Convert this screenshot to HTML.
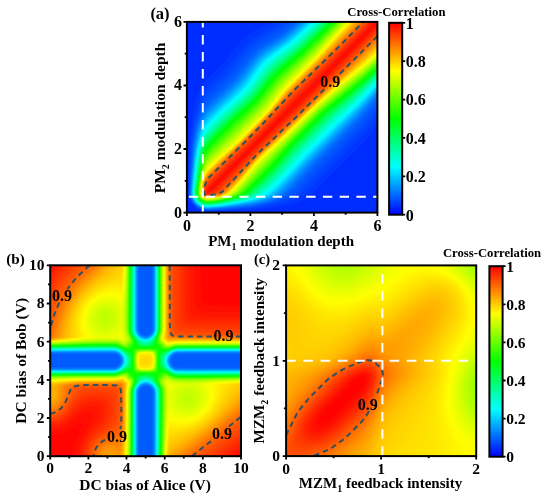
<!DOCTYPE html>
<html><head><meta charset="utf-8"><title>Cross-Correlation maps</title>
<style>html,body{margin:0;padding:0;background:#fff}svg{display:block}text{font-family:"Liberation Serif",serif;font-weight:bold;fill:#000}</style>
</head><body>
<svg width="550" height="501" viewBox="0 0 550 501">
<rect width="550" height="501" fill="#fff"/>
<g><rect x="186.9" y="21.9" width="190.5" height="190.7" fill="#002dff"/>
<path fill="#0036ff" d="M267,22.9 268,21.9 377.4,21.9 377.4,127.4 375.4,129.3 357.2,148.7 327.3,178.7 314.3,192.6 312.1,194.6 309.5,196.6 303.2,200.2 296.2,203 288.2,205.2 279.1,206.9 261.1,209.3 249.1,210.3 210,212.1 204.9,212 200.9,211 198.9,210.2 195.9,208.4 193.8,206.6 191.1,203.6 189.4,200.6 188.5,198.6 187.6,194.6 187.4,192.6 188.5,158.7 189.6,137.7 190.5,128.7 193.2,109.8 194.7,102.8 196.4,96.8 198.4,91.8 200.4,87.8 202.2,84.8 204.3,81.8 207,78.9 216.6,69.8 222,64.3 226,59.6 236.5,45.9 241,40.7 245.1,36.9 249.1,33.9Z"/>
<path fill="#003fff" d="M275.6,22.9 276.4,21.9 377.4,21.9 377.4,119.7 375.4,121.5 354.3,144.1 322.3,176.4 307.2,192.6 303.5,195.6 299.2,198.1 292.2,201.1 285.2,203.2 267.1,206.9 258.1,208.3 248.1,209.2 213,211.2 205.9,211.3 203.9,211.1 200.9,210.2 197.9,208.8 194.9,206.7 192.8,204.6 191.3,202.6 189.3,198.6 188.5,195.6 188.2,192.6 188.4,182.6 189.6,156.7 190.3,143.7 191.2,134.7 192.6,125.7 195.6,110.8 197.4,103.8 199.1,98.8 201.9,92.8 203.8,89.8 205.3,87.8 208,85 219,74.8 225,68.8 230,62.9 240.9,48.9 246.1,43.1 249.1,40.4 253.1,37.4 268.8,27.9 273.1,24.9Z"/>
<path fill="#0048ff" d="M281.9,21.9 377.4,21.9 377.4,114.1 376.4,114.9 353.4,139.7 320.7,172.7 303.1,191.6 299.6,194.6 296.4,196.6 291.2,199 284.2,201.3 269.1,205.2 264.1,206.3 257.1,207.4 251.1,208.2 239,209.1 220,210.3 209,210.8 205.9,210.8 203.9,210.5 201.9,210.1 199.9,209.3 197.9,208.3 194.9,206.1 192.6,203.6 191.3,201.6 190.2,199.6 189.2,196.6 188.7,193.6 188.7,191.6 190.4,154.7 191.3,142.7 192.1,135.7 193.4,127.7 195.4,118.7 198.7,106.8 201.3,99.8 203.4,95.8 205.9,92.2 208.3,89.8 222.3,76.8 228,71 233,65.1 243.2,51.9 249.1,45.3 252.1,42.7 256.1,39.8 270.9,30.9 275.1,28 280.1,23.9Z"/>
<path fill="#0051ff" d="M285.8,22.9 286.6,21.9 377.4,21.9 377.4,109.2 376.4,110.1 364,123.7 352.3,136.3 318.2,170.6 299.7,190.6 296.5,193.6 293.4,195.6 290.2,197.2 286.7,198.6 273.1,203.1 265.1,205.1 255.1,206.9 247.1,207.8 233,209 218,210 210,210.4 204.9,210.3 202.9,209.9 199.9,208.9 196.9,207.2 195,205.6 193.1,203.6 191.7,201.6 190.3,198.6 189.6,196.6 189.1,193.6 189.1,190.6 189.5,180.7 191.1,153.7 191.8,144.7 192.6,137.7 194.2,128.7 196.1,120.7 199.6,109.8 202.2,102.8 204.4,98.8 207,95.4 223,80.5 229.7,73.8 234.8,67.8 245.6,53.8 251.1,47.8 254.1,45.1 258.1,42.1 272.1,33.7 277.1,30.4 280.3,27.9Z"/>
<path fill="#0059ff" d="M290,22.9 290.8,21.9 377.4,21.9 377.4,104.9 376.4,105.7 368.4,114.8 348.3,136.4 316.2,168.6 295.8,190.6 293.2,193 290.2,195.1 287.2,196.6 282.1,198.8 273.1,202.1 265.1,204.3 254.1,206.4 236,208.2 221,209.4 209,210.1 205.9,210.1 203.9,209.8 201.9,209.3 198.9,208 195.9,206 194.4,204.6 192.8,202.6 191.5,200.6 190.3,197.6 189.8,195.6 189.5,193.6 189.5,190.6 191.4,155.7 192.4,144.7 193.3,137.7 195.2,127.7 197.1,120.7 199.5,113.8 202.9,105.6 204.9,101.9 205.9,100.5 208,98.3 225.7,81.8 232.6,74.8 237,69.6 247.6,55.8 251.1,51.9 254,48.9 257.1,46.3 261.1,43.5 273.8,35.9 279.1,32.4 283.2,29.2Z"/>
<path fill="#0062ff" d="M293.4,22.9 294.3,21.9 377.4,21.9 377.4,101.3 376.4,102.2 367.2,112.8 350.4,130.7 314.2,167.2 294.4,188.6 290.2,192.6 288.2,194.2 285.9,195.6 283.2,197.1 278.1,199.3 270.1,202.2 262.1,204.3 253.1,205.9 233,208.1 219,209.2 209,209.8 205.9,209.7 203.9,209.5 201.9,208.9 199.9,208.2 197.9,207.1 195.9,205.6 194,203.6 192.5,201.6 191.4,199.6 190.3,196.6 189.8,193.6 189.8,191.6 190.2,180.7 191.6,159.7 192.4,149.7 193.6,139.7 195.3,130.7 197.1,123.7 199.4,116.8 202.5,109.8 204.9,105.3 208,101.7 227.2,83.8 234,77 239,71 248.3,58.8 251.6,54.8 255.1,51.2 258.1,48.5 262.1,45.6 276.5,36.9 281,33.9 284.7,30.9Z"/>
<path fill="#006bff" d="M295.6,22.9 296.4,21.9 377.4,21.9 377.4,99.1 376.4,100 367,110.8 352.9,125.7 343.2,135.7 313.2,165.8 292.9,187.6 287.8,192.6 283.6,195.6 277.1,198.8 270.1,201.4 261.1,203.9 253.1,205.4 231,207.8 218,209 209,209.5 205.9,209.5 203.9,209.2 200.9,208.3 198.9,207.3 196.9,206.1 194.9,204.3 193.5,202.6 191.7,199.6 190.6,196.6 190.2,194.6 190.1,189.6 190.6,180.7 192.2,156.7 193.2,146.7 194.3,138.7 195.7,131.7 197.5,124.7 200.4,116.8 202.9,111.2 204.9,107.8 208,104.2 228.8,84.8 235,78.6 239.1,73.8 250.5,58.8 253.9,54.8 256.9,51.9 260.1,49.1 264.1,46.2 276.2,38.9 282.1,34.9 285.8,31.9Z"/>
<path fill="#0074ff" d="M298.1,21.9 377.4,21.9 377.4,97.5 375.4,99.4 366.3,109.8 356.3,120.4 343.3,133.8 312.2,164.9 292.1,186.6 285.9,192.6 281.7,195.6 279.1,197 275.1,198.8 268.1,201.4 259.1,203.8 251.1,205.2 237,206.9 223,208.3 209,209.2 205.9,209.2 203.9,208.9 200.9,208 198.9,207.1 195.6,204.6 193.8,202.6 192.5,200.6 191.5,198.6 190.6,195.6 190.3,193.6 190.3,190.6 192.5,157.7 193.4,148.7 194.7,139.7 196.3,131.7 198.2,124.7 200.4,118.7 202.9,113.2 204.9,109.9 208,106.2 214,100.4 229.8,85.8 236,79.6 241,73.5 251.4,59.8 257.1,53.5 260.1,50.8 264.1,47.8 278.3,38.9 284,34.9 295.2,24.9 297.3,22.9Z"/>
<path fill="#007dff" d="M298.8,22.9 299.5,21.9 377.4,21.9 377.4,96.1 375.4,98 365.9,108.8 357.3,117.8 344.3,131.1 311.9,163.7 291.2,185.9 285.4,191.6 283,193.6 281.1,194.9 278.2,196.6 275.1,198.1 267.1,201.1 258.1,203.5 249.1,205 239,206.3 222,208.1 209,209 205.9,209 203.9,208.7 201.9,208.1 198.9,206.8 196.9,205.4 194.9,203.6 193.4,201.6 192.2,199.6 191.4,197.6 190.7,194.6 190.6,190.6 191.2,179.7 192.7,159.7 193.6,150.7 195.2,139.7 196.6,132.7 198.6,125.7 200.7,119.7 203.1,114.8 205.9,110.2 209,106.9 215,101.1 230.5,86.8 237,80.3 242,74.2 252.1,60.8 255.1,57.3 258.1,54.1 261.1,51.4 265.1,48.4 278.6,39.9 284.3,35.9 289,31.9Z"/>
<path fill="#0086ff" d="M300,22.9 300.8,21.9 377.4,21.9 377.4,94.8 376.4,95.6 366.6,106.8 360.4,113.4 348.3,125.7 311.2,162.9 290.2,185.5 283.9,191.6 280.1,194.6 275.1,197.3 268.1,200.2 259.1,202.7 251.1,204.3 238,206.1 221,207.9 210,208.7 207,208.8 204.9,208.6 202.9,208.2 199.9,207.1 197.9,205.9 195.9,204.3 194.4,202.6 193,200.6 191.7,197.6 191.1,195.6 190.8,193.6 190.8,190.6 191.4,180.7 193.2,157.7 194.2,148.7 195.5,140.7 196.7,134.7 198.5,127.7 200.6,121.7 203.4,115.8 205.9,111.8 209,108.5 215,102.6 231.1,87.8 238,80.8 243,74.6 252.6,61.8 255.9,57.8 259.1,54.6 262.2,51.9 266.1,48.9 280.1,39.9 284.5,36.9 288.2,33.8Z"/>
<path fill="#008eff" d="M302,21.9 377.4,21.9 377.4,93.7 375.4,95.6 367.3,104.8 360.4,112.2 311.1,161.7 289.7,184.6 282.5,191.6 278.7,194.6 276.1,196.1 272.1,198 264.1,200.9 256.1,203 244.1,204.9 220,207.8 209,208.5 205.9,208.5 203.9,208.2 200.9,207.3 198.9,206.3 196.9,204.9 195.5,203.6 193.9,201.6 192.7,199.6 191.6,196.6 191.1,194.6 191,192.6 191.1,189.6 191.6,180.7 193.4,158.7 194.3,150.7 195.4,143.7 196.7,136.7 198.8,128.7 201.3,121.7 203.7,116.8 205.9,113.3 210,108.9 217,102.1 231.4,88.8 238,82.3 243,76.2 253.8,61.8 259.1,55.8 262.1,53.1 266.1,50 280.2,40.9 285.8,36.9 299.1,24.9 301.2,22.9Z"/>
<path fill="#0097ff" d="M303.1,21.9 377.4,21.9 377.4,92.6 375.4,94.5 367.2,103.8 360.4,111.1 310.2,161.3 288.5,184.6 281.3,191.6 277.4,194.6 274.1,196.5 271.1,197.8 267.1,199.4 262.1,201 254.1,202.9 242,204.9 221,207.4 208,208.4 204.9,208.2 202.9,207.8 200.9,207.1 198.9,206.1 196.9,204.6 194.9,202.6 193.5,200.6 192.5,198.6 191.8,196.6 191.3,194.6 191.2,192.6 191.3,189.6 193.5,160.7 194.4,152.7 195.4,145.7 197.1,136.7 198.7,130.7 201.1,123.7 203.9,117.7 207,113.4 211,109.2 217,103.4 232.8,88.8 239,82.5 244.1,76.4 254.1,62.8 257.1,59.3 260.1,56.1 263.1,53.4 267.1,50.3 280.1,41.8 286.2,37.5 289.3,34.9 299.1,25.9 302.3,22.9Z"/>
<path fill="#00a0ff" d="M304.1,21.9 377.4,21.9 377.4,91.6 375.4,93.5 365.4,104.8 358.4,112.1 309.2,161.2 287.3,184.6 280,191.6 276.1,194.6 272.5,196.6 269.1,198.1 261.1,200.8 257.1,201.8 251.1,203.1 240,204.9 220,207.3 208,208.2 204.9,208 202.9,207.5 200.9,206.8 198.9,205.8 196.9,204.4 195.1,202.6 193.7,200.6 192.7,198.6 192,196.6 191.5,194.6 191.4,192.6 191.5,189.6 193.7,161.7 194.6,153.7 195.6,146.7 197.6,136.7 199.2,130.7 201.3,124.7 203.9,119 205.4,116.8 207,114.7 211,110.4 217.9,103.8 233,89.8 239.1,83.8 244.1,77.9 255.1,62.8 257.7,59.8 260.5,56.8 263.8,53.8 267.1,51.3 281.4,41.9 286.8,37.9 300.2,25.9 303.3,22.9Z"/>
<path fill="#00a9ff" d="M305.1,21.9 377.4,21.9 377.4,90.7 375.4,92.6 366.3,102.8 359.4,110.1 337.5,131.7 308.6,160.7 287.2,183.7 278.9,191.6 274.9,194.6 272.1,196.2 269.1,197.6 262.1,200.1 254.1,202.1 243,204.1 220,207.1 209,208 205.9,207.9 203.9,207.6 201.9,207 199.9,206.2 197.9,204.9 196.3,203.6 194.6,201.6 193.4,199.6 192.5,197.6 191.9,195.6 191.6,193.6 191.6,190.6 192.3,180.7 194.2,159.7 195.8,147.7 197.6,138.7 199.3,131.7 201.4,125.7 203.9,120.3 205.5,117.7 207,115.9 211.8,110.8 218,104.8 233.2,90.8 240,84 245.1,77.9 255.4,63.8 258.1,60.5 261.1,57.4 264.1,54.6 268.1,51.5 282.6,41.9 287.9,37.9 302.2,24.9 304.3,22.9Z"/>
<path fill="#00b2ff" d="M306,21.9 377.4,21.9 377.4,89.8 375.4,91.7 365.5,102.8 359.4,109.2 337.3,130.9 308.2,160 286.2,183.6 278.1,191.3 274.1,194.4 271.1,196.1 268.1,197.5 261.1,199.9 251.1,202.3 240,204.3 220,206.9 208,207.8 205.9,207.7 202.9,207.2 200.9,206.4 198.9,205.4 196.9,203.9 195.6,202.6 194.2,200.6 193.1,198.6 192.4,196.6 191.8,193.6 191.9,188.6 194.5,159.7 195.3,152.7 196.3,146.7 198.4,136.7 199.8,131.7 201.9,125.7 204.4,120.7 207,117 213,110.8 219,105 234,91.1 240.4,84.8 245.1,79.2 256.1,64.1 258.8,60.8 261.7,57.8 265,54.8 268.1,52.4 282.3,42.9 288.2,38.5 303.2,24.9 305.3,22.9Z"/>
<path fill="#0bf" d="M306.2,22.9 306.9,21.9 377.4,21.9 377.4,88.9 375.4,90.8 365.4,102 358.4,109.3 336.4,130.7 307.5,159.7 286.1,182.6 277.8,190.6 275.5,192.6 273.1,194.3 270.9,195.6 267.1,197.4 260.1,199.8 250.1,202.2 239,204.1 219,206.8 208,207.6 204.9,207.4 202.9,207 200.9,206.2 198.9,205.2 196.9,203.7 195.9,202.6 194.4,200.6 193.3,198.6 192.6,196.6 192.1,194.6 192,192.6 192.1,188.6 194.6,160.7 195.4,153.7 196.4,147.7 198.6,137.7 200.2,131.7 202.5,125.7 204.5,121.7 207,118.2 213,111.8 219.3,105.8 234.4,91.8 241,85.2 246.1,79.1 256.4,64.8 259.1,61.6 262.1,58.4 265.1,55.7 269.1,52.5 283.2,43 288.2,39.3 295.4,32.9Z"/>
<path fill="#00c3ff" d="M307,22.9 307.8,21.9 377.4,21.9 377.4,88.1 375.4,90 364.8,101.8 358.4,108.5 336.4,129.7 307.5,158.7 285.2,182.6 277.1,190.3 273.1,193.6 270.1,195.5 267.7,196.6 264.1,198.1 260.1,199.4 249.1,202.1 238,204 220,206.5 208,207.4 204.9,207.2 202.9,206.8 200.9,206 198.9,205 197.1,203.6 195.9,202.4 194.6,200.6 193.5,198.6 192.5,195.6 192.2,193.6 192.3,188.6 194.9,160.7 195.6,154.7 196.5,148.7 198.5,139.7 200.4,132.7 202.6,126.7 204.9,122.1 208,118.1 214.1,111.8 220,106.1 235,92.3 241.5,85.8 246.1,80.3 257.1,65.1 259.8,61.8 262.7,58.8 266,55.8 269.8,52.9 283.2,43.8 288.4,39.9 295.2,33.9Z"/>
<path fill="#0cf" d="M307.9,22.9 308.6,21.9 377.4,21.9 377.4,87.3 375.4,89.1 364.9,100.8 358.4,107.6 336.3,128.9 307.2,158 284.2,182.6 276.1,190.3 272.1,193.6 270.1,194.9 267.1,196.4 261.1,198.7 251.1,201.3 240,203.5 221,206.2 209,207.2 205.9,207.2 203.9,206.9 201.9,206.3 199.9,205.4 197.9,204.1 196.3,202.6 194.2,199.6 193.3,197.6 192.7,195.6 192.4,193.6 192.4,190.6 195.1,160.7 196.6,149.7 198.4,141.7 200.8,132.7 202.9,127 204.9,123.1 208,119.2 215,111.9 235.5,92.8 242,86.3 247.1,80.2 257.4,65.8 260.1,62.6 263.1,59.4 266.1,56.6 270.1,53.5 284,43.9 289.2,40 298.3,31.9Z"/>
<path fill="#00d5ff" d="M308.7,22.9 309.4,21.9 377.4,21.9 377.4,86.5 375.4,88.4 364.4,100.6 358.4,106.8 335.5,128.7 306.6,157.7 284.2,181.7 275.9,189.6 271.1,193.6 269.1,194.9 266.1,196.4 260.1,198.5 250.1,201.2 239,203.4 220,206.1 209,207 205.9,207 203.9,206.7 201.9,206.1 199.9,205.2 197.9,203.8 196.6,202.6 194.4,199.6 193.5,197.6 192.9,195.6 192.5,193.6 192.5,190.6 195.3,160.7 196.7,150.7 198.5,142.7 200.9,133.7 202.9,128.2 204.9,124.2 208,120.2 215,112.9 221,107.1 236,93.3 242.5,86.8 247.1,81.3 258.1,66 260.7,62.8 263.6,59.8 266.9,56.8 270.7,53.8 285,43.9 290.2,39.9 300.2,30.9Z"/>
<path fill="#00deff" d="M309.5,22.9 310.2,21.9 377.4,21.9 377.4,85.8 375.4,87.6 364.4,99.8 358.4,106.1 335.3,128.1 306.7,156.7 283.3,181.6 275,189.6 270.1,193.6 268.1,194.8 265.1,196.3 259.1,198.4 249.1,201.1 238,203.3 220,205.9 209,206.9 205.9,206.8 203.9,206.5 201.9,205.9 199.9,205 197.9,203.6 196.8,202.6 195.2,200.6 194.1,198.6 193.3,196.6 192.9,194.6 192.7,190.6 195.6,160.7 197.2,149.7 199,141.7 201.3,133.7 202.9,129.3 204.9,125.3 205.9,123.7 208,121.2 215.1,113.8 221.3,107.8 236.5,93.8 243,87.3 248.1,81.1 258.3,66.8 261.1,63.4 264.1,60.2 267.1,57.5 271.1,54.3 285.2,44.5 290.2,40.6 299.9,31.9Z"/>
<path fill="#00e7ff" d="M311,21.9 377.4,21.9 377.4,85.1 375.4,86.8 364.4,99 357.9,105.8 334.7,127.7 306.2,156.3 283.2,180.9 274,189.6 271.8,191.6 269.1,193.6 267.1,194.8 264.1,196.3 258.1,198.3 248.1,201.1 237,203.2 220,205.7 209,206.7 205.9,206.7 203.9,206.3 201.9,205.7 199.7,204.6 196.9,202.5 195.4,200.6 194.3,198.6 193.5,196.6 193,194.6 192.8,192.6 193,189.6 195.8,160.7 197.3,150.7 198.8,143.7 201.1,135.7 202.9,130.4 204.9,126.3 205.9,124.7 208,122.2 216,113.8 222,108.1 237,94.2 243.5,87.8 248.4,81.8 259.1,66.8 261.6,63.8 264.4,60.8 267.6,57.8 271.4,54.8 285.2,45.2 290.7,40.9 306.2,26.8 310.3,22.9Z"/>
<path fill="#00f0ff" d="M311.1,22.9 311.8,21.9 377.4,21.9 377.4,84.3 375.4,86.1 363.4,99.3 357.3,105.5 334.3,127.3 305.9,155.7 288.2,174.8 282.1,181 273.1,189.6 270.8,191.6 268.2,193.6 266.1,194.8 263.1,196.2 255.1,198.9 246.1,201.2 236,203.1 221,205.4 209,206.5 206,206.5 203.9,206.2 201.9,205.5 199.9,204.6 198.5,203.6 196.9,202.3 195.6,200.6 194.4,198.6 193.7,196.6 193.2,194.6 193,192.6 193.1,189.6 196,160.7 197.5,150.7 199.4,142.7 201.5,135.7 203.3,130.7 205.3,126.7 208,123.2 216,114.8 222.2,108.8 238,94.2 244.1,88.2 249.1,82 259.1,67.8 262.1,64.2 265.1,61 268.6,57.8 272.4,54.8 286.2,45.1 291.2,41.2 301.2,32.2Z"/>
<path fill="#00f8ff" d="M311.9,22.9 312.6,21.9 377.4,21.9 377.4,83.6 375.4,85.4 363.4,98.5 357.3,104.7 333.9,126.7 306,154.7 281.6,180.7 272.1,189.7 269.9,191.6 267.1,193.6 265.1,194.8 262.1,196.1 253.1,199.1 245.1,201.2 235,203.1 221,205.2 209,206.4 205.9,206.3 203.9,206 201.9,205.4 199.9,204.4 197.9,203 196.5,201.6 195.1,199.6 194.2,197.6 193.5,195.6 193.2,193.6 193.3,188.6 196.2,160.7 197.8,150.7 199.4,143.7 201.9,135.5 203.9,130.4 205.9,126.7 209,123 218,113.8 238,95.1 244.4,88.8 249.3,82.8 259.9,67.8 262.4,64.8 265.2,61.8 268.4,58.8 272.1,55.8 285.2,46.6 291.2,42 301.2,32.9Z"/>
<path fill="#00fffd" d="M312.7,22.9 313.4,21.9 377.4,21.9 377.4,82.9 375.4,84.6 363.4,97.7 357.3,103.9 333.3,126.4 305.2,154.5 287.2,173.9 281.1,180.2 273.3,187.6 267.6,192.6 265.1,194.2 262.2,195.6 256.1,197.8 247.1,200.4 237,202.5 221,205.1 209,206.2 205.9,206.2 203.9,205.8 201.9,205.2 199.9,204.2 197.9,202.8 196.7,201.6 195.3,199.6 194.3,197.6 193.7,195.6 193.4,193.6 193.5,188.6 196.4,160.7 198,150.7 199.7,143.7 201.9,136.6 203.9,131.5 205.9,127.8 209,124 217.9,114.8 238.3,95.8 245.1,89.1 249.4,83.8 260.1,68.7 263.1,65.1 266.1,61.9 269.5,58.8 273.2,55.8 286.2,46.6 291.2,42.7 300.2,34.7Z"/>
<path fill="#00fff4" d="M313.6,22.9 314.3,21.9 377.4,21.9 377.4,82.1 375.4,83.9 362.4,97.9 356.3,104 333.3,125.4 305.2,153.4 298.3,160.7 286.2,174 280.7,179.7 272.3,187.6 266.5,192.6 264.1,194.1 261,195.6 254.1,198.2 246.1,200.4 236,202.4 221,204.9 209,206.1 205.9,206 203.9,205.7 201.9,205 199.9,204 198,202.6 196.9,201.6 195.5,199.6 194.5,197.6 193.9,195.6 193.5,193.6 193.7,188.6 196.7,160.7 198.3,150.7 199.7,144.7 201.9,137.6 203.9,132.5 205.9,128.8 209,125.1 218,115.7 224,109.9 239,96.1 245.4,89.8 250.3,83.8 260.2,69.8 263.1,66.2 266.2,62.8 269.4,59.8 273.1,56.8 287.2,46.6 292.2,42.7 302.2,33.7Z"/>
<path fill="#00ffeb" d="M315.2,21.9 377.4,21.9 377.4,81.4 375.4,83.1 362.4,97 356.3,103.1 332.8,124.7 305.2,152.3 298.2,159.6 285.4,173.7 279.6,179.7 271.2,187.6 265.4,192.6 263.1,194.1 260,195.6 256.1,197.1 251.1,198.8 242,201.1 231,203.1 219,205 212,205.7 208,205.9 205.9,205.9 203.9,205.5 201.9,204.9 199.9,203.9 198.2,202.6 196.9,201.4 195.7,199.6 194.7,197.6 194,195.6 193.7,193.6 193.8,188.6 196.9,160.7 198.3,151.7 199.7,145.7 201.9,138.6 203.9,133.6 205.9,129.8 209,126.1 218.9,115.8 239.3,96.8 246.1,90.1 251.1,83.9 261.1,69.8 264.1,66.2 267.1,63 270.1,60.2 274.1,57 288.2,46.7 293.2,42.7 309.3,27.9 313.5,23.9Z"/>
<path fill="#00ffe2" d="M316.1,21.9 377.4,21.9 377.4,80.7 375.4,82.4 362.4,96.1 355.3,103.1 335.9,120.7 330.3,126.1 302.2,154.3 285.4,172.7 280.1,178.1 271.3,186.6 264.4,192.6 262.1,194.1 259,195.6 255.1,197.1 250.1,198.8 241,201.1 228,203.4 217,205.1 208,205.8 205.9,205.7 203.9,205.4 201.9,204.7 199.9,203.7 197.9,202.2 196.5,200.6 195.3,198.6 194.5,196.6 194,194.6 193.8,192.6 194.1,187.6 197.2,159.7 198.5,151.7 200,145.7 201.9,139.6 203.9,134.5 205.9,130.8 209,127 219,116.6 225,110.9 240,97.1 246.4,90.8 251.1,85.1 262.1,69.8 264.5,66.8 267.3,63.8 270.6,60.8 274.2,57.8 289,46.9 294,42.9 310.2,27.9 314.4,23.9Z"/>
<path fill="#00ffd9" d="M316.2,22.9 317,21.9 377.4,21.9 377.4,80.1 375.4,81.8 362.4,95.3 355.3,102.3 336,119.7 329.6,125.7 301.2,154.3 285.4,171.7 279.6,177.7 271.1,185.9 263.4,192.6 261.1,194.1 258,195.6 254.1,197.2 249.1,198.8 240,201 227,203.4 216,205 208,205.6 205.9,205.6 203.9,205.2 201.9,204.5 199.9,203.5 197.9,202 196.7,200.6 195.5,198.6 194.6,196.6 194.1,194.6 193.9,192.6 194.2,187.6 197.4,159.7 198.8,151.7 200.3,145.7 202.2,139.7 203.9,135.4 205.9,131.7 209.2,127.7 219.8,116.8 240.2,97.8 247.1,91 252.1,84.8 262.2,70.8 265.1,67.2 268.1,64.1 271.1,61.3 275.1,58 288.8,47.9 293.8,43.9 305.8,32.9Z"/>
<path fill="#00ffd1" d="M317,22.9 317.8,21.9 377.4,21.9 377.4,79.4 375.4,81.1 361.4,95.5 354.3,102.4 336,118.7 329.7,124.7 301.2,153.2 284.5,171.7 279.1,177.2 270.1,185.9 262.4,192.6 260.1,194.1 257.1,195.6 253.1,197.2 248.1,198.8 240,200.8 226,203.4 215,205 208,205.5 206,205.4 203.9,205.1 201.9,204.4 199.9,203.3 197.9,201.8 196.9,200.6 195.6,198.6 194.8,196.6 194.3,194.6 194.1,192.6 194.3,187.6 197.5,160.7 198.8,152.7 200.3,146.7 202.2,140.7 203.9,136.3 205.9,132.6 209.1,128.7 220,117.4 226,111.6 241,97.9 247.2,91.8 252.1,85.9 263,70.8 265.5,67.8 268.3,64.8 271.5,61.8 275.1,58.8 288.5,48.9 294.2,44.3 306.6,32.9Z"/>
<path fill="#00ffc8" d="M317.8,22.9 318.5,21.9 377.4,21.9 377.4,78.9 375.4,80.5 361.4,94.8 354.3,101.6 336.2,117.7 329.3,124.2 300.2,153.3 284.5,170.7 278.8,176.7 269.5,185.6 261.5,192.6 259.1,194.2 256.2,195.6 252.1,197.2 247.8,198.6 239,200.8 225,203.4 214,205 207,205.3 204.9,205.1 202.9,204.6 199.9,203.2 198,201.6 197.1,200.6 195.3,197.6 194.6,195.6 194.3,193.6 194.4,188.6 197.7,160.7 199,152.7 200.2,147.7 202.1,141.7 203.9,137.2 205.9,133.5 208,130.8 209.9,128.7 220.4,117.7 226,112.4 241,98.7 248,91.8 252.9,85.8 263.1,71.7 266.1,68.1 269.1,64.9 272.5,61.8 276.1,58.8 289.2,49 294.4,44.9 307.2,33.1Z"/>
<path fill="#00ffbf" d="M318.5,22.9 319.3,21.9 377.4,21.9 377.4,78.3 375.4,80 361.4,94.1 354.3,100.9 335.2,117.7 328.8,123.7 300.2,152.4 283.7,170.7 278.1,176.5 268.6,185.6 260.7,192.6 258.1,194.3 255.4,195.6 251.1,197.3 247.1,198.6 240,200.4 225,203.3 214,204.8 207,205.2 204.9,205 202.9,204.5 199.9,203 198.2,201.6 197.3,200.6 196,198.6 195.1,196.6 194.4,193.6 194.5,188.6 198.1,159.7 199.3,152.7 200.5,147.7 202.4,141.7 203.9,138 205.9,134.3 208,131.7 210,129.4 221,118 227,112.3 241.8,98.8 248.1,92.6 253.1,86.5 263.8,71.8 269.1,65.8 272.3,62.8 276.1,59.6 290.2,49 295.2,44.9 308.2,32.8Z"/>
<path fill="#00ffb6" d="M320,21.9 377.4,21.9 377.4,77.8 375.4,79.4 361.4,93.4 353.3,101.1 334.3,117.7 328.3,123.4 299.2,152.6 283.8,169.7 278.1,175.7 268.1,185.3 259.8,192.6 257.1,194.4 254.5,195.6 247.1,198.3 239,200.4 224,203.3 214,204.7 207,205.1 204.9,204.8 202.9,204.3 199.9,202.8 198.4,201.6 197.4,200.6 196.1,198.6 195.2,196.6 194.7,194.6 194.5,192.6 194.7,188.6 198.3,159.7 199.5,152.7 200.9,147.1 202.7,141.7 203.9,138.8 205.9,135.1 208,132.4 210,130.2 221,118.7 227,113 242,99.3 248.6,92.8 253.6,86.8 264.1,72.4 267.1,68.8 270,65.8 276.8,59.8 290.2,49.7 296,44.9 314.2,27.9 318.3,23.9Z"/>
<path fill="#00ffad" d="M319.9,22.9 320.7,21.9 377.4,21.9 377.4,77.2 375.4,78.9 361.4,92.8 353.3,100.4 334.5,116.8 328.1,122.7 299.2,151.7 283,169.7 277.4,175.7 267.1,185.5 259,192.6 256.1,194.5 253.7,195.6 250.1,197.1 246.1,198.4 239,200.1 224,203.1 214,204.5 207,204.9 204.9,204.7 202.9,204.2 199.9,202.7 197.6,200.6 196.3,198.6 195.4,196.6 194.9,194.6 194.6,192.6 194.8,188.6 198.3,160.7 199.5,153.7 200.7,148.7 202.7,142.7 203.9,139.6 205.9,135.9 208,133.2 210,131 221.7,118.7 228,112.8 242.3,99.8 249.1,93.1 254.1,87 264.5,72.8 267.1,69.7 270.1,66.5 277.1,60.3 290.8,49.9 296.2,45.4 309.6,32.9Z"/>
<path fill="#00ffa4" d="M320.6,22.9 321.3,21.9 377.4,21.9 377.4,76.7 375.4,78.4 360.4,93.1 352.3,100.7 334.8,115.8 328.3,121.7 299.2,150.8 282.3,169.7 277.1,175.1 267.1,184.8 258.2,192.6 256.1,194 252.9,195.6 246.1,198.1 239,199.9 224,203 214,204.4 207,204.8 204.9,204.5 202.9,204 199.9,202.5 197.9,200.8 197,199.6 195.5,196.6 195,194.6 194.8,192.6 195.1,187.6 198.6,160.7 199.7,153.7 200.9,148.8 202.6,143.7 203.9,140.3 205.9,136.6 208,134 210,131.7 222,119.2 228,113.5 243,99.8 249.2,93.8 254.2,87.8 265.1,73 267.8,69.8 270.6,66.8 277.4,60.8 291.2,50.2 296.2,46 310.2,33Z"/>
<path fill="#00ff9c" d="M322,21.9 377.4,21.9 377.4,76.2 375.4,77.8 361.4,91.5 352.3,100 334,115.8 327.4,121.7 298.2,151 282.5,168.7 276.8,174.7 266.5,184.6 257.5,192.6 255.1,194.2 252.2,195.6 245.1,198.2 237,200.2 223,203 214,204.2 207,204.6 204.9,204.4 202.9,203.9 199.9,202.3 198,200.6 197.2,199.6 195.7,196.6 195.1,194.6 194.9,192.6 195.2,187.6 198.6,161.7 199.9,153.7 201.2,148.7 202.9,143.7 204.1,140.7 205.9,137.3 208,134.7 210,132.5 222.2,119.7 228,114.2 243,100.5 249.9,93.8 254.8,87.8 265.2,73.8 268.1,70.3 271.1,67.1 278.1,60.9 291.2,50.8 297.1,45.9 315.2,28.8 320.3,23.9Z"/>
<path fill="#00ff93" d="M321.9,22.9 322.6,21.9 377.4,21.9 377.4,75.8 375.4,77.4 352.3,99.4 334.3,114.8 327.3,121.1 298.2,150.2 281.8,168.7 277.1,173.7 266.1,184.3 256.7,192.6 254.1,194.3 251.4,195.6 245.1,197.9 237,200 223,202.8 214,204.1 207,204.5 204.9,204.3 202.9,203.7 199.9,202.2 198.2,200.6 197.4,199.6 196.2,197.6 195.5,195.6 195.1,192.6 195.3,187.6 198.5,163.7 200.1,153.7 201.4,148.7 202.9,144.2 204.5,140.7 205.9,138.1 208,135.4 210.4,132.7 222.9,119.7 229,113.9 243.5,100.8 250.1,94.3 255.1,88.3 265.8,73.8 271.2,67.8 277.8,61.8 291.9,50.9 297.2,46.4 311.2,33.3Z"/>
<path fill="#00ff8a" d="M322.6,22.9 323.3,21.9 377.4,21.9 377.4,75.3 375.4,76.9 360.4,91.3 351.3,99.6 333.4,114.8 326.9,120.7 297.9,149.7 293.2,154.9 282,167.7 276.3,173.7 265,184.6 256,192.6 253.1,194.5 250.7,195.6 245.1,197.7 236,200 222,202.8 214,204 207,204.4 204.9,204.1 202.9,203.6 199.9,202 198.3,200.6 197.5,199.6 196.4,197.6 195.7,195.6 195.2,192.6 195.5,187.6 198.4,165.7 200.4,153.7 201.4,149.7 202.9,145 204.3,141.7 205.9,138.8 208,136.1 210.1,133.7 223,120.3 229,114.6 244.1,100.9 250.3,94.8 255.3,88.8 266.1,74.3 269.1,70.8 271.9,67.8 278.7,61.8 292.2,51.3 297.4,46.9 311.2,33.9Z"/>
<path fill="#00ff81" d="M323.2,22.9 323.9,21.9 377.4,21.9 377.4,74.8 375.4,76.4 360.4,90.7 351.3,99 332.6,114.8 326.3,120.6 297.2,149.7 281.3,167.7 276.1,173.1 265.3,183.6 257.7,190.6 255.3,192.6 253.1,194.1 249.9,195.6 244.1,197.7 231,200.9 221,202.8 213,203.9 207,204.2 204.9,204 202.9,203.4 199.9,201.9 198.5,200.6 197.7,199.6 196.5,197.6 195.8,195.6 195.3,192.6 195.6,187.6 198.5,166.7 200.6,153.7 201.6,149.7 202.9,145.7 204.2,142.7 205.9,139.5 208,136.8 210.7,133.7 223,120.9 229,115.2 244.1,101.6 251,94.8 255.9,88.8 266.4,74.8 269.1,71.6 272.1,68.4 279.1,62.1 292.2,51.9 298.1,46.9 313,32.9Z"/>
<path fill="#00ff78" d="M323.8,22.9 324.5,21.9 377.4,21.9 377.4,74.4 375.4,76 361.4,89.2 351.3,98.4 333,113.8 326.3,119.8 297.2,148.9 292.2,154.4 280.6,167.7 275.9,172.7 264.6,183.6 257,190.6 254.6,192.6 252.1,194.2 249.2,195.6 243.7,197.6 230,201 220,202.9 213,203.8 207,204.1 204.9,203.9 202.9,203.3 199.9,201.7 197.9,199.6 196.7,197.6 195.9,195.6 195.5,192.6 195.7,187.6 198.5,167.7 200.8,153.7 201.9,149.7 203.2,145.7 204.9,141.9 206.3,139.7 208,137.5 212,133.1 223.9,120.7 230,114.9 244.6,101.8 250.7,95.8 255.8,89.8 267.1,74.8 272.4,68.8 279.1,62.8 293.2,51.7 298.2,47.4 313.2,33.2Z"/>
<path fill="#00ff6f" d="M325.1,21.9 377.4,21.9 377.4,73.9 375.4,75.5 360.4,89.6 350.3,98.7 332.2,113.8 325.6,119.7 296.7,148.7 291.2,154.7 280.8,166.7 275.2,172.7 263.9,183.6 256.3,190.6 253.9,192.6 251.1,194.4 248.5,195.6 242.9,197.6 230,200.8 220,202.7 213,203.7 207,204 204.9,203.7 202.9,203.2 200.1,201.6 198.9,200.6 197.9,199.5 196.8,197.6 196.1,195.6 195.6,192.6 196,186.6 199.1,164.7 201,153.7 202.4,148.7 203.9,144.7 204.9,142.6 206.7,139.7 209,137 213.8,131.7 224.5,120.7 230,115.6 244.2,102.8 251.1,96.1 256.4,89.8 267.1,75.6 270.1,72 273.1,68.9 279.9,62.8 293.2,52.3 298.4,47.9 317.3,29.9 323.4,23.9Z"/>
<path fill="#00ff67" d="M325,22.9 325.7,21.9 377.4,21.9 377.4,73.5 375.4,75.1 361.4,88.1 350.3,98.1 332.6,112.8 325.3,119.3 296.2,148.4 291.2,153.9 280.1,166.7 275.1,172 263.2,183.6 255.6,190.6 253.2,192.6 251.1,194 248.1,195.5 243,197.3 232,200.2 221,202.4 213,203.5 207,203.8 204.9,203.6 202.9,203 200.3,201.6 198.9,200.5 197.9,199.3 197,197.6 196.2,195.6 195.7,192.6 196,187.6 198.5,169.7 201,154.7 201.9,151 203.4,146.7 204.9,143.3 206.5,140.7 208,138.8 212.6,133.7 224.2,121.7 230,116.2 244.9,102.8 251.1,96.8 256.2,90.8 267.6,75.8 273.1,69.6 279.5,63.8 293.2,52.8 299,47.9 314.2,33.5Z"/>
<path fill="#00ff5e" d="M325.6,22.9 326.3,21.9 377.4,21.9 377.4,73.1 375.4,74.6 361.4,87.6 350.3,97.5 331.8,112.8 325.1,118.7 296.2,147.7 291.2,153.2 279.5,166.7 274.8,171.7 262.5,183.6 254.9,190.6 252.5,192.6 250.1,194.2 247.1,195.6 242,197.4 231,200.2 221,202.3 213,203.4 207,203.7 203.9,203.2 201.9,202.4 200.5,201.6 198.9,200.3 197.9,199 197.1,197.6 196.3,195.6 195.9,192.6 196.2,186.6 199.3,165.7 201.5,153.7 202.6,149.7 203.9,146.1 205.1,143.7 207,140.7 214.1,132.7 225,121.6 231,115.9 245.1,103.3 251.7,96.8 256.8,90.8 268.1,75.9 273.6,69.8 280.2,63.8 294.2,52.6 299.2,48.3 314.2,34.1Z"/>
<path fill="#0f5" d="M326.2,22.9 326.9,21.9 377.4,21.9 377.4,72.6 375.4,74.2 362.4,86.2 350.3,96.9 331.3,112.5 324.3,118.7 295.5,147.7 290.2,153.5 279.7,165.7 274.1,171.7 261.8,183.6 254.2,190.6 251.8,192.6 248.1,194.9 245.1,196.2 242,197.2 231,200.1 221,202.1 214,203.2 207,203.6 203.9,203.1 201.9,202.3 200.8,201.6 198.9,200.1 197.9,198.8 197.3,197.6 196.5,195.6 196,192.6 196.3,187.6 199.4,166.7 201.7,153.7 202.8,149.7 203.9,146.8 205.5,143.7 207,141.4 215,132.5 225.4,121.7 231,116.5 245.2,103.8 252.1,97.1 257.4,90.8 268.1,76.7 271.1,73.2 274.1,70 281,63.8 294.2,53.2 299.2,48.9 314.2,34.6Z"/>
<path fill="#00ff4c" d="M326.8,22.9 327.5,21.9 377.4,21.9 377.4,72.2 375.4,73.8 362.4,85.7 349.3,97.2 331.4,111.8 324.3,118.1 295.2,147.2 290.2,152.8 279.1,165.7 274.1,171 261.1,183.6 253.6,190.6 251.2,192.6 249.7,193.6 247.1,195 241,197.3 230,200.2 220,202.2 213,203.1 207,203.4 203.9,202.9 200.9,201.6 198.7,199.6 197.4,197.6 196.6,195.6 196.1,192.6 196.4,187.6 199.4,167.7 201.9,153.7 202.9,150.1 203.9,147.5 205.3,144.7 207,142 215,133.1 226,121.8 232,116.2 245.9,103.8 252.1,97.7 257.2,91.8 268.7,76.8 274.1,70.7 280.6,64.8 294.2,53.8 299.9,48.9 315.2,34.3Z"/>
<path fill="#00ff43" d="M328,21.9 377.4,21.9 377.4,71.8 375.4,73.3 363.4,84.3 349.3,96.7 330.6,111.8 323.9,117.7 295,146.7 290.2,152 279.1,164.9 273.8,170.7 260.4,183.6 252.9,190.6 250.5,192.6 247.1,194.7 245,195.6 241,197 230,200 220,202 213,203 207,203.3 203.9,202.8 200.9,201.4 198.9,199.7 198.1,198.6 196.8,195.6 196.3,192.6 196.5,187.6 199.4,168.7 201.9,154.6 202.9,150.9 203.9,148.2 205.1,145.7 207,142.7 215,133.8 226,122.4 232,116.8 246.1,104.2 252.6,97.8 257.8,91.8 269.1,77 274.7,70.8 281.3,64.8 295.2,53.5 300.2,49.2 320.3,30 326.4,23.9Z"/>
<path fill="#00ff3a" d="M327.9,22.9 328.6,21.9 377.4,21.9 377.4,71.4 375.4,72.9 364.4,82.9 349.3,96.1 331.1,110.8 324.2,116.8 294.3,146.7 289.2,152.4 278.7,164.7 273.1,170.6 259.8,183.6 252.2,190.6 249.9,192.6 246.1,194.9 240,197.1 229,200.1 219,202.1 213,202.9 207,203.2 203.9,202.7 200.9,201.3 199,199.6 198.3,198.6 196.9,195.6 196.4,192.6 196.7,187.6 199.5,168.7 202.2,154.7 202.9,151.7 203.9,148.9 204.9,146.6 207,143.3 215,134.4 226.3,122.7 232,117.4 246.1,104.8 253.1,98 258.4,91.8 269.1,77.8 272.1,74.3 275.1,71.1 282.1,64.8 295.2,54.1 300.2,49.7 316.2,34.4Z"/>
<path fill="#00ff32" d="M329.2,21.9 377.4,21.9 377.4,71 375.4,72.5 363.4,83.3 348.3,96.4 330.3,110.8 323.5,116.8 294.2,146.1 289.2,151.6 278,164.7 273.1,170 260.1,182.6 251.6,190.6 249.2,192.6 247.7,193.6 245.1,195 239,197.2 229,199.9 219,201.9 213,202.7 207,203 203.9,202.5 200.9,201.1 199.2,199.6 198.4,198.6 197,195.6 196.5,192.6 196.8,187.6 199.7,168.7 202.2,155.7 202.9,152.6 203.9,149.6 204.9,147.3 207,144 209,141.6 215.3,134.7 227,122.7 233,117.1 246.8,104.8 253.1,98.7 258.2,92.8 269.7,77.8 275.1,71.8 281.7,65.8 295.2,54.7 301.2,49.4 322.3,29.2 327.6,23.9Z"/>
<path fill="#00ff29" d="M329.1,22.9 329.8,21.9 377.4,21.9 377.4,70.5 376.4,71.2 364.4,82 348.3,95.8 330.7,109.8 323.3,116.3 293.8,145.7 289.2,150.8 278.1,163.8 272.7,169.7 259.5,182.6 250.9,190.6 248.6,192.6 247.1,193.6 244.1,195.2 238,197.3 229,199.8 219,201.8 213,202.6 207,202.9 203.9,202.4 200.9,201 199.4,199.6 198.6,198.6 197.2,195.6 196.7,192.6 196.9,187.6 197.6,182.6 199.9,168.3 202.4,155.7 203.2,152.7 204.2,149.7 205.6,146.7 207,144.6 215,135.7 227,123.3 233,117.7 247.1,105.1 253.6,98.8 258.8,92.8 270.1,78.1 275.9,71.8 282.4,65.8 295.2,55.2 301.2,50 317.2,34.6Z"/>
<path fill="#00ff20" d="M329.6,22.9 330.3,21.9 377.4,21.9 377.4,70.1 376.4,70.8 364.4,81.5 348.3,95.3 330,109.8 323,115.8 293.2,145.6 288.2,151.2 277.6,163.7 272.1,169.6 257.7,183.6 250.3,190.6 247.9,192.6 244.6,194.6 242.3,195.6 238,197.1 228.9,199.6 219,201.7 213,202.5 207,202.8 203.9,202.3 200.9,200.8 199.5,199.6 198.7,198.6 197.3,195.6 196.8,192.6 197.2,186.6 200,168.7 202.6,155.7 203.8,151.7 204.5,149.7 205.9,146.8 207,145.3 209,142.9 215,136.4 227,124 233,118.3 248.1,104.8 254.1,98.9 259.4,92.8 270.2,78.8 276.1,72.2 283.1,65.8 296.2,55 301.2,50.6 317.2,35.2Z"/>
<path fill="#00ff17" d="M330.2,22.9 330.9,21.9 377.4,21.9 377.4,69.7 376.4,70.3 364.4,81 348.3,94.7 329.2,109.8 322.3,115.8 293.2,144.9 288.2,150.5 277.1,163.5 272.1,168.9 258.1,182.6 249.6,190.6 247.3,192.6 243.9,194.6 241.6,195.6 237,197.2 228.3,199.6 219,201.5 213,202.4 207,202.6 203.9,202.1 200.9,200.7 199.7,199.6 198.9,198.6 197.8,196.6 197.2,194.6 196.9,191.6 197.3,186.6 200.2,168.7 202.6,156.7 203.9,152 204.8,149.7 205.9,147.5 207,146 209,143.5 215,137 227,124.6 233.2,118.7 247.7,105.8 254.1,99.6 259.2,93.8 270.8,78.8 276.3,72.8 282.7,66.8 296.2,55.6 302.2,50.3 318.2,34.8Z"/>
<path fill="#00ff0e" d="M330.8,22.9 331.5,21.9 377.4,21.9 377.4,69.2 376.4,69.9 364.4,80.5 347.3,95 329.7,108.8 322.3,115.1 292.7,144.7 288.2,149.7 277.1,162.7 271.7,168.7 256.4,183.6 249,190.6 246.6,192.6 243,194.7 240,196 236,197.3 227.6,199.6 218,201.6 213,202.2 207,202.5 203.9,202 200.9,200.5 199.9,199.6 198.9,198.4 197.9,196.6 197.3,194.6 197.1,191.6 197.4,186.6 200.2,169.7 202.6,157.7 203.9,152.9 204.8,150.7 205.9,148.2 207,146.6 209,144.2 215,137.7 227.5,124.7 233.9,118.7 248.1,106.1 254.6,99.8 259.8,93.8 271.1,79.3 277,72.8 283.5,66.8 297.2,55.3 302.2,50.9 318.2,35.4Z"/>
<path fill="#00ff05" d="M332.1,21.9 377.4,21.9 377.4,68.8 376.4,69.4 364.4,80 347.3,94.4 328.9,108.8 322,114.8 292.2,144.5 287.2,150.1 276.1,163.1 271.1,168.6 255.7,183.6 248.4,190.6 246,192.6 242.6,194.6 240.4,195.6 236,197.1 228,199.4 218,201.4 213,202.1 207,202.4 203.9,201.8 201.9,201 200.9,200.3 199.9,199.5 198.6,197.6 197.4,194.6 197.2,191.6 197.6,186.6 200.6,168.7 202.8,157.7 203.9,153.8 204.9,151 207,147.4 209,144.9 216,137.3 228,125 234.7,118.7 249.1,105.9 255.1,100 260.4,93.8 271.1,80.1 276.7,73.8 283.1,67.8 297.2,55.9 303.2,50.6 325.3,29.1 330.5,23.9Z"/>
<path fill="#03ff00" d="M332,22.9 332.7,21.9 377.4,21.9 377.4,68.3 376.4,68.9 365.4,78.7 347.3,93.8 328.3,108.7 321.3,114.8 292.2,143.9 286.9,149.7 276.1,162.4 271.1,167.8 255.1,183.6 247.7,190.6 245.4,192.6 242,194.6 239.7,195.6 235,197.3 228,199.2 218,201.3 213,202 207,202.2 203.9,201.7 201.9,200.8 200.9,200.2 199.9,199.3 198.7,197.6 197.6,194.6 197.3,191.6 197.7,186.6 200.7,168.7 202.9,158.2 204.9,151.9 205.9,149.8 207,148.1 209,145.7 216,138.1 228,125.7 234.4,119.7 249.1,106.6 255.1,100.7 260.3,94.8 272.1,79.8 277.1,74.2 284,67.8 297.2,56.6 303.2,51.2 319.2,35.7Z"/>
<path fill="#0cff00" d="M332.6,22.9 333.3,21.9 377.4,21.9 377.4,67.8 376.4,68.4 364.4,79 346.3,94.1 328.7,107.8 321.3,114.2 291.7,143.7 287.2,148.7 275.2,162.7 270.6,167.7 253.4,184.6 247.1,190.6 244.8,192.6 241.4,194.6 235,197.1 228,199.1 218,201.2 213,201.8 207,202.1 203.9,201.6 201.9,200.7 200.9,200 199.9,199.1 198.9,197.6 197.7,194.6 197.4,191.6 197.8,186.6 200.7,169.7 202.9,159.1 204.9,152.8 207,148.9 209,146.5 216,138.9 228.9,125.7 235.3,119.7 249.1,107.4 255.8,100.8 261,94.8 272.1,80.6 277.3,74.8 283.7,68.8 298.2,56.4 303.2,51.9 318.2,37.3Z"/>
<path fill="#15ff00" d="M333.2,22.9 333.9,21.9 377.4,21.9 377.4,67.3 376.4,67.9 363.4,79.4 346.3,93.5 329.3,106.8 321.1,113.8 291.1,143.7 285.7,149.7 275.1,162 270.1,167.4 251.7,185.6 246.5,190.6 244.2,192.6 240.8,194.6 235,196.9 228,198.9 218,201 213,201.7 207,202 203.9,201.4 202.1,200.6 200.9,199.8 199.9,198.9 199,197.6 197.8,194.6 197.6,191.6 198,186.6 198.7,181.6 200.9,169.3 202.9,160 204.9,153.6 207,149.8 209,147.3 215,140.9 229,126.5 235.1,120.7 250.1,107.3 256.1,101.4 261.1,95.6 272.7,80.8 278.1,74.8 284.6,68.8 298.2,57.1 304,51.9 318.2,37.9Z"/>
<path fill="#1eff00" d="M333.8,22.9 334.5,21.9 377.4,21.9 377.4,66.8 375.4,68.3 363.4,78.8 346.3,93 327.4,107.8 320.6,113.8 290.6,143.7 275.1,161.2 270.1,166.6 251.1,185.6 245.9,190.6 243.6,192.6 240.3,194.6 234,197 228,198.7 218,200.9 213,201.6 207,201.8 203.9,201.3 202.4,200.6 200.9,199.7 199.9,198.7 199.2,197.6 198,194.6 197.7,191.6 198.2,185.6 200.9,170.2 202.9,160.9 204.9,154.4 207,150.6 209,148.1 214,142.8 229.8,126.7 236.1,120.7 250.1,108.1 256.5,101.8 261.7,95.8 272.7,81.8 278.1,75.7 285.2,69.1 298.2,57.8 304.2,52.3 317.2,39.6Z"/>
<path fill="#27ff00" d="M335.1,21.9 377.4,21.9 377.4,66.3 376.4,66.9 367.4,74.9 358.4,82.5 343.3,94.9 328.1,106.8 320.2,113.5 291,142.7 270.1,165.9 250.5,185.6 245.4,190.6 243,192.6 239.7,194.6 234,196.9 227.9,198.6 218,200.8 213,201.4 207,201.7 203.9,201.2 202.7,200.6 201.1,199.6 199.3,197.6 198.1,194.6 197.8,191.6 198.3,185.6 200.9,171.1 202.9,161.7 204.9,155.3 207,151.4 209,149 214,143.7 230.7,126.7 250.1,108.9 257.1,102 262.1,96.3 273.4,81.8 278.8,75.8 285.2,69.8 299.2,57.6 305.2,52.1 331.3,26.1 334.4,22.9Z"/>
<path fill="#30ff00" d="M334.9,22.9 335.6,21.9 377.4,21.9 377.4,65.7 376.4,66.4 368.4,73.5 360.4,80.3 343.3,94.3 327.3,106.9 320.2,113 291.4,141.7 286.7,146.7 270.1,165.2 249.9,185.6 244.8,190.6 242.5,192.6 239.1,194.6 234.2,196.6 227.3,198.6 218,200.6 213,201.3 207,201.6 203.9,201 201.3,199.6 200.2,198.6 199.5,197.6 198.9,196.6 198.2,194.6 198,191.6 198.4,186.6 199.3,180.7 202.9,162.6 204.9,156.1 205.9,153.9 207,152.2 209,149.8 214,144.5 231,127.4 250.1,109.8 257.1,102.9 262.4,96.8 273.3,82.8 279.1,76.3 286,69.8 299.2,58.3 305.2,52.7 317.2,40.9Z"/>
<path fill="#38ff00" d="M336.2,21.9 377.4,21.9 377.4,65.2 376.4,65.9 368.4,73 361.4,79 342.3,94.6 327.3,106.5 320,112.8 290.9,141.7 270.1,164.5 249.3,185.6 244.3,190.6 241.9,192.6 238.6,194.6 233.6,196.6 227,198.5 218,200.5 213,201.2 207,201.5 203.9,200.9 201.5,199.6 200.4,198.6 199.6,197.6 198.9,196.3 198.4,194.6 198.1,191.6 198.5,186.6 199.4,180.7 202.9,163.4 204.9,156.9 205.9,154.7 207,153 209,150.6 214,145.3 231.5,127.7 251.1,109.6 257.1,103.7 263.1,96.8 274,82.8 279.4,76.8 285.7,70.8 300.2,58 306.2,52.5 333.6,24.9 335.5,22.9Z"/>
<path fill="#41ff00" d="M336,22.9 336.7,21.9 377.4,21.9 377.4,64.7 376.4,65.4 368.4,72.5 361.4,78.5 342.3,94.1 327.3,106 319.5,112.8 290.4,141.7 270.1,163.8 248.8,185.6 243.7,190.6 241.4,192.6 238.1,194.6 233.1,196.6 227,198.4 218,200.4 213,201 207,201.3 203.9,200.7 201.7,199.6 200.6,198.6 199.8,197.6 198.9,195.9 198.5,194.6 198.2,191.6 198.6,186.6 199.5,180.7 202.9,164.3 204.9,157.7 205.9,155.5 207,153.8 209,151.4 214,146.2 232,128.2 251.1,110.4 257.8,103.8 263.1,97.7 274.8,82.8 280.1,76.9 286.5,70.8 300.2,58.7 306.2,53.1 316.2,43.2Z"/>
<path fill="#4aff00" d="M337.3,21.9 377.4,21.9 377.4,64.2 376.4,64.9 362.4,77.1 342.1,93.8 327.3,105.5 319.2,112.5 289.8,141.7 270.1,163.1 247.2,186.6 243.2,190.6 240.9,192.6 237.5,194.6 232.5,196.6 227,198.2 218,200.3 213,200.9 207,201.2 203.9,200.6 201.9,199.6 200.8,198.6 199.9,197.6 199.4,196.6 198.6,194.6 198.4,191.6 198.7,186.6 199.7,180.7 202.9,165.1 204.9,158.5 205.9,156.2 207,154.6 209,152.1 213,148 232.3,128.7 251.1,111.2 258.1,104.3 263.7,97.8 274.6,83.8 280.1,77.6 286.2,71.8 301.2,58.4 308.2,51.9 335.6,23.9Z"/>
<path fill="#53ff00" d="M337.1,22.9 337.8,21.9 377.4,21.9 377.4,63.7 376.4,64.4 362.4,76.7 341.5,93.8 327.3,105.1 319.2,112.1 289.3,141.7 270.1,162.4 247.7,185.6 242.7,190.6 240.4,192.6 237,194.6 232,196.6 224.7,198.6 218,200.1 214,200.7 207,201.1 203.9,200.5 201.9,199.4 200.9,198.6 200.1,197.6 199.5,196.6 198.8,194.6 198.5,191.6 199,185.6 199.9,180.1 203.5,163.7 205.2,158.7 205.9,157 207.4,154.7 209,152.9 214,147.7 233.2,128.7 252.1,111 258.4,104.8 264.1,98.2 275.3,83.8 280.7,77.8 287,71.8 301.2,59.1 307.2,53.4 316.2,44.4Z"/>
<path fill="#5cff00" d="M337.6,22.9 338.3,21.9 377.4,21.9 377.4,63.2 376.4,63.9 368.7,70.8 362.4,76.2 341.3,93.4 327.3,104.6 319.1,111.8 288.8,141.7 271.1,160.7 249.1,183.6 242.2,190.6 239.9,192.6 236.5,194.6 231.4,196.6 223,198.9 218,200 213.1,200.6 207,200.9 203.9,200.3 201.9,199.3 200.3,197.6 199.7,196.6 198.9,194.6 198.6,191.6 199.1,185.6 199.9,180.7 201.9,171.3 203.9,163 204.9,160 205.9,157.8 208,154.8 215,147.5 234.1,128.7 252.1,111.8 259.1,104.8 264.3,98.8 276,83.8 281.1,78.1 287.7,71.8 302.2,58.8 308.2,53.1 316.2,45Z"/>
<path fill="#65ff00" d="M338.1,22.9 338.8,21.9 377.4,21.9 377.4,62.8 375.9,63.8 363.4,74.9 341.3,92.9 327.3,104.2 318.6,111.8 288.3,141.7 271.1,160 261.1,170.4 247.6,184.6 241.7,190.6 239.4,192.6 236,194.6 230.9,196.6 223,198.8 218,199.9 213,200.5 207,200.8 203.9,200.2 201.9,199.1 200.9,198.2 199.8,196.6 198.8,193.6 198.8,190.6 199.4,184.6 200.1,180.7 202.5,169.7 203.9,163.8 204.9,160.8 205.9,158.5 208,155.5 215,148.2 234.9,128.7 252.1,112.6 258.1,106.6 263.4,100.8 275.1,85.8 280.3,79.8 287.4,72.8 302.2,59.4 309.2,52.8Z"/>
<path fill="#6dff00" d="M338.7,22.9 339.3,21.9 377.4,21.9 377.4,62.3 375.4,63.8 363.4,74.4 327.3,103.7 318.2,111.6 287.8,141.7 271.1,159.4 261.1,169.7 246.1,185.6 241.2,190.6 238.8,192.6 235.5,194.6 231,196.4 223,198.6 218,199.7 214,200.3 207,200.7 203.9,200.1 201.9,199 200.9,198 200,196.6 199.5,195.6 199,193.6 198.9,190.6 199.5,184.6 200.4,179.7 203.9,164.6 204.9,161.6 205.9,159.3 208,156.2 217,147 258.7,106.8 264.1,100.8 275.1,86.5 281,79.8 287.1,73.8 303.2,59.1 309.2,53.4Z"/>
<path fill="#76ff00" d="M339.2,22.9 339.9,21.9 377.4,21.9 377.4,61.8 375.4,63.3 363.4,73.9 327.3,103.3 318.2,111.1 287.3,141.7 261.1,169 245.6,185.6 240.7,190.6 238.3,192.6 234.9,194.6 231,196.2 223,198.5 217.9,199.6 214,200.1 207,200.5 203.9,199.9 201.9,198.8 200.9,197.8 200.1,196.6 199.6,195.6 199.1,193.6 199.1,190.6 199.6,184.6 200.6,179.7 203.9,165.4 205.9,160 208,157 216,148.7 259.1,107.2 264.1,101.6 275.6,86.8 281.1,80.4 287.9,73.8 303.2,59.8 310.2,53Z"/>
<path fill="#7fff00" d="M339.7,22.9 340.4,21.9 377.4,21.9 377.4,61.3 375.4,62.8 363.4,73.4 327.3,102.8 318.2,110.8 285.9,142.7 261.1,168.4 245.1,185.6 240.2,190.6 237.8,192.6 234.4,194.6 230,196.3 222,198.6 217,199.7 213,200.1 207,200.4 203.9,199.8 201.9,198.6 200.9,197.7 200.3,196.6 199.8,195.6 199.2,193.6 199.2,190.6 199.8,184.6 200.7,179.7 203.9,166.2 205.9,160.8 208,157.7 216,149.5 259.1,107.9 264.6,101.8 276.1,87 281.5,80.8 287.6,74.8 303.2,60.4 310.2,53.7Z"/>
<path fill="#8f0" d="M340.2,22.9 340.9,21.9 377.4,21.9 377.4,60.8 375.4,62.3 363.4,73 327.3,102.4 317.7,110.8 284.4,143.7 261.1,167.7 243.7,186.6 239.7,190.6 237.3,192.6 233.9,194.6 230,196.2 222,198.5 217,199.5 213,200 207,200.3 203.9,199.6 201.9,198.5 200.4,196.6 199.9,195.6 199.4,193.6 199.3,190.6 199.9,184.6 200.8,179.7 203.9,167 205.9,161.5 208,158.4 215,151.2 230.2,136.7 260,107.8 265.3,101.8 276.1,87.8 281.3,81.8 288.3,74.8 304.2,60.1 311.2,53.3Z"/>
<path fill="#91ff00" d="M340.7,22.9 341.4,21.9 377.4,21.9 377.4,60.3 375.4,61.8 364.2,71.8 327.3,101.9 317.2,110.7 282.9,144.7 261.1,167 243.1,186.6 239.2,190.6 236.8,192.6 233.4,194.6 230,196 222,198.3 217,199.4 213,199.8 207,200.1 204.9,199.8 203.9,199.5 201.9,198.3 200.6,196.6 199.9,195.3 199.5,193.6 199.5,190.6 200,184.6 201,179.7 203.9,167.8 205.9,162.3 208,159.2 215,151.9 231.1,136.7 260.1,108.5 265.2,102.8 276.8,87.8 282,81.8 289.1,74.8 304.2,60.8 311.2,54Z"/>
<path fill="#9f0" d="M341.3,22.9 341.9,21.9 377.4,21.9 377.4,59.9 375.4,61.4 363.6,71.8 327.3,101.5 317.2,110.2 280.4,146.7 261.1,166.4 242.6,186.6 238.7,190.6 236.3,192.6 233,194.6 230.4,195.6 223,197.9 217,199.2 213,199.7 207,200 204.9,199.7 203.9,199.3 201.9,198.1 200.7,196.6 199.9,194.9 199.6,193.6 199.6,190.6 200.3,183.6 201.4,178.7 204.6,166.7 205.9,163.1 208,159.9 215,152.7 232,136.7 260.6,108.8 265.9,102.8 277.1,88.3 282.1,82.4 288.8,75.8 305.2,60.5 312.2,53.6Z"/>
<path fill="#a2ff00" d="M341.8,22.9 342.5,21.9 377.4,21.9 377.4,59.4 375.4,60.9 364.2,70.8 328.3,100.2 317.2,109.8 285.8,140.7 263.1,163.6 258.1,168.9 243.1,185.6 238.1,190.6 235.8,192.6 232.3,194.6 229.9,195.6 223,197.8 217,199.1 212.2,199.6 207,199.9 205.2,199.6 203.9,199.2 201.9,197.9 200.9,196.7 200.4,195.6 199.8,193.6 199.7,190.6 200.5,183.6 201.8,177.7 204.8,166.7 205.9,163.8 208,160.6 214,154.4 232.9,136.7 261.1,109 266.6,102.8 277.1,89.1 282.5,82.8 288.5,76.8 305.2,61.1 312.2,54.3Z"/>
<path fill="#abff00" d="M343,21.9 377.4,21.9 377.4,58.9 375.4,60.4 368.3,66.8 362.4,71.8 345.3,85.6 326.3,101.4 316.7,109.8 284.2,141.7 263.1,162.9 257.1,169.3 243.5,184.6 238.7,189.6 235.3,192.6 232,194.5 229.3,195.6 223,197.6 217,199 212,199.5 207,199.8 204.9,199.4 203.9,199.1 201.9,197.8 201,196.6 200.5,195.6 200.1,194.6 199.8,192.6 200,188.6 200.6,183.6 201.9,177.7 204.9,167.1 205.9,164.6 208,161.4 214,155.1 233,137.4 261.2,109.8 266.5,103.8 278.1,88.8 283.2,82.9 289.3,76.8 306.2,60.8 313.2,53.9 331.9,33.9 341.4,23.9Z"/>
<path fill="#b4ff00" d="M342.9,22.9 343.5,21.9 377.4,21.9 377.4,58.3 375.4,59.9 363,70.8 345.3,85.1 327.3,100 316.2,109.7 281.7,143.7 262.7,162.7 257.1,168.6 243,184.6 237.1,190.6 234.8,192.6 231.2,194.6 228.8,195.6 222.5,197.6 217,198.8 211,199.4 207,199.6 204.9,199.3 203.9,198.9 202,197.6 200.6,195.6 200.3,194.6 199.9,192.6 200.2,188.6 200.7,183.6 201.9,178.1 204.9,167.9 205.9,165.4 208,162.2 211,158.9 216,154 234.7,136.7 261.9,109.8 267.2,103.8 278.1,89.6 283.2,83.7 289.1,77.8 313.2,54.6 332.4,33.9Z"/>
<path fill="#bdff00" d="M344.1,21.9 377.4,21.9 377.4,57.8 375.4,59.3 368.3,65.8 362.4,70.8 345.3,84.5 326.3,100.4 316.2,109.2 262.1,162.5 256.4,168.7 242.4,184.6 236.6,190.6 234.3,192.6 231,194.5 228.2,195.6 222,197.6 217,198.7 211,199.3 207,199.5 204.9,199.1 203.9,198.8 202.2,197.6 200.8,195.6 200.4,194.6 200.1,192.6 200.3,188.6 200.9,183.6 201.9,178.6 204.9,168.7 205.9,166.2 208,162.9 211,159.6 216,154.7 235,137.3 262.1,110.4 268,103.8 278.1,90.5 283.2,84.6 288.8,78.8 307.2,61.2 314.2,54.3 333,33.9 342.5,23.9Z"/>
<path fill="#c6ff00" d="M344,22.9 344.6,21.9 377.4,21.9 377.4,57.3 375.4,58.8 363,69.8 345.3,84 327.3,99 320.2,105.1 315.2,109.7 262.1,161.8 256.1,168.3 242.8,183.6 235,191.6 232.2,193.6 227.7,195.6 223,197.2 218,198.4 213,199 207,199.3 204.9,199 203.9,198.6 202.4,197.6 201.5,196.6 200.9,195.6 200.6,194.6 200.2,192.6 200.4,188.6 201,183.6 202.4,177.7 204.9,169.5 205.9,167 208,163.7 211,160.4 216,155.5 235.5,137.7 262.1,111.3 267.9,104.8 278.7,90.8 283.7,84.8 289.7,78.8 314.2,55 332.6,34.9Z"/>
<path fill="#ceff00" d="M345.2,21.9 377.4,21.9 377.4,56.8 375.4,58.3 367.4,65.5 362.4,69.8 344.3,84.3 327.3,98.5 315.2,109.2 261.5,161.7 256.1,167.6 242.3,183.6 234.4,191.6 231.6,193.6 227.2,195.6 223,197.1 218,198.3 213,198.9 207,199.2 204.9,198.9 203.9,198.5 202.6,197.6 201.7,196.6 201.1,195.6 200.7,194.6 200.3,192.6 200.6,188.6 201.2,183.6 202.5,177.7 204.9,170.3 205.9,167.8 208,164.5 211,161.2 216,156.3 236,138.2 263.1,111.1 268.7,104.8 279.1,91.1 284.2,85.2 315.1,54.8 333.2,34.9 343.7,23.9Z"/>
<path fill="#d7ff00" d="M345.1,22.9 345.8,21.9 377.4,21.9 377.4,56.2 375.4,57.7 362.9,68.8 344.3,83.7 328.3,97.1 321.3,103.2 315.1,108.8 288.2,135.2 261.1,161.3 255.1,167.9 241.7,183.6 233.9,191.6 231,193.6 226.7,195.6 223,196.9 218,198.1 213,198.7 207,199.1 204.9,198.7 202.8,197.6 201.8,196.6 201.2,195.6 200.8,194.6 200.5,192.6 200.7,188.6 201.3,183.6 202.4,178.7 203.9,173.7 205.9,168.6 208,165.3 212,161 216,157.1 236.5,138.7 263.1,112 268.7,105.8 279.4,91.8 284.4,85.8 314.8,55.8 333.8,34.9Z"/>
<path fill="#e0ff00" d="M345.8,22.9 346.4,21.9 377.4,21.9 377.4,55.6 375.4,57.1 362.4,68.7 344.3,83.1 331.3,94 322.3,101.8 314.5,108.8 287.2,135.6 269.1,152.7 261,160.7 255.1,167.1 242,182.6 238.3,186.6 233.3,191.6 230.5,193.6 228.6,194.6 223.4,196.6 219,197.8 214,198.5 207,198.9 204.9,198.6 202.9,197.5 202,196.6 201.4,195.6 200.9,194.5 200.6,192.6 200.8,188.6 201.4,183.6 202.5,178.7 203.9,174.2 205.9,169.4 208,166.2 212,161.9 217,157 232.1,143.7 237,139.2 263.1,113 268.7,106.8 280.1,91.8 285.2,85.9 315.2,56.2 334.3,35.1Z"/>
<path fill="#e9ff00" d="M347,21.9 377.4,21.9 377.4,55 375.4,56.5 362.7,67.8 344.3,82.5 332.3,92.6 322.3,101.2 314,108.8 287.2,135 268.4,152.7 260.2,160.7 254.1,167.5 241.5,182.6 237.8,186.6 232.8,191.6 230,193.6 227,195.1 222.9,196.6 219,197.6 214,198.3 207,198.8 204.9,198.4 202.9,197.4 201.6,195.6 201.1,194.6 200.8,192.6 200.9,189.1 201.6,183.6 202.7,178.7 203.9,174.8 205.9,170.1 208,167 213,161.7 217,157.9 232.1,144.7 237.5,139.7 264.1,112.9 269.5,106.8 280.2,92.8 285.3,86.8 316.2,55.9 334.2,35.9 345.5,23.9Z"/>
<path fill="#f2ff00" d="M347,22.9 347.7,21.9 377.4,21.9 377.4,54.4 375.4,55.9 362,67.8 339.3,86.1 323.3,99.8 313.4,108.8 286.2,135.4 267.6,152.7 260.1,160.1 254.1,166.7 240.9,182.6 232.2,191.6 229.5,193.6 225.3,195.6 222,196.7 218,197.7 212,198.4 207,198.7 204.9,198.3 202.9,197.2 201.7,195.6 201.3,194.6 200.9,192.6 201,189.6 201.7,183.6 202.8,178.7 203.9,175.3 205.9,170.8 208,167.8 213,162.6 217,158.7 232,145.7 238.5,139.7 264.1,113.8 270.1,107 281,92.8 286.1,86.8 316.2,56.7 334.8,35.9Z"/>
<path fill="#fbff00" d="M347.7,22.9 348.4,21.9 377.4,21.9 377.4,53.7 375.4,55.2 366.4,63.4 361.4,67.8 339.3,85.5 324.3,98.4 314,107.8 286.2,134.9 268,151.7 260.1,159.4 255.1,164.8 240.4,182.6 233.7,189.6 230.5,192.6 227.1,194.6 224.9,195.6 221.9,196.6 217.5,197.6 211,198.3 207,198.5 204.9,198.1 202.9,197 201.9,195.6 201.4,194.6 201,192.6 201.2,189.6 201.9,183.2 202.9,178.8 204,175.7 205.9,171.4 208,168.5 217,159.4 232.9,145.7 238.3,140.7 262.1,116.6 270.1,107.8 281.7,92.8 286,87.8 316.2,57.5 321.3,52 335.3,36.1Z"/>
<path fill="#fffb00" d="M349,21.9 377.4,21.9 377.4,53 375.4,54.5 361.7,66.8 344.3,80.7 338.3,85.8 323.3,98.8 313.5,107.8 285.2,135.4 267.5,151.7 260.1,158.8 253.1,166.6 239.9,182.6 232.2,190.6 230,192.6 226.7,194.6 224.4,195.6 221,196.7 217,197.6 210,198.3 207,198.4 204.9,198 203.9,197.5 202.9,196.8 202,195.6 201.6,194.6 201.2,192.6 201.3,189.6 202,183.6 202.9,179.4 204.2,175.7 205.9,171.9 208,169.1 218,159.2 233.6,145.7 239,140.7 263.1,116.2 270.1,108.4 281.5,93.8 286.6,87.8 317.2,57.1 321.3,52.8 335.2,36.9 347.5,23.9Z"/>
<path fill="#fff200" d="M349,22.9 349.7,21.9 377.4,21.9 377.4,52.3 375.4,53.8 360.9,66.8 338.8,84.8 324.3,97.5 313.2,107.6 285.2,135 267,151.7 259.1,159.4 255.1,163.7 239.4,182.6 231.8,190.6 229.6,192.6 226.3,194.6 223.9,195.6 220.8,196.6 217,197.4 210,198.1 207,198.2 204.9,197.8 203,196.6 202.2,195.6 201.7,194.6 201.3,192.6 201.6,188.6 202.4,182.6 203.3,178.7 204.9,174.3 205.9,172.4 208,169.7 218,159.7 233,146.7 238.5,141.7 262.1,117.8 267.1,112.4 271.1,107.8 282.9,92.8 286.3,88.8 317.2,57.7 322.3,52.3 335.9,36.9Z"/>
<path fill="#ffe900" d="M349.7,22.9 350.4,21.9 377.4,21.9 377.4,51.5 375.4,53 361.3,65.8 338.3,84.7 323.3,97.9 313.2,107.2 285.2,134.5 266.5,151.7 259.1,158.9 253.1,165.6 239.8,181.6 232.3,189.6 229.1,192.6 226,194.5 223.4,195.6 220.2,196.6 217,197.2 210,198 207,198.1 204.9,197.7 203.2,196.6 202.4,195.6 201.9,194.6 201.5,192.6 201.8,187.6 202.5,182.6 203.5,178.7 204.9,174.8 205.9,172.9 208,170.2 218,160.2 233.5,146.7 240,140.7 263.1,117.1 268.1,111.8 271.1,108.3 282.5,93.8 287.2,88.4 317.7,57.8 336.3,37.1Z"/>
<path fill="#ffe000" d="M351.1,21.9 377.4,21.9 377.4,50.7 375.4,52.3 361.7,64.8 340.3,82.5 322.3,98.4 312.2,107.7 284.2,135.1 264.1,153.6 258.9,158.7 255.1,162.8 238.5,182.6 230.9,190.6 228.7,192.6 227.2,193.6 224,195.2 221,196.2 218,196.9 212,197.6 207,197.9 204.9,197.5 203.4,196.6 202.5,195.6 202,194.6 201.6,192.6 201.7,189.6 202.5,183.6 203.4,179.7 204.9,175.3 205.9,173.4 208,170.7 218,160.7 234,146.7 239.4,141.7 263.1,117.5 271.1,108.8 283,93.8 287.2,89 318.2,57.8 336.3,37.8 349.5,23.9Z"/>
<path fill="#ffd700" d="M351.1,22.9 351.7,21.9 377.4,21.9 377.4,49.9 375.4,51.5 360.9,64.8 340.3,82 321.3,99 312.2,107.4 284.1,134.7 263.6,153.7 258.5,158.7 254.8,162.7 238.1,182.6 230.4,190.6 228.3,192.6 226.8,193.6 224,195 221,196.1 218,196.8 208,197.8 205.9,197.7 204.9,197.4 203.7,196.6 202.7,195.6 202.2,194.6 201.7,192.6 201.9,189.6 202.6,183.6 203.6,179.7 204.9,175.8 205.9,173.8 208,171.1 218.5,160.7 234,147 239.7,141.7 263.1,117.9 271.1,109.2 283.2,94.1 287.8,88.8 318.8,57.8 337.3,37.4Z"/>
<path fill="#ffce00" d="M351.8,22.9 352.5,21.9 377.4,21.9 377.4,49.1 375.4,50.6 361.2,63.8 340.3,81.5 321.3,98.6 312.2,107 283.7,134.7 263.2,153.7 255.1,162 239,181.1 229,191.6 226.3,193.6 224.4,194.6 221.9,195.6 218,196.6 208,197.7 205.9,197.5 203.9,196.6 202.9,195.7 202.4,194.6 201.9,192.6 201.9,190.6 202.8,183.6 203.7,179.7 204.9,176.3 205.9,174.3 208,171.6 219,160.7 239.1,142.7 259.1,122.4 270.1,110.7 283.2,94.6 288.2,88.9 318.3,58.8 337.3,38.1Z"/>
<path fill="#ffc600" d="M353.2,21.9 377.4,21.9 377.4,48.2 375.4,49.8 360.4,63.8 340.3,81 321.3,98.1 312.2,106.6 284.2,133.9 262.1,154.4 255,161.7 239,180.6 228.6,191.6 225.9,193.6 223.9,194.6 221.3,195.6 218,196.4 208,197.5 205.9,197.3 203.9,196.5 203.1,195.6 202.5,194.6 202,192.6 202.1,190.6 202.9,183.8 203.9,179.7 204.9,176.8 205.9,174.8 208,172.1 219.5,160.7 234,147.7 240,142.1 259.1,122.8 270.4,110.8 283.2,95.1 288.2,89.4 318.9,58.8 337.3,38.8 351.6,23.9Z"/>
<path fill="#ffbd00" d="M353.3,22.9 354,21.9 377.4,21.9 377.4,47.3 375.4,48.9 359.5,63.8 339.3,81.3 320.2,98.7 283.9,133.7 262.1,154 254.6,161.7 238,181.2 228.1,191.6 225.4,193.6 223.4,194.6 220.7,195.6 218,196.2 208,197.4 205.9,197.2 204.9,196.9 203.9,196.3 203.3,195.6 202.7,194.6 202.2,192.6 202.3,190.6 203,184.6 203.8,180.7 204.9,177.3 205.9,175.3 208,172.5 218.9,161.7 240,142.5 256.1,126.2 269.9,111.8 283.2,95.6 288.3,89.8 319.4,58.8 338.3,38.5Z"/>
<path fill="#ffb400" d="M354.1,22.9 354.7,21.9 377.4,21.9 377.4,46.3 375.4,47.9 358.6,63.8 339.3,80.8 321.3,97.3 283.5,133.7 261.1,154.7 253.4,162.7 237,181.8 227.7,191.6 225,193.6 222.9,194.6 220,195.6 218,196.1 214.1,196.6 208,197.2 205.9,197 204.9,196.7 203.9,196.1 202.9,194.6 202.4,192.6 202.5,189.6 203.3,183.6 203.9,180.8 204.9,177.9 205.9,175.8 208,173 219.4,161.7 240,142.8 254.1,128.6 270.2,111.8 284.2,94.9 289.2,89.3 320,58.8 338.3,39.3Z"/>
<path fill="#ffab00" d="M354.9,22.9 355.5,21.9 377.4,21.9 377.4,45.4 375.4,47 358.8,62.8 339.3,80.2 322.3,96 283.2,133.7 261.1,154.3 253.9,161.7 238,180.2 227.2,191.6 224.5,193.6 222.4,194.6 218,195.9 212.6,196.6 208,197 205.9,196.9 204.9,196.5 203.9,195.9 203,194.6 202.5,192.6 202.7,189.6 203.5,183.6 203.9,181.5 204.9,178.4 205.9,176.3 208,173.5 219.9,161.7 240,143.2 252.4,130.7 269.6,112.8 284.2,95.5 289.2,89.9 319.6,59.8 339.3,39Z"/>
<path fill="#ffa200" d="M355.7,22.9 356.4,21.9 377.4,21.9 377.4,44.4 375.4,46 357.9,62.8 338.3,80.6 321.3,96.5 283.7,132.7 260.3,154.7 252.6,162.7 237,180.8 226.7,191.6 225.5,192.6 223,194.1 221,194.9 218,195.7 208,196.9 205.9,196.7 204.9,196.3 203.9,195.6 203.2,194.6 202.8,193.6 202.7,191.6 203.9,182.6 204.9,179 205.9,176.8 208,174 220.4,161.7 240,143.5 251.7,131.7 270,112.8 284.2,96 289.2,90.4 320.2,59.8Z"/>
<path fill="#f90" d="M357.2,21.9 377.4,21.9 377.4,43.3 375.4,45 356.9,62.8 339.3,79 323.3,94.1 283.3,132.7 260.1,154.5 252.2,162.7 236,181.4 226.3,191.6 224,193.3 222,194.3 220,195 217.2,195.6 208,196.7 205.9,196.5 204.2,195.6 203.4,194.6 202.8,192.6 202.9,190.1 203.9,183.6 204.6,180.7 205.4,178.7 207,175.8 208,174.5 219.9,162.7 240,143.9 251.1,132.7 270.3,112.8 284.2,96.5 290.2,89.9 321.8,58.8 355.6,23.9Z"/>
<path fill="#ff9100" d="M358.1,21.9 377.4,21.9 377.4,42.3 375.4,43.9 357,61.8 321.3,95.5 282.8,132.7 259.1,155.1 251.8,162.7 236,180.8 225.8,191.6 224.5,192.6 222,194 220,194.8 217,195.4 208,196.6 205.9,196.4 204.5,195.6 203.6,194.6 203,192.6 203.1,190.6 203.9,184.5 204.9,180.7 205.6,178.7 207,176.3 208,175.1 220.5,162.7 240,144.2 250.5,133.7 270.7,112.8 285.2,96 290.2,90.5 322.4,58.8 356.5,23.9Z"/>
<path fill="#f80" d="M359,21.9 377.4,21.9 377.4,41.2 375.4,42.8 357.1,60.8 323.3,93.1 283.4,131.7 259,154.7 251.4,162.7 235,181.4 225.2,191.6 224,192.6 222.3,193.6 220,194.5 218,195 214.5,195.6 208,196.4 205.9,196.2 204.8,195.6 203.8,194.6 203.2,192.6 203.2,190.6 203.9,185.7 204.8,181.6 205.5,179.7 207,176.9 208,175.6 220,163.7 240,144.6 249.9,134.7 270.2,113.8 284.2,97.7 290.5,90.8 324.1,57.8 357.4,23.9Z"/>
<path fill="#ff7f00" d="M359.3,22.9 360,21.9 377.4,21.9 377.4,40 375.4,41.7 355.1,61.8 321.3,94.5 295.4,119.7 258.1,155.2 250.9,162.7 235,180.8 224.7,191.6 223.4,192.6 221.6,193.6 218,194.8 213.1,195.6 208,196.2 205.9,196 204.9,195.5 203.9,194.5 203.4,192.6 203.4,190.6 203.9,186.9 204.9,182.1 205.8,179.7 207,177.5 208,176.2 219.6,164.7 239,146.1 247.4,137.7 270.6,113.8 285.2,97.2 291.2,90.7 323.8,58.8Z"/>
<path fill="#ff7600" d="M360.2,22.9 360.9,21.9 377.4,21.9 377.4,38.9 375.4,40.5 352,63.8 301.1,113.8 258.1,154.7 250.4,162.7 234,181.2 224.1,191.6 222.8,192.6 220.9,193.6 217.5,194.6 211.7,195.6 208,196 205.9,195.8 204.9,195.3 203.9,194.1 203.5,192.6 203.9,188.2 204.9,183.1 205.7,180.7 207,178.1 208,176.8 220.2,164.7 241,144.6 254.7,130.7 271,113.8 285.2,97.8 292.2,90.3 325.5,57.8Z"/>
<path fill="#ff6d00" d="M361.2,22.9 361.9,21.9 377.4,21.9 377.4,37.7 375.4,39.4 347,67.8 302.5,111.8 257.1,155.1 250.8,161.7 233,181.6 223.4,191.6 222.1,192.6 220,193.6 216.2,194.6 208,195.8 205.9,195.6 204.9,195 203.9,193.7 203.7,192.6 203.9,189.5 204.9,184.2 205.9,180.8 207,178.8 208,177.5 220.9,164.7 241,145.1 252.3,133.7 270.7,114.8 285.2,98.5 293.2,90 330.4,53.8Z"/>
<path fill="#ff6400" d="M362.2,22.9 362.9,21.9 377.4,21.9 377.4,36.6 375.4,38.2 341.1,72.8 303.9,109.8 256.9,154.7 249.3,162.7 234,179.7 223,191.3 221.2,192.6 219,193.6 214.9,194.6 208,195.7 205.9,195.4 204.9,194.8 204.2,193.6 203.9,191.6 204.9,185.4 205.9,181.8 206.9,179.7 209,177.2 241,145.7 254.9,131.7 270.3,115.8 286.2,98.2 293.2,90.8 334.3,50.9Z"/>
<path fill="#ff5c00" d="M363.3,22.9 364,21.9 377.4,21.9 377.4,35.4 375.4,37.1 338.1,74.8 304,108.8 256.1,154.8 249.5,161.7 235,177.7 222.8,190.6 221.7,191.6 220.2,192.6 217.6,193.6 213.5,194.6 208,195.4 205.9,195.1 205.1,194.6 204.4,193.6 204.1,191.6 204.9,186.6 205.9,182.9 207,180.6 209,178 240,147.4 253.6,133.7 272,114.8 287.2,98.1 294.2,90.8 337.3,48.9Z"/>
<path fill="#ff5300" d="M365.1,21.9 377.4,21.9 377.4,34.3 375.4,36 337,74.8 304,107.8 255.3,154.7 249.5,160.7 234,177.7 221.8,190.6 220.6,191.6 219,192.6 216,193.7 212.1,194.6 208,195.2 207,195.2 205.5,194.6 204.7,193.6 204.4,192.6 204.5,190.6 204.9,187.8 205.9,184 207,181.6 209,179 240,148.3 253.5,134.7 271.9,115.8 287.2,99.2 294.2,91.9 340.3,47 363.4,23.9Z"/>
<path fill="#ff4a00" d="M366.2,21.9 377.4,21.9 377.4,33.2 375.4,34.8 336.3,74.4 302.9,107.8 255.1,154 248.6,160.7 233,177.6 220.6,190.6 219.5,191.6 217.8,192.6 215.1,193.6 209,194.9 207,194.9 205.9,194.6 204.9,193.7 204.6,192.6 204.6,191.6 204.9,189.1 205.9,185.2 207,182.7 208,181.2 209,180 254.5,134.7 273,115.8 288.2,99.4 295.2,92.1 341.3,47.1 364.6,23.9Z"/>
<path fill="#ff4100" d="M367.3,21.9 377.4,21.9 377.4,32 375.4,33.7 302.7,106.8 254.4,153.7 219.4,190.6 218.2,191.6 216.5,192.6 213.7,193.6 208,194.7 207,194.7 205.9,194.3 205.2,193.6 204.8,192.6 204.8,191.6 205.1,189.6 205.9,186.4 207,183.9 208,182.3 209,181.1 255.6,134.7 273.1,116.8 295.2,93.4 342.3,47.3 365.7,23.9Z"/>
<path fill="#ff3800" d="M367.8,22.9 368.5,21.9 377.4,21.9 377.4,30.8 375.4,32.5 301.5,106.8 254.1,152.9 218.1,190.6 216.9,191.6 215.2,192.6 212.3,193.6 208,194.4 207,194.4 205.9,194 205.6,193.6 205.1,192.6 205.1,191.6 205.9,187.6 207,185 208,183.4 209,182.3 256.7,134.7 273.3,117.7 296.2,93.7 340.3,50.5Z"/>
<path fill="#ff2f00" d="M369,22.9 369.7,21.9 377.4,21.9 377.4,29.6 375.4,31.3 301.2,105.8 253.2,152.7 216.8,190.6 215.6,191.6 213.8,192.6 210.8,193.6 208,194.1 207,194.1 205.9,193.6 205.5,192.6 205.4,191.6 205.9,188.9 207,186.3 208,184.6 209,183.4 256.8,135.7 274.4,117.7 297.2,94.1 341.3,50.7Z"/>
<path fill="#ff2700" d="M370.3,22.9 371,21.9 377.4,21.9 377.4,28.4 375.4,30 299.9,105.8 253.1,151.7 215.5,190.6 214.3,191.6 212.4,192.6 209.2,193.6 207,193.7 205.9,192.9 205.7,191.6 205.9,190.3 206.5,188.6 207,187.5 208,185.8 209,184.6 257,136.7 274.7,118.7 297.8,94.8 342.3,50.9Z"/>
<path fill="#ff1e00" d="M372.3,21.9 377.4,21.9 377.4,27.1 375.4,28.7 298.6,105.8 253,150.7 214.1,190.6 212.8,191.6 210.9,192.6 209,193.2 208,193.4 207,193.2 206.3,192.6 206.1,191.6 207,188.8 208,187.1 209,185.9 257.2,137.7 298.2,95.9 347.3,47.2 370.6,23.9Z"/>
<path fill="#ff1500" d="M372.9,22.9 373.6,21.9 377.4,21.9 377.4,25.7 375.4,27.3 300.2,102.8 252.1,150.4 213.6,189.6 211.3,191.6 209.3,192.6 208,192.9 206.9,192.6 206.7,191.6 207,190.3 208,188.5 210,186.2 257.5,138.7 299.2,96.4 344.3,51.6Z"/>
<path fill="#ff0c00" d="M375.1,21.9 377.4,21.9 377.4,24.2 375.3,25.9 299.2,102.2 252.3,148.7 212,189.6 209.5,191.6 208,192 207.6,191.6 208,190.1 210,187.7 259,138.7 300.2,97.1 372.5,24.9 374.4,22.9Z"/></g>
<path d="M377.4,36.2 338.3,75.3M324.3,89.2 297.5,115.8 256.1,155.3 222.4,191.6 218.5,193.6 214.4,194.6 208,195.6 204.9,194.7 204,192.6 204.1,190.6 205.2,184.6 207,179.9 209,177.4 243,143.9 262.8,123.7 293.2,91.1 338.7,46.9 363.3,21.9" fill="none" stroke="#2f4f63" stroke-width="2" stroke-dasharray="5.5 4"/>
<path d="M202.8,21.9V212.6" fill="none" stroke="#fff" stroke-width="2" stroke-dasharray="9.5 7.5" stroke-dashoffset="3.8"/>
<path d="M186.9,196.7H377.4" fill="none" stroke="#fff" stroke-width="2" stroke-dasharray="9.4 7.35" stroke-dashoffset="14.75"/>
<path d="M186.9,212.6v3.4M250.4,212.6v3.4M313.9,212.6v3.4M377.4,212.6v3.4M186.9,212.6h-3.4M186.9,149h-3.4M186.9,85.5h-3.4M186.9,21.9h-3.4M218.7,212.6v2.2M282.1,212.6v2.2M345.6,212.6v2.2M186.9,180.8h-2.2M186.9,117.2h-2.2M186.9,53.7h-2.2" stroke="#000" stroke-width="1.8" fill="none"/>
<rect x="186.9" y="21.9" width="190.5" height="190.7" fill="none" stroke="#000" stroke-width="2.0"/>
<text x="186.9" y="231" font-size="16" text-anchor="middle" >0</text>
<text x="250.4" y="231" font-size="16" text-anchor="middle" >2</text>
<text x="313.9" y="231" font-size="16" text-anchor="middle" >4</text>
<text x="377.4" y="231" font-size="16" text-anchor="middle" >6</text>
<text x="182" y="217.6" font-size="16" text-anchor="end" >0</text>
<text x="182" y="154" font-size="16" text-anchor="end" >2</text>
<text x="182" y="90.4" font-size="16" text-anchor="end" >4</text>
<text x="182" y="26.9" font-size="16" text-anchor="end" >6</text>
<text x="330.3" y="87.4" font-size="16" text-anchor="middle" >0.9</text>
<defs><linearGradient id="cb389" x1="0" y1="1" x2="0" y2="0"><stop offset="0" stop-color="#00f"/><stop offset=".25" stop-color="#0ff"/><stop offset=".5" stop-color="#0f0"/><stop offset=".75" stop-color="#ff0"/><stop offset="1" stop-color="#f00"/></linearGradient></defs>
<rect x="389.1" y="22.8" width="13.1" height="191.9" fill="url(#cb389)" stroke="#000" stroke-width="2.0"/>
<text x="405.8" y="220.6" font-size="16" text-anchor="start" >0</text>
<text x="405.8" y="182.2" font-size="16" text-anchor="start" >0.2</text>
<text x="405.8" y="143.8" font-size="16" text-anchor="start" >0.4</text>
<text x="405.8" y="105.4" font-size="16" text-anchor="start" >0.6</text>
<text x="405.8" y="67.1" font-size="16" text-anchor="start" >0.8</text>
<text x="405.8" y="28.7" font-size="16" text-anchor="start" >1</text>
<path d="M402.2,214.7h3M402.2,176.3h3M402.2,137.9h3M402.2,99.6h3M402.2,61.2h3M402.2,22.8h3" stroke="#000" stroke-width="1.8" fill="none"/>
<text x="396.4" y="15.7" font-size="12.7" text-anchor="middle" >Cross-Correlation</text>
<text x="160" y="19.2" font-size="16.5" text-anchor="middle" >(a)</text>
<text x="281.1" y="246" font-size="15" text-anchor="middle" >PM<tspan font-size="10" dy="4.3">1</tspan><tspan dy="-4.3"> modulation depth</tspan></text>
<text transform="translate(164.8,118) rotate(-90)" font-size="15.5" text-anchor="middle" >PM<tspan font-size="10" dy="4.3">2</tspan><tspan dy="-4.3"> modulation depth</tspan></text>
<g><rect x="50.2" y="265.3" width="190.8" height="190.9" fill="#005bff"/>
<path fill="#0064ff" d="M50.2,265.3 139.1,265.3 139.1,328.9 139.4,330.3 140.1,332.1 141.1,333.3 142.4,334.3 145.1,335 146.1,335 148.1,334.5 149.9,333.3 151.1,331.7 151.8,329.3 151.9,265.3 241,265.3 241,354.5 177.1,354.6 174.7,355.3 173.1,356.5 171.9,358.3 171.3,360.3 171.3,361.2 172.1,363.9 173.1,365.3 174.3,366.2 176.1,367 177.3,367.2 241,367.3 241,456.2 152.1,456.2 152.1,392.6 151.8,391.2 151.1,389.4 150.1,388.2 148.8,387.2 146.1,386.5 145.1,386.5 143.1,387 141.3,388.2 140.1,389.8 139.4,392.2 139.3,456.2 50.2,456.2 50.2,367 114.1,366.9 116.5,366.2 118.1,365 119.3,363.2 119.9,361.2 119.9,360.3 119.1,357.6 118.1,356.2 116.9,355.3 115.1,354.5 113.8,354.3 50.2,354.3Z"/>
<path fill="#006cff" d="M50.2,265.3 138.4,265.3 138.4,329.3 139.1,331.8 140.1,333.4 141.1,334.3 142.7,335.3 145.1,335.8 146.1,335.8 148.1,335.3 150.1,334.1 151.1,333.1 152.1,331.4 152.5,329.3 152.6,265.3 241,265.3 241,353.8 177.1,353.8 175,354.3 173.3,355.3 172.2,356.3 171,358.3 170.6,360.3 170.5,361.2 171.1,363.7 172,365.2 173,366.2 174.5,367.2 177.1,367.9 241,368 241,456.2 152.8,456.2 152.8,392.2 152.1,389.7 151.1,388.1 150.1,387.2 148.5,386.2 146.1,385.7 145.1,385.7 143.1,386.2 141.1,387.4 140.1,388.4 139.1,390.1 138.7,392.2 138.6,456.2 50.2,456.2 50.2,367.7 114.1,367.7 116.2,367.2 117.9,366.2 119,365.2 120.2,363.2 120.6,361.2 120.7,360.3 120.1,357.9 119.2,356.3 118.2,355.3 116.7,354.3 114.1,353.6 50.2,353.6Z"/>
<path fill="#0074ff" d="M50.2,265.3 137.9,265.3 137.9,329.3 138.3,331.3 139.1,332.9 140.1,334.1 142.1,335.5 144.1,336.3 145.1,336.4 146.9,336.3 148.1,335.9 149.4,335.3 150.6,334.3 152.2,332.3 153.1,329.3 153.1,265.3 241,265.3 241,353.2 177.1,353.3 174.1,354.2 172.1,355.7 171.1,357 170.5,358.3 170.1,359.5 170,361.2 170.1,362.3 170.8,364.2 172.2,366.2 173.5,367.2 175.1,368.1 177.1,368.5 241,368.5 241,456.2 153.3,456.2 153.3,392.2 152.9,390.2 152.1,388.6 151.1,387.4 149.1,386 147.1,385.2 146.1,385.1 144.4,385.2 143.1,385.6 141.8,386.2 140.6,387.2 139,389.2 138.1,392.2 138.1,456.2 50.2,456.2 50.2,368.3 114.1,368.2 117.1,367.3 119.1,365.8 120.1,364.5 120.7,363.2 121.1,362 121.2,360.3 121.1,359.2 120.4,357.3 119,355.3 117.7,354.3 116.1,353.5 114.1,353 50.2,353.1Z"/>
<path fill="#007dff" d="M50.2,265.3 137.5,265.3 137.5,329.3 138.1,331.9 139.7,334.3 140.8,335.3 142.1,336 143.1,336.4 145.1,336.8 147.1,336.6 148.3,336.3 150.1,335.3 151.1,334.4 152.1,333.2 153,331.3 153.4,329.3 153.5,265.3 241,265.3 241,352.9 177.1,352.9 175.1,353.3 173.2,354.3 171.9,355.3 171.1,356.3 170.1,358 169.7,359.3 169.6,361.2 169.9,363.2 170.3,364.2 171.1,365.5 172.1,366.7 174.4,368.2 177.1,368.9 241,368.9 241,456.2 153.7,456.2 153.7,392.2 153.1,389.6 152.3,388.2 151.5,387.2 150.4,386.2 149.1,385.5 148.1,385.1 146.1,384.7 144.1,384.9 142.9,385.2 141.1,386.2 140.1,387.1 139.1,388.3 138.2,390.2 137.8,392.2 137.7,456.2 50.2,456.2 50.2,368.6 114.1,368.6 116.1,368.2 118,367.2 119.3,366.2 120.1,365.2 121.1,363.5 121.5,362.2 121.6,360.3 121.3,358.3 120.9,357.3 120.1,356 119.1,354.9 118.1,354 116.8,353.3 114.1,352.6 50.2,352.7Z"/>
<path fill="#0085ff" d="M50.2,265.3 137.1,265.3 137.1,329.5 137.5,331.3 138.1,332.7 139.1,334.2 140.1,335.1 142.1,336.4 144.1,337 145.1,337.2 146.1,337.1 148.1,336.7 149.2,336.3 151.1,334.8 152.1,333.7 153.1,332 153.7,329.3 153.8,265.3 241,265.3 241,352.6 177.1,352.6 174.3,353.3 172.6,354.3 171.5,355.3 170.1,357.2 169.6,358.3 169.2,360.3 169.2,361.2 169.3,362.2 169.9,364.2 171.2,366.2 172.2,367.2 173.6,368.2 175.1,368.8 176.8,369.2 241,369.3 241,456.2 154.1,456.2 154.1,392 153.7,390.2 153.1,388.8 152.1,387.3 151.1,386.4 149.1,385.1 147.1,384.5 146.1,384.3 145.1,384.4 143.1,384.8 142,385.2 140.1,386.7 139.1,387.8 138.1,389.5 137.5,392.2 137.4,456.2 50.2,456.2 50.2,369 114.1,368.9 116.9,368.2 118.6,367.2 119.7,366.2 121.1,364.3 121.6,363.2 122,361.2 122,360.3 121.9,359.3 121.3,357.3 120,355.3 119,354.3 117.5,353.3 116.1,352.7 114.3,352.3 50.2,352.3Z"/>
<path fill="#008eff" d="M50.2,265.3 136.8,265.3 136.8,329.3 137.1,331.1 137.6,332.3 138.1,333.3 139.1,334.6 141.1,336.3 143.1,337.1 145.1,337.5 147.1,337.3 148.1,337 149.7,336.3 151.1,335.3 152.1,334.2 153.1,332.6 153.6,331.3 154,329.3 154.1,265.3 241,265.3 241,352.2 177.1,352.3 175.1,352.7 173.7,353.3 172.1,354.3 171.1,355.3 170.1,356.6 169.3,358.3 169,359.3 168.9,361.2 169.2,363.2 170.1,365.2 171.8,367.2 173,368.2 174.1,368.8 175.2,369.2 177.1,369.5 241,369.5 241,456.2 154.3,456.2 154.4,392.2 154.1,390.4 153.6,389.2 153.1,388.2 152.1,386.9 150.1,385.2 148.1,384.4 146.1,384 144.1,384.2 143.1,384.5 141.5,385.2 140.1,386.2 139.1,387.3 138.1,388.9 137.6,390.2 137.2,392.2 137.1,456.2 50.2,456.2 50.2,369.3 114.1,369.2 116.1,368.8 117.5,368.2 119.1,367.2 120.1,366.2 121.1,364.9 121.9,363.2 122.2,362.2 122.3,360.3 122,358.3 121.1,356.3 119.4,354.3 118.2,353.3 117.1,352.7 115.9,352.3 114.1,352 50.2,352.1Z"/>
<path fill="#0096ff" d="M50.2,265.3 136.6,265.3 136.6,329.3 136.9,331.3 137.3,332.3 138.1,333.8 139.1,335 140.7,336.3 142.1,337.1 143.1,337.4 145.1,337.7 148.1,337.3 150.1,336.4 151.1,335.6 152.1,334.6 153.1,333.2 154.2,330.3 154.3,327.3 154.3,265.3 241,265.3 241,352 179.1,352 176.1,352.2 173.2,353.3 171.8,354.3 170.8,355.3 170,356.3 169,358.3 168.6,361.2 168.9,363.2 169.3,364.2 170.1,365.7 171.4,367.2 172.6,368.2 174.1,369.1 175.1,369.5 177.1,369.8 241,369.8 241,456.2 154.6,456.2 154.6,392.2 154.3,390.2 153.9,389.2 153.1,387.7 152.1,386.5 150.5,385.2 149.1,384.4 148.1,384.1 146.1,383.8 143.1,384.2 141.1,385.1 140.1,385.9 139.1,386.9 138.1,388.3 137,391.2 136.9,394.2 136.9,456.2 50.2,456.2 50.2,369.5 112.1,369.5 115.1,369.3 118,368.2 119.4,367.2 120.4,366.2 121.2,365.2 122.2,363.2 122.6,360.3 122.3,358.3 121.9,357.3 121.1,355.8 119.8,354.3 118.6,353.3 117.1,352.4 116.1,352.1 114.1,351.7 50.2,351.8Z"/>
<path fill="#009fff" d="M50.2,265.3 136.3,265.3 136.3,329.3 136.7,331.3 137.1,332.5 138.1,334.2 139.1,335.3 140.2,336.3 142.1,337.3 145.1,338 146.1,338 148.1,337.6 149.1,337.2 151.1,335.9 153.1,333.6 154.1,331.5 154.4,330.3 154.5,327.3 154.5,265.3 241,265.3 241,351.8 179.1,351.8 176.1,352 174.9,352.3 172.8,353.3 170.4,355.3 169.1,357.3 168.7,358.3 168.3,360.3 168.3,361.2 169,364.2 170.1,366.2 171,367.2 172.1,368.2 173.8,369.2 175.1,369.7 177.1,370.1 241,370.1 241,456.2 154.8,456.2 154.9,392.2 154.5,390.2 154.1,389 153.1,387.3 152.1,386.2 151,385.2 149.1,384.2 146.1,383.5 145.1,383.5 143.1,383.9 142.1,384.3 140.1,385.6 138.1,387.9 137.1,390 136.8,391.2 136.7,394.2 136.7,456.2 50.2,456.2 50.2,369.7 112.1,369.7 115.1,369.5 116.3,369.2 118.4,368.2 120.8,366.2 122.1,364.2 122.5,363.2 122.9,361.2 122.9,360.3 122.2,357.3 121.1,355.3 120.2,354.3 119.1,353.3 117.4,352.3 116.1,351.8 114.1,351.4 50.2,351.6Z"/>
<path fill="#00a7ff" d="M50.2,265.3 136.1,265.3 136.1,329.8 136.4,331.3 137.1,333 138.1,334.5 139.1,335.6 140.1,336.5 142.1,337.6 145.1,338.3 146.1,338.3 148.1,337.8 149.5,337.3 151.1,336.2 152.1,335.3 153.1,334 154.1,332.1 154.5,330.3 154.7,327.3 154.7,265.3 241,265.3 241,351.6 179.1,351.6 176.1,351.8 174.3,352.3 172.4,353.3 171.1,354.3 170.1,355.3 169.1,356.9 168.5,358.3 168.1,360.2 168.1,361.2 168.8,364.2 169.9,366.2 170.7,367.2 171.8,368.2 173.3,369.2 175.1,369.9 176.5,370.2 241,370.3 241,456.2 155.1,456.2 155.1,391.8 154.8,390.2 154.1,388.5 153.1,387 152.1,385.9 151.1,385 149.1,383.9 146.1,383.2 145.1,383.2 143.1,383.7 141.7,384.2 140.1,385.3 139.1,386.2 138.1,387.5 137.1,389.4 136.7,391.2 136.5,394.2 136.5,456.2 50.2,456.2 50.2,369.9 112.1,369.9 115.1,369.7 116.9,369.2 118.8,368.2 120.1,367.2 121.1,366.2 122.1,364.6 122.7,363.2 123.1,361.2 123.1,360.3 122.4,357.3 121.3,355.3 120.5,354.3 119.4,353.3 117.9,352.3 116.1,351.6 114.6,351.3 95.2,351.2 50.2,351.4Z"/>
<path fill="#00b0ff" d="M50.2,265.3 135.9,265.3 135.8,327.3 136,330.3 137,333.3 138.1,334.9 139.1,335.9 140.9,337.3 142.1,337.8 143.5,338.3 145.1,338.5 147.1,338.4 148.1,338.1 149.9,337.3 151.1,336.4 153.1,334.3 154.2,332.3 154.7,330.3 154.9,327.3 154.9,265.3 241,265.3 241,351.4 179.1,351.4 176.1,351.6 174.1,352.1 172.1,353.2 169.9,355.3 169.1,356.4 168.3,358.3 168,359.3 167.8,361.2 168.1,362.9 168.5,364.2 169.1,365.4 170.4,367.2 171.5,368.2 173.1,369.3 176.1,370.4 181.1,370.5 241,370.5 241,456.2 155.3,456.2 155.4,395.2 155.2,391.2 154.2,388.2 153.1,386.6 152.1,385.6 150.3,384.2 149.1,383.7 147.7,383.2 146.1,383 144.1,383.1 143.1,383.4 141.3,384.2 140.1,385.1 138.1,387.2 137,389.2 136.5,391.2 136.3,394.2 136.2,456.2 50.2,456.2 50.2,370.1 112.1,370.1 115.1,369.9 117.1,369.4 119.1,368.3 121.3,366.2 122.1,365.1 122.9,363.2 123.2,362.2 123.4,360.3 123.1,358.6 122.7,357.3 122.1,356.1 120.8,354.3 119.7,353.3 118.1,352.2 115.1,351.1 113.1,351 100.1,351 50.2,351.2Z"/>
<path fill="#00b8ff" d="M50.2,265.3 135.7,265.3 135.6,326.3 135.8,330.3 136.1,331.6 136.8,333.3 138.1,335.2 139.1,336.2 140.6,337.3 142.1,338.1 143.1,338.4 145.1,338.7 147.1,338.6 148.2,338.3 150.1,337.4 151.6,336.3 153.1,334.6 154.1,332.9 154.7,331.3 155.1,329.3 155.1,265.3 241,265.3 241,351.2 177.1,351.3 175.1,351.6 173.4,352.3 171.7,353.3 170.1,354.8 168.9,356.3 168.1,358.1 167.8,359.3 167.6,361.2 167.9,363.2 168.3,364.2 169.1,365.8 170.1,367.2 171.2,368.2 173.1,369.6 174.7,370.2 176.1,370.6 183.1,370.7 241,370.7 241,456.2 155.4,456.2 155.6,395.2 155.4,391.2 155.1,389.9 154.4,388.2 153.1,386.3 152.1,385.3 150.6,384.2 149.1,383.4 148.1,383.1 146.1,382.8 144.1,382.9 143,383.2 141.1,384.1 139.6,385.2 138.1,386.9 137.1,388.6 136.5,390.2 136.1,392.2 136.1,456.2 50.2,456.2 50.2,370.3 114.1,370.2 116.1,369.9 117.8,369.2 119.5,368.2 121.1,366.7 122.3,365.2 123.1,363.4 123.4,362.2 123.6,360.3 123.3,358.3 122.9,357.3 122.1,355.7 121,354.3 120,353.3 118.1,352 116.5,351.3 115.1,350.9 113.1,350.8 100.1,350.8 50.2,351Z"/>
<path fill="#00c1ff" d="M50.2,265.3 135.5,265.3 135.4,326.3 135.6,330.3 136.1,332.2 136.6,333.3 138,335.3 138.9,336.3 140.2,337.3 142.1,338.3 145.1,338.9 147.1,338.8 148.8,338.3 150.1,337.6 151.9,336.3 153.1,334.9 154.1,333.3 155.1,330.3 155.3,327.3 155.3,265.3 241,265.3 241,351.1 179.1,351.1 176.1,351.2 173,352.3 171.5,353.3 170.1,354.5 168.7,356.3 168.1,357.5 167.6,359.3 167.4,361.2 168.1,364.2 169.1,366.2 170.1,367.4 171.1,368.4 173.1,369.8 174.1,370.2 176.1,370.8 184.1,370.9 241,370.8 241,456.2 155.6,456.2 155.8,397.2 155.6,391.2 155.1,389.3 154.6,388.2 153.3,386.2 152.3,385.2 151,384.2 149.1,383.2 146.1,382.6 144.1,382.7 142.4,383.2 141.1,383.9 139.3,385.2 138.1,386.6 137.1,388.2 136.1,391.2 135.9,394.2 135.9,456.2 50.2,456.2 50.2,370.5 112.1,370.4 115.1,370.3 118.2,369.2 119.7,368.2 121.1,367 122.5,365.2 123.1,364 123.6,362.2 123.8,360.3 123.1,357.3 122.1,355.3 121.1,354.1 120.1,353.1 118.1,351.8 117.1,351.3 115.1,350.8 113.1,350.6 99.1,350.6 50.2,350.8Z"/>
<path fill="#00c9ff" d="M50.2,265.3 135.3,265.3 135.3,326.3 135.4,330.3 135.9,332.3 136.4,333.3 137.1,334.5 138.7,336.3 140.1,337.4 142.1,338.5 145.1,339.1 147.1,339 149.1,338.4 150.9,337.3 152.1,336.3 154.1,333.6 155.1,331.3 155.3,330.3 155.4,327.3 155.4,265.3 241,265.3 241,350.9 179.1,350.9 176.1,351.1 175.1,351.3 172.7,352.3 170,354.3 169.1,355.4 168,357.3 167.3,359.3 167.2,361.2 167.8,364.2 168.9,366.2 170.1,367.7 171.9,369.2 173.1,370 174.1,370.4 176.1,370.9 184.1,371.1 241,371 241,456.2 155.8,456.2 155.9,398.2 155.8,391.2 155.3,389.2 154.8,388.2 154.1,387 152.5,385.2 151.1,384.1 149.1,383 146.1,382.4 144.1,382.5 142.1,383.1 140.3,384.2 139.1,385.2 137.1,387.9 136.1,390.2 135.9,391.2 135.8,394.2 135.8,456.2 50.2,456.2 50.2,370.6 112.1,370.6 115.1,370.4 116.1,370.2 118.5,369.2 121.2,367.2 122.1,366.1 123.2,364.2 123.8,362.2 124,360.3 123.4,357.3 122.3,355.3 121.1,353.8 119.3,352.3 118.1,351.5 117.1,351.1 115.1,350.6 113.1,350.4 99.1,350.4 50.2,350.7Z"/>
<path fill="#00d2ff" d="M50.2,265.3 135.1,265.3 135.1,326.3 135.2,330.3 136.2,333.3 137.1,334.7 138.4,336.3 141.1,338.3 143.1,339 145.1,339.4 147.1,339.2 149.1,338.6 151.1,337.4 152.1,336.5 154.1,333.9 154.9,332.3 155.4,330.3 155.6,327.3 155.6,265.3 241,265.3 241,350.8 179.1,350.8 176.1,350.9 174.1,351.5 172.4,352.3 169.8,354.3 169,355.3 167.8,357.3 167.1,359.3 167,361.2 167.3,363.2 168.1,365.2 170.1,367.9 171.6,369.2 173.1,370.2 176.1,371.1 184.1,371.3 241,371.2 241,456.2 156,456.2 156.1,398.2 156,391.2 155,388.2 154.1,386.8 152.8,385.2 150.1,383.2 148.1,382.5 146.1,382.1 144.1,382.3 142.1,382.9 140.1,384.1 139.1,385 137.1,387.6 136.3,389.2 135.8,391.2 135.6,394.2 135.6,456.2 50.2,456.2 50.2,370.8 112.1,370.7 115.1,370.6 117.1,370 118.8,369.2 121.4,367.2 122.2,366.2 123.4,364.2 124.1,362.2 124.2,360.3 123.9,358.3 123.1,356.3 121.1,353.6 119.6,352.3 118.1,351.3 115.1,350.4 113.1,350.2 97.2,350.2 50.2,350.5Z"/>
<path fill="#00daff" d="M50.2,265.3 135,265.3 134.9,324.3 135.1,330.3 136,333.3 137.1,335 138.2,336.3 139.3,337.3 141.1,338.5 143.1,339.2 145.1,339.6 147.1,339.4 149.1,338.8 151.1,337.6 152.1,336.7 154.1,334.2 155,332.3 155.5,330.3 155.7,327.3 155.7,265.3 241,265.3 241,350.6 179.1,350.6 176.1,350.8 174.1,351.3 172.1,352.3 169.6,354.3 168.8,355.3 167.6,357.3 166.9,359.3 166.8,361.2 167.1,363.2 167.9,365.2 169.1,367.1 170.1,368.2 171.3,369.2 173.1,370.4 176.1,371.3 186.1,371.5 241,371.4 241,456.2 156.1,456.2 156.3,400.2 156.1,391.2 155.2,388.2 154.1,386.5 153,385.2 151.9,384.2 150.1,383 148.1,382.3 146.1,381.9 144.1,382.1 142.1,382.7 140.1,383.9 139.1,384.8 137.1,387.3 136.2,389.2 135.7,391.2 135.5,394.2 135.5,456.2 50.2,456.2 50.2,370.9 112.1,370.9 115.1,370.7 117.1,370.2 119.1,369.2 121.6,367.2 122.4,366.2 123.6,364.2 124.3,362.2 124.4,360.3 124.1,358.3 123.3,356.3 122.1,354.4 121.1,353.3 119.9,352.3 118.1,351.2 115.1,350.2 113.1,350.1 97.2,350.1 50.2,350.3Z"/>
<path fill="#00e3ff" d="M50.2,265.3 134.8,265.3 134.7,322.3 134.9,330.3 135.8,333.3 137.1,335.3 138.1,336.4 139.1,337.3 141.1,338.7 143.1,339.4 145.1,339.8 147.1,339.6 149.1,339 151.1,337.8 152.1,336.9 154.2,334.3 155.2,332.3 155.7,330.3 155.8,327.3 155.8,265.3 241,265.3 241,350.5 179.1,350.5 176.1,350.7 174.1,351.2 172.1,352.1 169.4,354.3 168.6,355.3 167.4,357.3 166.7,359.3 166.6,361.2 166.9,363.2 167.7,365.2 169,367.2 169.9,368.2 171.1,369.3 173.1,370.5 176.1,371.5 187.1,371.6 241,371.5 241,456.2 156.3,456.2 156.4,401.2 156.3,391.2 155.4,388.2 154.1,386.2 153.1,385.1 152.1,384.2 150.1,382.8 148.1,382.1 146.1,381.7 144.1,381.9 142.1,382.5 140.1,383.7 139.1,384.6 137,387.2 136,389.2 135.5,391.2 135.4,394.2 135.3,456.2 50.2,456.2 50.2,371.1 112.1,371 115.1,370.8 117.1,370.3 119.1,369.4 121.8,367.2 122.6,366.2 123.8,364.2 124.5,362.2 124.6,360.3 124.3,358.3 123.5,356.3 122.2,354.3 121.3,353.3 120.1,352.2 118.1,351 115.1,350.1 113.1,349.9 97.2,349.9 50.2,350.2Z"/>
<path fill="#00ebff" d="M50.2,265.3 134.7,265.3 134.6,322.3 134.8,330.3 135.2,332.3 136.1,334.1 138.1,336.7 139.1,337.6 141.1,338.9 143.1,339.7 145.1,340 147.1,339.8 149.1,339.2 150.7,338.3 152.1,337.2 153.1,336.1 154.4,334.3 155.3,332.3 155.8,330.3 156,327.3 156,265.3 241,265.3 241,350.4 179.1,350.4 176.1,350.5 174.1,351 172.1,352 170.2,353.3 169.2,354.3 168.1,355.6 167.2,357.3 166.5,359.3 166.4,361.2 166.7,363.2 167.5,365.2 168.8,367.2 169.7,368.2 172.2,370.2 174.1,371.1 176.1,371.6 187.1,371.8 241,371.7 241,456.2 156.4,456.2 156.6,401.2 156.4,391.2 156,389.2 155.1,387.4 153.1,384.8 152.1,383.9 150.1,382.6 148.1,381.8 146.1,381.5 144.1,381.7 142.1,382.3 140.5,383.2 139.1,384.3 138.1,385.4 136.8,387.2 135.9,389.2 135.4,391.2 135.2,394.2 135.2,456.2 50.2,456.2 50.2,371.2 112.1,371.1 115.1,371 117.1,370.5 119.1,369.5 121,368.2 122,367.2 123.1,365.9 124,364.2 124.7,362.2 124.8,360.3 124.5,358.3 123.7,356.3 122.4,354.3 121.5,353.3 119,351.3 117.1,350.4 115.1,349.9 113.1,349.8 97.2,349.7 50.2,350Z"/>
<path fill="#00f4ff" d="M50.2,265.3 134.5,265.3 134.4,321.3 134.6,330.3 135.1,332.3 136,334.3 138.1,336.9 139.8,338.3 141.1,339.1 143.1,339.9 145.1,340.2 147.1,340 149.1,339.4 151,338.3 152.1,337.4 153.1,336.3 154.5,334.3 155.5,332.3 156,330.3 156.1,327.3 156.1,265.3 241,265.3 241,350.2 179.1,350.2 176.1,350.4 174.1,350.9 172.1,351.8 170.1,353.2 169,354.3 168.1,355.3 166.9,357.3 166.3,359.3 166.2,361.2 166.5,363.2 167.3,365.2 168.1,366.6 169.4,368.2 172.1,370.3 174.1,371.3 176.1,371.8 188.1,372 241,371.8 241,456.2 156.6,456.2 156.8,402.2 156.6,391.2 156.1,389.2 155.2,387.2 153.1,384.6 151.4,383.2 150.1,382.4 148.1,381.6 146.1,381.3 144.1,381.5 142.1,382.1 140.2,383.2 139.1,384.1 138.1,385.2 136.7,387.2 135.7,389.2 135.2,391.2 135.1,394.2 135,456.2 50.2,456.2 50.2,371.3 112.1,371.3 115.1,371.1 117.1,370.6 119.1,369.7 121.1,368.3 122.2,367.2 123.1,366.2 124.3,364.2 124.9,362.2 125,360.3 124.7,358.3 123.9,356.3 123.1,354.9 121.7,353.3 119.1,351.2 117.1,350.2 115.1,349.7 113.1,349.6 97.2,349.6 50.2,349.9Z"/>
<path fill="#00fcff" d="M50.2,265.3 134.4,265.3 134.3,320.3 134.4,330.3 134.9,332.3 135.8,334.3 138.1,337.1 139.5,338.3 141.1,339.3 143.1,340.1 145.1,340.4 147.1,340.2 149.1,339.6 151.1,338.4 152.1,337.6 153.3,336.3 154.7,334.3 155.6,332.3 156.1,330.3 156.2,327.3 156.2,265.3 241,265.3 241,350.1 179.1,350.1 176.1,350.2 174.1,350.7 172.1,351.7 170.1,353 168.8,354.3 167.9,355.3 166.7,357.3 166.1,359.3 166,361.2 166.3,363.2 167.1,365.2 169.2,368.2 172.1,370.5 174.1,371.5 176.1,371.9 188.1,372.1 241,372 241,456.2 156.7,456.2 156.9,403.2 156.8,391.2 156.3,389.2 155.4,387.2 153.1,384.4 151.7,383.2 150.1,382.2 148.1,381.4 146.1,381.1 144.1,381.3 142.1,381.9 140.1,383.1 139.1,383.9 137.9,385.2 136.5,387.2 135.6,389.2 135.1,391.2 135,394.2 134.9,456.2 50.2,456.2 50.2,371.5 112.1,371.4 115.1,371.3 117.1,370.8 119.1,369.8 121.1,368.5 122.4,367.2 123.3,366.2 124.5,364.2 125.1,362.2 125.2,360.3 124.9,358.3 124.1,356.3 123.1,354.7 122,353.3 119.1,351 117.1,350.1 115.1,349.6 113.1,349.4 96.2,349.4 50.2,349.8Z"/>
<path fill="#00fff9" d="M50.2,265.3 134.2,265.3 134.1,320.3 134.3,330.3 134.8,332.3 135.7,334.3 137.1,336.3 138.1,337.3 141.1,339.5 143.1,340.3 145.1,340.6 147.1,340.4 149.1,339.8 151.1,338.6 152.1,337.8 153.5,336.3 154.8,334.3 155.7,332.3 156.2,330.3 156.4,327.3 156.4,265.3 241,265.3 241,350 179.1,350 176.1,350.1 174.1,350.6 172.1,351.5 170.1,352.9 168.6,354.3 167.7,355.3 166.5,357.3 165.9,359.3 165.7,361.2 166.1,363.2 166.9,365.2 169,368.2 170.1,369.3 172.1,370.7 174.1,371.6 176.1,372.1 178.1,372.2 188.1,372.3 241,372.1 241,456.2 156.9,456.2 157.1,403.2 157.1,393.2 156.9,391.2 156.4,389.2 155.5,387.2 154.1,385.2 153.1,384.2 150.1,382 148.1,381.2 146.1,380.9 144.1,381.1 142.1,381.7 140.1,382.9 139.1,383.7 137.7,385.2 136.4,387.2 135.5,389.2 135,391.2 134.8,394.2 134.8,456.2 50.2,456.2 50.2,371.6 112.1,371.5 115.1,371.4 117.1,370.9 119.1,370 121.1,368.6 122.6,367.2 123.5,366.2 124.7,364.2 125.3,362.2 125.5,360.3 125.1,358.3 124.3,356.3 122.2,353.3 121.1,352.2 119.1,350.8 117.1,349.9 115.1,349.4 113.1,349.3 96.2,349.3 50.2,349.6Z"/>
<path fill="#00fff1" d="M50.2,265.3 134.1,265.3 134,319.3 134.1,330.3 134.6,332.3 135.5,334.3 136.9,336.3 138.1,337.5 141.1,339.7 143.1,340.5 145.1,340.8 147.1,340.7 149.1,340 151.1,338.8 152.1,338 153.7,336.3 155,334.3 155.9,332.3 156.3,330.3 156.5,327.3 156.5,265.3 241,265.3 241,349.9 179.1,349.9 176.1,350 174.1,350.5 172.1,351.4 170.1,352.7 168.4,354.3 167.5,355.3 166.3,357.3 165.7,359.3 165.5,361.2 165.9,363.2 166.7,365.2 168.8,368.2 170.1,369.5 172.1,370.9 174.1,371.8 176.1,372.3 189.1,372.4 241,372.3 241,456.2 157,456.2 157.2,404.2 157.1,391.2 156.6,389.2 155.7,387.2 154.3,385.2 153.1,384 150.1,381.8 148.1,381 146.1,380.7 144.1,380.8 142.1,381.5 140.1,382.7 139.1,383.5 137.5,385.2 136.2,387.2 135.3,389.2 134.9,391.2 134.7,394.2 134.7,456.2 50.2,456.2 50.2,371.7 112.1,371.6 115.1,371.5 117.1,371 119.1,370.1 121.1,368.8 122.8,367.2 123.7,366.2 124.9,364.2 125.5,362.2 125.7,360.3 125.3,358.3 124.5,356.3 122.4,353.3 121.1,352.1 119.1,350.7 117.1,349.8 115.1,349.3 112.1,349.1 95.2,349.1 50.2,349.5Z"/>
<path fill="#00ffe8" d="M50.2,265.3 133.9,265.3 133.8,319.3 134,330.3 134.5,332.3 135.3,334.3 136.7,336.3 138.1,337.7 141.1,339.9 143.1,340.7 145.1,341 147.1,340.9 149.1,340.2 150.1,339.7 152.1,338.2 153.8,336.3 155.1,334.3 156,332.3 156.5,330.3 156.6,327.3 156.6,265.3 241,265.3 241,349.7 179.1,349.7 176.1,349.9 174.1,350.3 172,351.3 170.1,352.5 168.1,354.3 166.6,356.3 166.1,357.3 165.5,359.3 165.3,361.2 165.6,363.2 166.4,365.2 168.6,368.2 170.1,369.6 172.1,371 174.1,371.9 176.1,372.4 189.1,372.6 241,372.4 241,456.2 157.2,456.2 157.4,405.2 157.2,391.2 156.7,389.2 155.9,387.2 154.5,385.2 153.1,383.8 150.1,381.6 148.1,380.8 146.1,380.5 144.1,380.6 142.1,381.3 141.1,381.8 139.1,383.3 137.4,385.2 136.1,387.2 135.2,389.2 134.7,391.2 134.6,394.2 134.5,456.2 50.2,456.2 50.2,371.8 112.1,371.8 115.1,371.6 117.1,371.2 119.2,370.2 121.1,369 123.1,367.2 124.6,365.2 125.1,364.2 125.7,362.2 125.9,360.3 125.6,358.3 124.8,356.3 122.6,353.3 121.1,351.9 119.1,350.5 117.1,349.6 115.1,349.1 112.1,349 95.2,349 50.2,349.3Z"/>
<path fill="#00ffe0" d="M50.2,265.3 133.8,265.3 133.7,318.3 133.8,330.3 134.3,332.3 135.2,334.3 136.5,336.3 138.1,338 140.1,339.5 142.1,340.6 145.1,341.2 147.1,341.1 149.1,340.5 150.1,339.9 152.1,338.4 154,336.3 155.1,334.6 156.1,332.3 156.6,330.3 156.7,327.3 156.7,265.3 241,265.3 241,349.6 179.1,349.6 176.1,349.8 174.1,350.2 171.7,351.3 170.1,352.3 167.9,354.3 166.4,356.3 165.9,357.3 165.2,359.3 165.1,361.2 165.8,364.2 166.8,366.2 168.4,368.2 170.1,369.8 172.1,371.2 174.1,372.1 176.1,372.5 190.1,372.7 241,372.5 241,456.2 157.3,456.2 157.5,405.2 157.4,391.2 156.9,389.2 156,387.2 154.7,385.2 153.1,383.5 151.1,382 149.1,380.9 146.1,380.3 144.1,380.4 142.1,381 141.1,381.6 139.1,383.1 137.2,385.2 136.1,386.9 135.1,389.2 134.6,391.2 134.5,394.2 134.4,456.2 50.2,456.2 50.2,372 112.1,371.9 115.1,371.7 117.1,371.3 119.5,370.2 121.1,369.2 123.3,367.2 124.8,365.2 125.3,364.2 126,362.2 126.1,360.3 125.4,357.3 124.4,355.3 122.8,353.3 121.1,351.7 119.1,350.3 117.1,349.5 115.1,349 96.2,348.9 50.2,349.2Z"/>
<path fill="#00ffd7" d="M50.2,265.3 133.7,265.3 133.5,318.3 133.7,330.3 134.2,332.3 135,334.3 136.4,336.3 138.1,338.2 140.1,339.7 142.1,340.8 145.1,341.5 147.1,341.3 149.1,340.7 151.1,339.5 152.1,338.6 154.1,336.4 155.1,334.8 156.2,332.3 156.7,330.3 156.8,327.3 156.8,265.3 241,265.3 241,349.5 179.1,349.5 176.1,349.6 174.1,350.1 171.5,351.3 170,352.3 167.7,354.3 166.9,355.3 165.7,357.3 165,359.3 164.9,361.2 165.5,364.2 166.6,366.2 168.2,368.2 170.1,370 172.1,371.4 174.1,372.2 176.1,372.7 190.1,372.8 241,372.7 241,456.2 157.4,456.2 157.6,406.2 157.5,391.2 157.1,389.2 156.2,387.2 154.8,385.2 153.1,383.3 151.1,381.8 149.1,380.7 146.1,380 144.1,380.2 142.1,380.8 140.1,382 139.1,382.9 137.1,385.1 136.1,386.7 135,389.2 134.5,391.2 134.4,394.2 134.3,456.2 50.2,456.2 50.2,372.1 112.1,372 115.1,371.9 117.1,371.4 119.7,370.2 121.2,369.2 123.5,367.2 124.3,366.2 125.5,364.2 126.2,362.2 126.3,360.3 125.7,357.3 124.6,355.3 123,353.3 121.1,351.5 119.1,350.2 117.1,349.3 115.1,348.8 112.1,348.7 95.2,348.7 50.2,349.1Z"/>
<path fill="#00ffcf" d="M50.2,265.3 133.5,265.3 133.4,317.3 133.6,330.3 134,332.3 134.9,334.3 136.2,336.3 138.1,338.4 141.1,340.5 143.1,341.4 145.1,341.7 147.1,341.6 149.1,340.9 151.1,339.7 152.1,338.8 154.1,336.6 155.1,335.1 156.1,333 156.8,330.3 157,327.3 157,265.3 241,265.3 241,349.4 179.1,349.4 176.1,349.5 173.3,350.3 171.3,351.3 169.7,352.3 167.5,354.3 166.7,355.3 165.4,357.3 164.8,359.3 164.6,361.2 165,363.2 165.8,365.2 168,368.2 170.1,370.2 172.1,371.5 174.1,372.4 176.1,372.8 190.1,373 241,372.8 241,456.2 157.5,456.2 157.8,406.2 157.6,391.2 157.2,389.2 156.3,387.2 155,385.2 153.1,383.1 150.1,381 148.1,380.1 146.1,379.8 144.1,379.9 142.1,380.6 140.1,381.8 139.1,382.7 137.1,384.9 136.1,386.4 135.1,388.5 134.4,391.2 134.2,394.2 134.2,456.2 50.2,456.2 50.2,372.2 112.1,372.1 115.1,372 117.9,371.2 119.9,370.2 121.5,369.2 123.7,367.2 124.5,366.2 125.8,364.2 126.4,362.2 126.6,360.3 126.2,358.3 125.4,356.3 123.2,353.3 121.1,351.3 119.1,350 117.1,349.2 115.1,348.7 112.1,348.6 95.2,348.6 50.2,349Z"/>
<path fill="#00ffc6" d="M50.2,265.3 133.4,265.3 133.3,317.3 133.4,330.3 133.9,332.3 134.7,334.3 136,336.3 137.1,337.6 139.1,339.4 141.1,340.8 143.1,341.6 145.1,341.9 147.1,341.8 149.1,341.1 150.1,340.6 152.1,339 154.1,336.8 155.1,335.3 156.1,333.3 156.9,330.3 157.1,327.3 157.1,265.3 241,265.3 241,349.3 179.1,349.3 176.1,349.4 173.1,350.2 171.1,351.2 169.5,352.3 167.3,354.3 165.7,356.3 165.2,357.3 164.5,359.3 164.4,361.2 164.7,363.2 165.6,365.2 166.9,367.2 168.7,369.2 170.1,370.4 172.1,371.7 174.1,372.5 176.1,373 190.1,373.1 241,372.9 241,456.2 157.7,456.2 157.9,407.2 157.8,391.2 157.3,389.2 156.5,387.2 155.2,385.2 154.1,383.9 152.1,382.1 150.1,380.7 148.1,379.9 146.1,379.6 144.1,379.7 142.1,380.4 141.1,380.9 139.1,382.5 137.1,384.7 136.1,386.2 135.1,388.2 134.3,391.2 134.1,394.2 134.1,456.2 50.2,456.2 50.2,372.3 112.1,372.2 115.1,372.1 118.1,371.3 120.1,370.3 121.7,369.2 123.9,367.2 125.5,365.2 126,364.2 126.7,362.2 126.8,360.3 126.5,358.3 125.6,356.3 124.3,354.3 122.4,352.3 121.1,351.1 119.1,349.9 117.1,349 115.1,348.6 112.1,348.4 95.2,348.4 50.2,348.8Z"/>
<path fill="#00ffbe" d="M50.2,265.3 133.3,265.3 133.1,317.3 133.3,330.3 133.7,332.3 134.6,334.3 135.8,336.3 137.1,337.8 139.1,339.7 141.1,341 143.1,341.9 145.1,342.2 147.1,342.1 149.1,341.4 150.1,340.9 152.1,339.2 154.1,337 155.3,335.3 156.2,333.3 157.1,330.3 157.2,327.3 157.2,265.3 241,265.3 241,349.1 179.1,349.1 176.1,349.3 173.1,350.1 171.1,351.1 169.3,352.3 167.1,354.3 165.5,356.3 164.9,357.3 164.3,359.3 164.2,361.2 164.5,363.2 165.3,365.2 166.7,367.2 168.5,369.2 170.1,370.5 172.1,371.8 174.1,372.7 176.1,373.1 191.1,373.3 241,373.1 241,456.2 157.8,456.2 158.1,407.2 157.9,391.2 157.5,389.2 156.7,387.2 155.4,385.2 154.1,383.7 152.1,381.8 150.1,380.5 148.1,379.6 146.1,379.3 144.1,379.4 142.1,380.1 141.1,380.6 139.1,382.3 137.1,384.5 135.9,386.2 135,388.2 134.1,391.2 134,394.2 134,456.2 50.2,456.2 50.2,372.4 112.1,372.4 115.1,372.2 118.1,371.4 120.1,370.4 121.9,369.2 124.1,367.2 125.7,365.2 126.3,364.2 126.9,362.2 127,360.3 126.7,358.3 125.9,356.3 124.5,354.3 122.7,352.3 121.1,351 119.1,349.7 117.1,348.9 115.1,348.4 112.1,348.3 95.2,348.3 50.2,348.7Z"/>
<path fill="#00ffb5" d="M50.2,265.3 133.1,265.3 133,316.3 133.1,330.3 133.6,332.3 134.4,334.3 135.7,336.3 137.1,338 139.1,339.9 141.1,341.2 143.1,342.1 145.1,342.4 147.1,342.3 149.1,341.7 150.1,341.1 152.1,339.5 154.1,337.2 155.4,335.3 156.4,333.3 157.2,330.3 157.3,327.3 157.3,265.3 241,265.3 241,349 179.1,349 176.1,349.2 173.1,350 171.1,351 169.1,352.3 166.9,354.3 165.2,356.3 164.7,357.3 164,359.3 163.9,361.2 164.2,363.2 165.1,365.2 166.4,367.2 168.3,369.2 170.1,370.7 172.1,372 174.1,372.8 176.1,373.3 191.1,373.4 241,373.2 241,456.2 157.9,456.2 158.2,408.2 158.1,391.2 157.6,389.2 156.8,387.2 155.5,385.2 154.1,383.5 152.1,381.6 150.1,380.3 148.1,379.4 146.1,379.1 144.1,379.2 142.1,379.8 141.1,380.4 139.1,382 137.1,384.3 135.8,386.2 134.8,388.2 134,391.2 133.9,394.2 133.8,456.2 50.2,456.2 50.2,372.6 115.1,372.3 118.1,371.5 120.1,370.5 122.1,369.2 124.3,367.2 126,365.2 126.5,364.2 127.2,362.2 127.3,360.3 127,358.3 126.1,356.3 124.7,354.3 122.9,352.3 121.1,350.8 119.1,349.5 117.1,348.7 115.1,348.3 112.1,348.1 94.2,348.2 50.2,348.6Z"/>
<path fill="#00ffad" d="M50.2,265.3 133,265.3 132.8,316.3 133,330.3 133.4,332.3 134.2,334.3 135.5,336.3 137.1,338.2 139.1,340.1 141.1,341.5 143.1,342.4 145.1,342.7 147.1,342.6 149.1,341.9 151.1,340.6 152.1,339.7 154.1,337.4 155.5,335.3 156.8,332.3 157.3,330.3 157.4,327.3 157.4,265.3 241,265.3 241,348.9 179.1,348.9 176.1,349.1 174.1,349.5 171.1,350.8 168.9,352.3 166.6,354.3 165.7,355.3 164.4,357.3 163.7,359.3 163.6,361.2 164,363.2 164.8,365.2 166.2,367.2 168.1,369.2 170.1,370.9 172.1,372.1 174.1,373 176.1,373.4 191.1,373.6 241,373.3 241,456.2 158.1,456.2 158.3,408.2 158.2,391.2 157.8,389.2 157,387.2 155.7,385.2 154.1,383.3 152.1,381.4 150.1,380 148.1,379.1 146.1,378.8 144.1,378.9 142.1,379.6 140.1,380.9 139.1,381.8 137.1,384.1 135.7,386.2 134.4,389.2 133.9,391.2 133.8,394.2 133.7,456.2 50.2,456.2 50.2,372.7 115.1,372.4 117.1,372 120.1,370.7 122.3,369.2 124.6,367.2 125.5,366.2 126.8,364.2 127.5,362.2 127.6,360.3 127.2,358.3 126.4,356.3 125,354.3 123.1,352.3 121.1,350.6 119.1,349.4 117.1,348.6 115.1,348.1 94.2,348 50.2,348.5Z"/>
<path fill="#00ffa4" d="M50.2,265.3 132.9,265.3 132.7,316.3 132.8,330.3 133.3,332.3 134.1,334.3 135.3,336.3 137.1,338.5 139.1,340.4 141.1,341.8 143.1,342.7 145.1,343 147.1,342.9 149.1,342.2 150.1,341.7 152.1,340 154.1,337.7 155.6,335.3 157,332.3 157.4,330.3 157.5,327.3 157.5,265.3 241,265.3 241,348.8 179.1,348.8 176.1,349 174.1,349.4 171.1,350.7 168.7,352.3 166.4,354.3 164.7,356.3 164.1,357.3 163.5,359.3 163.3,361.2 163.7,363.2 164.5,365.2 166,367.2 167.9,369.2 170.1,371.1 172.1,372.3 174.1,373.1 176.1,373.5 191.1,373.7 241,373.5 241,456.2 158.2,456.2 158.5,408.2 158.4,391.2 157.9,389.2 157.1,387.2 155.9,385.2 154.1,383 152.1,381.1 150.1,379.7 148.1,378.8 146.1,378.5 144.1,378.6 142.1,379.3 141.1,379.8 139.1,381.5 137.1,383.8 135.6,386.2 134.2,389.2 133.8,391.2 133.7,394.2 133.6,456.2 50.2,456.2 50.2,372.8 115.1,372.5 117.1,372.1 120.1,370.8 122.5,369.2 124.8,367.2 126.5,365.2 127.1,364.2 127.7,362.2 127.9,360.3 127.5,358.3 126.7,356.3 125.2,354.3 123.3,352.3 121.1,350.5 119.1,349.2 117.1,348.4 115.1,348 94.2,347.9 50.2,348.4Z"/>
<path fill="#00ff9c" d="M50.2,265.3 132.7,265.3 132.5,316.3 132.7,330.3 133.1,332.3 133.9,334.3 135.1,336.3 137.1,338.7 139.1,340.6 141.1,342.1 143.1,343 145.1,343.3 147.1,343.2 149.1,342.5 150.1,342 152.1,340.2 154.1,337.9 155.8,335.3 157.1,332.3 157.5,330.3 157.6,327.3 157.6,265.3 241,265.3 241,348.7 179.1,348.7 176.1,348.8 174.1,349.3 171.1,350.6 168.5,352.3 166.1,354.3 164.4,356.3 163.8,357.3 163.2,359.3 163.1,361.2 163.4,363.2 164.3,365.2 165.7,367.2 167.6,369.2 170.1,371.2 172.1,372.4 174.1,373.2 176.1,373.7 191.1,373.8 241,373.6 241,456.2 158.3,456.2 158.6,408.2 158.5,391.2 158.1,389.2 157.3,387.2 156.1,385.2 154.1,382.8 152.1,380.9 150.1,379.4 148.1,378.5 146.1,378.2 144.1,378.3 142.1,379 141.1,379.5 139.1,381.3 137.1,383.6 135.4,386.2 134.1,389.2 133.7,391.2 133.5,456.2 50.2,456.2 50.2,372.9 115.1,372.7 117.1,372.2 120.1,370.9 122.7,369.2 125.1,367.2 126.8,365.2 127.4,364.2 128,362.2 128.1,360.3 127.8,358.3 126.9,356.3 125.5,354.3 123.5,352.3 121.1,350.3 119.1,349.1 117.1,348.3 115.1,347.9 94.2,347.7 50.2,348.2Z"/>
<path fill="#00ff93" d="M50.2,265.3 132.6,265.3 132.4,315.3 132.6,330.3 133,332.3 133.8,334.3 135.1,336.5 137.1,338.9 139.1,340.9 141.1,342.4 143.1,343.2 145.1,343.6 147.1,343.5 149.1,342.9 151.1,341.5 152.1,340.5 154.1,338.1 155.9,335.3 157.1,332.5 157.6,330.3 157.7,327.3 157.7,265.3 241,265.3 241,348.6 179.1,348.6 176.1,348.7 173.8,349.3 171.1,350.4 168.2,352.3 165.8,354.3 164.8,355.3 163.5,357.3 162.9,359.3 162.8,361.2 163.1,363.2 164,365.2 165.4,367.2 167.4,369.2 169.9,371.2 172.1,372.6 174.1,373.4 176.1,373.8 192.1,374 241,373.7 241,456.2 158.4,456.2 158.8,408.2 158.6,391.2 158.2,389.2 157.4,387.2 156.1,385 154.1,382.6 152.1,380.6 150.1,379.1 148.1,378.3 146.1,377.9 144.1,378 142.1,378.6 140.1,380 139.1,381 137.1,383.4 135.3,386.2 134.1,389 133.6,391.2 133.4,456.2 50.2,456.2 50.2,373 115.1,372.8 117.4,372.2 120.1,371.1 123,369.2 125.4,367.2 126.4,366.2 127.7,364.2 128.3,362.2 128.4,360.3 128.1,358.3 127.2,356.3 125.8,354.3 123.8,352.3 121.3,350.3 119.1,348.9 117.1,348.1 115.1,347.7 94.2,347.6 50.2,348.1Z"/>
<path fill="#00ff8b" d="M50.2,265.3 132.5,265.3 132.3,315.3 132.4,330.3 132.8,332.3 133.6,334.3 135.1,336.7 137.1,339.1 139.1,341.2 141.1,342.7 143.1,343.5 145.1,343.9 147.1,343.8 149.1,343.2 151.1,341.9 152.1,340.8 154.1,338.3 156.1,335.2 157.3,332.3 157.7,330.3 157.8,327.3 157.8,265.3 241,265.3 241,348.5 179.1,348.5 176.1,348.6 174.1,349.1 171.2,350.3 168,352.3 165.5,354.3 164.5,355.3 163.2,357.3 162.6,359.3 162.5,361.2 162.8,363.2 163.6,365.2 165.2,367.2 167.2,369.2 169.6,371.2 172.1,372.8 174.1,373.5 176.1,374 192.1,374.1 241,373.9 241,456.2 158.6,456.2 158.9,409.2 158.8,391.2 158.4,389.2 157.6,387.2 156.1,384.8 154.1,382.3 152.1,380.3 150.1,378.8 148.1,378 146.1,377.6 144.1,377.7 142.1,378.3 140.1,379.6 139.1,380.7 137.1,383.2 135.1,386.3 133.9,389.2 133.5,391.2 133.3,456.2 50.2,456.2 50.2,373.1 115.1,372.9 117.1,372.4 120,371.2 123.2,369.2 125.7,367.2 126.7,366.2 128,364.2 128.6,362.2 128.7,360.3 128.4,358.3 127.6,356.3 126,354.3 124,352.3 121.6,350.3 119.1,348.8 117.1,348 115.1,347.6 94.2,347.5 50.2,348Z"/>
<path fill="#00ff83" d="M50.2,265.3 132.3,265.3 132.1,315.3 132.3,330.3 133,333.3 134,335.3 135.4,337.3 138.1,340.5 140.1,342.4 141.1,343 143.1,343.8 145.1,344.1 147.1,344 149.1,343.5 151.1,342.2 152.1,341.2 154.1,338.6 156.1,335.4 157.1,333.2 157.8,330.3 157.9,327.3 157.9,265.3 241,265.3 241,348.4 179.1,348.4 176.1,348.5 173.1,349.3 170.9,350.3 167.7,352.3 165.2,354.3 164.1,355.3 162.8,357.3 162.3,359.3 162.2,361.2 162.5,363.2 163.3,365.2 164,366.2 165.8,368.2 169.1,371 171.1,372.4 173.1,373.3 176.1,374.1 192.1,374.3 241,374 241,456.2 158.7,456.2 159,409.2 158.9,391.2 158.2,388.2 157.2,386.2 155.9,384.2 153.1,381 151.1,379.1 150.1,378.5 148.1,377.7 146.1,377.4 144.1,377.5 142.1,378 140.1,379.3 139.1,380.3 137.1,382.9 135.1,386.1 134.1,388.3 133.4,391.2 133.2,456.2 50.2,456.2 50.2,373.2 115.1,373 118.1,372.2 120.3,371.2 123.5,369.2 126,367.2 127.1,366.2 128.4,364.2 128.9,362.2 129,360.3 128.7,358.3 127.9,356.3 127.2,355.3 125.4,353.3 122.1,350.5 120.1,349.2 118.1,348.2 115.1,347.4 94.2,347.3 50.2,347.9Z"/>
<path fill="#00ff7a" d="M50.2,265.3 132.2,265.3 132,315.3 132.1,330.3 132.9,333.3 133.9,335.3 135.2,337.3 138.1,340.8 140.1,342.7 141.1,343.4 143.1,344.2 145.1,344.4 147.1,344.3 149.1,343.8 151.1,342.6 152.1,341.5 154.1,338.8 156.3,335.3 157.5,332.3 157.9,330.3 158.1,327.3 158.1,265.3 241,265.3 241,348.3 179.1,348.3 176.1,348.4 174.1,348.8 171.1,350.1 167.5,352.3 164.8,354.3 163.7,355.3 162.5,357.3 162,359.3 161.9,361.2 162.2,363.2 163,365.2 163.6,366.2 165.5,368.2 169.1,371.2 171.1,372.5 173.1,373.5 176.1,374.2 192.1,374.4 241,374.1 241,456.2 158.8,456.2 159.2,409.2 159.1,391.2 158.3,388.2 157.4,386.2 156,384.2 153.1,380.7 151.1,378.8 150.1,378.1 148.1,377.3 146.1,377.1 144.1,377.2 142.1,377.7 140.1,378.9 139.1,380 137.1,382.7 134.9,386.2 133.7,389.2 133.3,391.2 133.1,456.2 50.2,456.2 50.2,373.3 115.1,373.1 117.1,372.7 120.1,371.4 123.7,369.2 126.4,367.2 127.5,366.2 128.7,364.2 129.2,362.2 129.3,360.3 129,358.3 128.2,356.3 127.6,355.3 125.7,353.3 122.1,350.3 120.1,349 118.1,348 115.1,347.3 94.2,347.2 50.2,347.8Z"/>
<path fill="#00ff72" d="M50.2,265.3 132.1,265.3 131.8,314.3 132,330.3 132.7,333.3 133.7,335.3 135.1,337.4 138.1,341.1 140.1,343.1 141.1,343.7 143.1,344.4 145.1,344.7 147.1,344.6 149.1,344.2 150.8,343.3 152.1,342 155.1,337.6 156.4,335.3 157.6,332.3 158,330.3 158.2,265.3 241,265.3 241,348.2 176.1,348.3 174.1,348.7 171.1,349.9 168.7,351.3 164.4,354.3 163.1,355.6 162.2,357.3 161.7,359.3 161.6,361.2 161.9,363.2 162.6,365.2 163.3,366.2 165.2,368.2 168.9,371.2 171.1,372.7 173.1,373.6 176.1,374.4 192.1,374.6 241,374.3 241,456.2 158.9,456.2 159.3,409.2 159.2,391.2 158.5,388.2 157.5,386.2 156.1,384.1 153.1,380.4 151.1,378.4 150.1,377.8 148.1,377.1 146.1,376.8 144.1,376.9 142.1,377.3 140.4,378.2 139.1,379.5 136.1,383.9 134.8,386.2 133.6,389.2 133.2,391.2 133,456.2 50.2,456.2 50.2,373.5 115.1,373.2 117.1,372.8 120.1,371.6 122.5,370.2 126.8,367.2 128.1,365.9 129,364.2 129.5,362.2 129.6,360.3 129.3,358.3 128.6,356.3 127.9,355.3 126,353.3 122.3,350.3 120.1,348.8 118.1,347.9 115.1,347.2 94.2,347 50.2,347.6Z"/>
<path fill="#00ff69" d="M50.2,265.3 131.9,265.3 131.7,314.3 131.9,330.3 132.6,333.3 133.5,335.3 135.1,337.7 138.1,341.5 139.9,343.3 141.1,344.1 143.1,344.7 145.1,345 147.1,344.9 149.1,344.5 151.1,343.4 152.1,342.4 155.1,337.8 156.5,335.3 157.7,332.3 158.1,330.3 158.3,265.3 241,265.3 241,348.1 176.1,348.2 174.1,348.6 171.1,349.8 168.5,351.3 164,354.3 162.9,355.3 161.9,357.3 161.5,359.3 161.4,361.2 161.6,363.2 162.3,365.2 163.1,366.5 164.8,368.2 168.6,371.2 171.1,372.9 173.1,373.8 176.1,374.5 192.1,374.7 241,374.4 241,456.2 159.1,456.2 159.5,409.2 159.3,391.2 158.6,388.2 157.7,386.2 156.1,383.8 153.1,380 151.3,378.2 150.1,377.4 148.1,376.8 146.1,376.5 144.1,376.6 142.1,377 140.1,378.1 139.1,379.1 136.1,383.7 134.7,386.2 133.8,388.2 133.1,390.9 132.9,394.2 132.8,456.2 50.2,456.2 50.2,373.6 113.1,373.4 115.5,373.2 118.1,372.6 120.1,371.7 122.7,370.2 127.2,367.2 128.3,366.2 129.3,364.2 129.7,362.2 129.8,360.3 129.6,358.3 128.9,356.3 128.1,355 126.4,353.3 122.5,350.3 120.1,348.7 118.1,347.7 115.1,347 94.2,346.9 50.2,347.5Z"/>
<path fill="#00ff61" d="M50.2,265.3 131.8,265.3 131.5,318.3 131.6,328.3 131.9,331.3 132.4,333.3 134,336.3 137.1,340.6 139.1,343 141.1,344.4 143.1,345 145.1,345.2 147.1,345.2 149.1,344.8 151.1,343.8 152.1,342.9 156.1,336.3 157.5,333.3 158.1,331.3 158.4,327.3 158.4,265.3 241,265.3 241,348 179.1,348 175.1,348.3 173.1,348.8 170.1,350.2 163.5,354.3 162.5,355.3 161.6,357.3 161.2,359.3 161.1,361.2 161.3,363.2 161.9,365.2 163.3,367.2 168.4,371.2 171.1,373 173.1,374 176.1,374.7 193.1,374.9 241,374.5 241,456.2 159.2,456.2 159.6,404.2 159.6,393.2 159.3,390.2 158.8,388.2 157.2,385.2 154.1,380.9 152.1,378.5 150.1,377.1 148.1,376.5 146.1,376.3 144.1,376.3 142.1,376.7 140.1,377.7 139.1,378.6 135.1,385.2 133.7,388.2 133.1,390.2 132.8,393.2 132.7,456.2 50.2,456.2 50.2,373.7 113.1,373.5 116.1,373.2 118.1,372.7 121.1,371.3 127.7,367.2 128.7,366.2 129.6,364.2 130,362.2 130.1,360.3 129.9,358.3 129.3,356.3 127.9,354.3 122.8,350.3 120.1,348.5 118.1,347.6 115.1,346.9 93.2,346.8 50.2,347.4Z"/>
<path fill="#00ff58" d="M50.2,265.3 131.7,265.3 131.4,318.3 131.4,328.3 131.7,331.3 132.7,334.3 133.8,336.3 137.1,341 139.1,343.4 140.1,344.2 141.1,344.7 143.1,345.3 145.1,345.5 147.1,345.4 149.1,345.1 151,344.3 152.1,343.4 153.1,341.9 156.3,336.3 157.6,333.3 158.2,331.3 158.5,327.3 158.5,265.3 241,265.3 241,347.9 179.1,347.9 175.1,348.1 173.1,348.7 170.1,350.1 164.4,353.3 163,354.3 162.1,355.3 161.3,357.3 160.9,359.3 160.9,361.2 161,363.2 161.6,365.2 162.1,366.2 162.9,367.2 165.4,369.2 170.1,372.6 172.1,373.7 175.1,374.7 178.1,375 190.1,375 241,374.7 241,456.2 159.3,456.2 159.8,404.2 159.8,393.2 159.5,390.2 158.5,387.2 157.4,385.2 154.1,380.5 152.1,378.1 151.1,377.3 150.1,376.8 148.1,376.2 146.1,376 144.1,376.1 142.1,376.4 140.2,377.2 139.1,378.1 138.1,379.6 134.9,385.2 133.6,388.2 133,390.2 132.7,393.2 132.6,456.2 50.2,456.2 50.2,373.8 113.1,373.6 116.1,373.4 118.1,372.8 121.1,371.4 126.8,368.2 128.2,367.2 129.1,366.2 129.9,364.2 130.3,362.2 130.3,360.3 130.2,358.3 129.6,356.3 129.1,355.3 128.3,354.3 125.8,352.3 121.1,348.9 119.1,347.8 116.1,346.9 113.1,346.6 97.2,346.6 50.2,347.3Z"/>
<path fill="#00ff50" d="M50.2,265.3 131.5,265.3 131.2,317.3 131.3,328.3 131.6,331.3 132.1,333.3 133.1,335.4 138.5,343.3 139.6,344.3 141.1,345.1 143.1,345.6 145.1,345.7 147.1,345.7 149.5,345.3 151.1,344.6 152.1,343.8 153.1,342.5 156.9,335.3 157.7,333.3 158.3,331.3 158.6,327.3 158.6,265.3 241,265.3 241,347.8 179.1,347.8 175.1,348 173.1,348.6 171.1,349.4 163.9,353.3 162.5,354.3 161.8,355.3 161.1,356.9 160.7,359.3 160.6,361.2 160.8,363.2 161.3,365.2 162.1,366.8 163.1,367.8 170.9,373.2 173.1,374.3 175.1,374.8 178.1,375.1 190.1,375.2 241,374.8 241,456.2 159.5,456.2 159.9,405.2 159.9,393.2 159.6,390.2 159.1,388.2 158.1,386.1 152.7,378.2 151.6,377.2 150.1,376.4 148.1,375.9 146.1,375.8 144.1,375.8 141.7,376.2 140.1,376.9 139.1,377.7 138.1,379 134.3,386.2 133.5,388.2 132.9,390.2 132.6,393.2 132.5,456.2 50.2,456.2 50.2,373.9 113.1,373.7 116.1,373.5 118.1,372.9 120.1,372.1 127.3,368.2 128.7,367.2 129.4,366.2 130.1,364.6 130.5,362.2 130.6,360.3 130.4,358.3 129.9,356.3 129.1,354.7 128.1,353.7 120.2,348.3 118.1,347.3 116.1,346.7 113.1,346.4 97.2,346.4 50.2,347.2Z"/>
<path fill="#00ff47" d="M50.2,265.3 131.4,265.3 131.1,317.3 131.1,328.3 131.4,331.3 132.4,334.3 133.5,336.3 138.1,343.3 139,344.3 141.1,345.4 143.1,345.8 145.1,346 149.1,345.6 151.1,345 152.2,344.3 153.1,343.1 157,335.3 157.9,333.3 158.4,331.3 158.7,327.3 158.7,265.3 241,265.3 241,347.6 179.1,347.6 175.1,347.9 173.1,348.5 171.1,349.3 163.2,353.3 162.1,354.2 161.4,355.3 160.7,357.3 160.4,361.2 160.5,363.2 161,365.2 162.1,367.3 163.1,368.3 170.6,373.2 173.1,374.4 175.1,375 178.1,375.3 190.1,375.3 241,374.9 241,456.2 159.6,456.2 160.1,405.2 160.1,393.2 159.8,390.2 158.8,387.2 157.8,385.2 153.1,378.2 152.2,377.2 150.1,376.1 148.1,375.7 146.1,375.5 142.1,375.9 140.1,376.5 139,377.2 138.1,378.4 134.2,386.2 133.3,388.2 132.8,390.2 132.5,393.2 132.4,456.2 50.2,456.2 50.2,374 113.1,373.8 116.1,373.6 118.1,373 120.1,372.2 128,368.2 129.1,367.3 129.8,366.2 130.5,364.2 130.8,360.3 130.7,358.3 130.2,356.3 129.1,354.2 128.1,353.2 121.1,348.6 119.1,347.5 116.1,346.6 113.1,346.3 96.2,346.3 50.2,347Z"/>
<path fill="#00ff3f" d="M50.2,265.3 131.3,265.3 130.9,317.3 131,328.3 131.3,331.3 131.8,333.3 132.7,335.3 137.7,343.3 138.5,344.3 140,345.3 141.1,345.6 143.1,346.1 145.1,346.2 148.1,346.1 150.1,345.6 151.2,345.3 152.7,344.3 153.4,343.3 154.6,340.3 157.2,335.3 158,333.3 158.5,331.3 158.8,327.3 158.8,265.3 241,265.3 241,347.5 179.1,347.5 175.1,347.8 173.1,348.4 171.1,349.2 166.1,351.7 163.1,353 162.1,353.7 161.1,355.1 160.7,356.3 160.3,358.3 160.1,361.2 160.3,363.2 160.7,365.2 161.1,366.4 162.1,367.8 163.1,368.6 171.1,373.7 173.1,374.6 175.1,375.1 178.1,375.4 190.1,375.5 241,375.1 241,456.2 159.7,456.2 160.2,405.2 160.2,393.2 159.9,390.2 159.4,388.2 158.5,386.2 153.1,377.7 152.1,376.8 151.1,376.2 149.1,375.6 146.1,375.3 143.1,375.4 141.1,375.9 140,376.2 138.5,377.2 137.8,378.2 136.6,381.2 134,386.2 133.2,388.2 132.7,390.2 132.4,393.2 132.3,456.2 50.2,456.2 50.2,374.1 113.1,374 116.1,373.7 118.1,373.1 120.1,372.3 125.1,369.8 128.1,368.5 129.1,367.8 130.1,366.4 130.5,365.2 130.9,363.2 131.1,360.3 130.8,357.3 130.2,355.3 129.6,354.3 128.7,353.3 120.1,347.9 118.1,347 116.1,346.4 113.1,346.2 97.2,346.1 50.2,346.9Z"/>
<path fill="#00ff36" d="M50.2,265.3 131.1,265.3 130.8,317.3 130.8,328.3 131.1,331.3 131.7,333.3 132.5,335.3 138,344.3 139.3,345.3 141.1,345.9 145.1,346.5 148.1,346.3 150.1,345.9 151.9,345.3 153.1,344.3 153.7,343.3 154.8,340.3 157.7,334.3 158.6,331.3 158.9,327.3 158.9,265.3 241,265.3 241,347.4 179.1,347.4 175.1,347.7 172.1,348.6 166.1,351.5 163.1,352.6 162,353.3 161.1,354.4 160.4,356.3 160,358.3 159.9,361.2 160.4,365.2 161.1,367.1 162.1,368.3 171.1,373.8 173.1,374.7 175.1,375.3 178.1,375.6 191.1,375.6 241,375.2 241,456.2 159.9,456.2 160.4,405.2 160.4,393.2 160.1,390.2 159.6,388.2 158.7,386.2 153.2,377.2 151.9,376.2 150.1,375.6 146.1,375 143.1,375.2 141.1,375.6 139.3,376.2 138.1,377.2 137.5,378.2 136.4,381.2 133.5,387.2 132.6,390.2 132.3,393.2 132.2,456.2 50.2,456.2 50.2,374.2 113.1,374.1 116.1,373.8 119.1,372.9 125.1,370 128.1,368.9 129.2,368.2 130.1,367.1 130.8,365.2 131.2,363.2 131.3,360.3 130.8,356.3 130.1,354.4 129.1,353.2 120.1,347.7 118.1,346.8 116.1,346.3 113.1,346 96.2,346 50.2,346.8Z"/>
<path fill="#00ff2e" d="M50.2,265.3 131,265.3 130.6,316.3 130.7,328.3 131,331.3 131.5,333.3 132.4,335.3 135.4,340.3 137.6,344.3 138.6,345.3 140.1,345.9 142.1,346.4 145.1,346.7 148.1,346.6 150.1,346.2 152.6,345.3 153.6,344.3 154.1,343.3 155,340.3 157.8,334.3 158.7,331.3 159,327.3 159,265.3 241,265.3 241,347.3 179.1,347.3 175.1,347.6 172.1,348.5 166.1,351.3 163.1,352.2 162.1,352.7 161.1,353.8 160.1,356.3 159.8,358.3 159.7,361.2 159.9,364.2 160.4,366.2 161.1,367.7 162.1,368.8 166.1,370.9 171.1,374 173.1,374.9 175.1,375.4 178.1,375.7 191.1,375.8 241,375.3 241,456.2 160,456.2 160.5,406.2 160.5,393.2 160.2,390.2 159.7,388.2 158.8,386.2 155.8,381.2 153.6,377.2 152.6,376.2 151.1,375.6 149.1,375.1 146.1,374.8 143.1,374.9 141.1,375.3 138.6,376.2 137.6,377.2 137.1,378.2 136.2,381.2 133.4,387.2 132.5,390.2 132.2,393.2 132.1,456.2 50.2,456.2 50.2,374.4 113.1,374.2 116.1,373.9 119.1,373 125.1,370.2 128.1,369.3 129.1,368.8 130.1,367.7 131.1,365.2 131.4,363.2 131.5,360.3 131.3,357.3 130.8,355.3 130.1,353.8 129.1,352.7 125.1,350.6 120.1,347.5 118.1,346.6 116.1,346.1 113.1,345.8 96.2,345.8 50.2,346.7Z"/>
<path fill="#00ff25" d="M50.2,265.3 130.8,265.3 130.5,316.3 130.5,328.3 130.8,331.3 131.3,333.3 132.2,335.3 135.2,340.3 137.1,344.3 138,345.3 139.1,345.9 141.1,346.5 145.1,346.9 148.1,346.8 150.1,346.5 152.1,345.9 153.2,345.3 154.1,344.2 155.2,340.3 158,334.3 158.9,331.3 159.1,327.3 159.1,265.3 241,265.3 241,347.2 179.1,347.2 175.1,347.5 172.1,348.4 166.1,351.1 162.1,352.3 161.1,353.2 160.5,354.3 159.9,356.3 159.6,358.3 159.4,361.2 159.9,365.2 160.5,367.2 161.1,368.4 162.1,369.3 166.1,371.2 171.1,374.2 173.1,375.1 175.1,375.6 178.1,375.9 191.1,376 241,375.5 241,456.2 160.1,456.2 160.7,406.2 160.7,393.2 160.4,390.2 159.9,388.2 159,386.2 156,381.2 154.1,377.2 153.2,376.2 152.1,375.6 150.1,375 146.1,374.6 143.1,374.7 141.1,375 139.1,375.6 138,376.2 137.1,377.3 136,381.2 133.2,387.2 132.3,390.2 132.1,393.2 132,456.2 50.2,456.2 50.2,374.5 113.1,374.3 116.1,374 119.1,373.1 125.1,370.4 129.1,369.2 130.1,368.3 130.7,367.2 131.3,365.2 131.6,363.2 131.8,360.3 131.3,356.3 130.7,354.3 130.1,353.1 129.1,352.2 125.1,350.4 120.1,347.4 118.1,346.5 116.1,346 113.1,345.7 96.2,345.7 50.2,346.6Z"/>
<path fill="#00ff1d" d="M50.2,265.3 130.7,265.3 130.3,316.3 130.4,328.3 130.6,331.3 131.2,333.3 132,335.3 135,340.3 136.7,344.3 137.4,345.3 138.1,345.8 140.1,346.5 142.1,346.9 145.1,347.1 148.1,347 150.1,346.7 152.1,346.2 153.8,345.3 154.5,344.3 155.4,340.3 158.1,334.3 159,331.3 159.2,327.3 159.2,265.3 241,265.3 241,347.1 179.1,347.1 175.1,347.4 172.1,348.3 166.1,350.9 162.1,351.9 161.1,352.6 160.1,354.3 159.6,356.3 159.3,358.3 159.2,361.2 159.4,364.2 159.8,366.2 160.6,368.2 161.1,368.9 162.1,369.7 166.1,371.4 171.1,374.4 173.1,375.2 175.1,375.8 178.1,376 191.1,376.1 241,375.6 241,456.2 160.3,456.2 160.8,406.2 160.8,393.2 160.6,390.2 160,388.2 159.2,386.2 156.2,381.2 154.5,377.2 153.8,376.2 153.1,375.7 151.1,375 149.1,374.6 146.1,374.4 143.1,374.5 141.1,374.8 139.1,375.3 137.4,376.2 136.7,377.2 135.8,381.2 133.1,387.2 132.2,390.2 132,393.2 131.8,456.2 50.2,456.2 50.2,374.6 113.1,374.4 116.1,374.1 119.1,373.2 125.1,370.6 129.1,369.6 130.1,368.9 131.1,367.2 131.6,365.2 131.9,363.2 132,360.3 131.8,357.3 131.4,355.3 130.6,353.3 129.8,352.3 129.1,351.8 125.1,350.1 119.1,346.7 116.1,345.8 113.1,345.5 96.2,345.5 50.2,346.4Z"/>
<path fill="#00ff14" d="M50.2,265.3 130.5,265.3 130.2,316.3 130.2,328.3 130.5,331.3 131.4,334.3 134.8,340.3 136.2,344.3 136.8,345.3 138.1,346.2 140.1,346.8 143.1,347.3 146.1,347.4 149.1,347.2 151.1,346.8 153.1,346.2 154.4,345.3 154.9,344.3 155.7,340.3 158.2,334.3 159.1,331.3 159.4,327.3 159.4,265.3 241,265.3 241,347 179.1,347 175.1,347.3 172.1,348.1 166.1,350.7 162.1,351.4 161.1,352 160.2,353.3 159.5,355.3 159.1,358.3 159,361.2 159.2,364.2 159.5,366.2 160.2,368.2 161.1,369.5 162.1,370.1 166.1,371.6 172.1,375 175.1,375.9 178.1,376.2 191.1,376.3 241,375.8 241,456.2 160.4,456.2 161,407.2 161,393.2 160.7,390.2 159.8,387.2 156.5,381.2 155,377.2 154.4,376.2 153.1,375.3 151.1,374.7 149.1,374.3 146.1,374.1 143.1,374.2 140.1,374.7 138.1,375.3 136.8,376.2 136.3,377.2 135.5,381.2 133,387.2 132.1,390.2 131.9,393.2 131.7,456.2 50.2,456.2 50.2,374.7 113.1,374.5 116.1,374.2 119.1,373.4 125.1,370.8 129.1,370.1 130.1,369.5 131,368.2 131.7,366.2 132,364.2 132.2,361.2 132.1,358.3 131.7,355.3 131,353.3 130.1,352 129.1,351.4 125.1,349.9 119.1,346.5 116.1,345.6 113.1,345.4 96.2,345.4 50.2,346.3Z"/>
<path fill="#00ff0c" d="M50.2,265.3 130.4,265.3 130,315.3 130.1,328.3 130.3,331.3 130.8,333.3 131.7,335.3 134.5,340.3 136.2,345.3 137.4,346.3 139.1,346.9 142.1,347.4 145.1,347.6 149.1,347.4 152.1,346.9 153.8,346.3 155,345.3 155.3,344.3 155.9,340.3 158.3,334.3 159.2,331.3 159.5,327.3 159.5,265.3 241,265.3 241,346.9 179.1,346.9 175.1,347.1 172.1,348 166.1,350.5 162.1,351 161.1,351.4 160.1,352.5 159.5,354.3 158.9,357.3 158.8,360.3 158.9,364.2 159.5,367.2 160.1,369 161.1,370.1 166.1,371.8 171.1,374.7 173.1,375.6 175.1,376.1 178.1,376.4 191.1,376.5 241,375.9 241,456.2 160.5,456.2 161.1,406.2 161.1,393.2 160.9,390.2 160,387.2 156.3,380.2 155,376.2 153.8,375.2 152.1,374.6 149.1,374.1 146.1,373.9 142.1,374.1 139.1,374.6 137.4,375.2 136.2,376.2 135.9,377.2 135.3,381.2 132.9,387.2 132,390.2 131.7,393.2 131.6,456.2 50.2,456.2 50.2,374.9 113.1,374.6 116.1,374.4 119.1,373.5 125.1,371 129.1,370.5 130.1,370.1 131.1,369 131.7,367.2 132.3,364.2 132.4,361.2 132.3,357.3 131.7,354.3 131.1,352.5 130.1,351.4 125.1,349.7 120.1,346.8 118.1,346 116.1,345.5 113.1,345.2 96.2,345.2 50.2,346.2Z"/>
<path fill="#00ff03" d="M50.2,265.3 130.3,265.3 129.8,315.3 129.9,328.3 130.2,331.3 131.1,334.3 134.3,340.3 135,342.3 135.6,345.3 136.1,346 137.1,346.6 139.3,347.3 142.1,347.6 145.1,347.8 149.1,347.6 151.9,347.3 154.1,346.6 155.1,345.9 155.5,345.3 155.7,344.3 156.1,340.3 158.4,334.3 159.3,331.3 159.6,327.3 159.6,265.3 241,265.3 241,346.8 179.1,346.8 175.1,347 172.1,347.9 166.1,350.3 162.1,350.6 161.1,350.8 160.4,351.3 159.7,352.3 159.1,354.5 158.7,357.3 158.6,360.3 158.7,364.2 159.1,367 159.7,369.2 160.4,370.2 161.1,370.7 164.1,371.4 166.1,372.1 172.1,375.3 175.1,376.2 178.1,376.5 191.1,376.6 241,376.1 241,456.2 160.7,456.2 161.3,406.2 161.3,393.2 161,390.2 160.2,387.2 156.9,381.2 156.2,379.2 155.6,376.2 155.1,375.5 154.1,374.9 151.9,374.2 149.1,373.9 146.1,373.7 142.1,373.9 139.3,374.2 137.1,374.9 136.1,375.6 135.7,376.2 135.5,377.2 135.1,381.2 132.8,387.2 131.9,390.2 131.6,393.2 131.5,456.2 50.2,456.2 50.2,375 113.1,374.7 116.1,374.5 119.1,373.6 125.1,371.2 129.1,370.9 130.1,370.7 130.8,370.2 131.5,369.2 132.1,367 132.5,364.2 132.6,361.2 132.5,357.3 132.1,354.5 131.5,352.3 130.8,351.3 130.1,350.8 127.1,350.1 125.1,349.4 119.1,346.2 116.1,345.3 113.1,345.1 96.2,345.1 50.2,346.1Z"/>
<path fill="#05ff00" d="M50.2,265.3 130.1,265.3 129.7,315.3 129.7,328.3 130,331.3 130.9,334.3 133.6,339.3 134.4,341.3 135,345.3 135.4,346.3 137.1,347.1 139.1,347.5 145.1,348 149.1,347.9 152.1,347.5 154.1,347.1 155.8,346.3 156.1,345.3 156.1,342.3 156.3,340.3 158.6,334.3 159.4,331.3 159.7,327.3 159.7,265.3 241,265.3 241,346.7 179.1,346.6 175.1,346.9 172.1,347.8 166.1,350.1 164.1,350.3 161.1,350.2 160.1,350.6 159.2,352.3 158.8,354.3 158.3,360.3 158.5,364.2 158.8,367.2 159.2,369.2 160.1,370.9 161.1,371.3 165.1,371.9 167.1,372.8 172.1,375.5 175.1,376.4 178.1,376.7 192.1,376.8 241,376.2 241,456.2 160.8,456.2 161.5,407.2 161.5,393.2 161.2,390.2 160.3,387.2 157.6,382.2 156.8,380.2 156.2,376.2 155.8,375.2 154.1,374.4 152.1,374 146.1,373.5 142.1,373.6 139.1,374 137.1,374.4 135.4,375.2 135.1,376.2 135.1,379.2 134.9,381.2 132.6,387.2 131.8,390.2 131.5,393.2 131.4,456.2 50.2,456.2 50.2,375.1 113.1,374.8 116.1,374.6 119.1,373.7 125.1,371.4 127.1,371.2 130.1,371.3 131.1,370.9 132,369.2 132.4,367.2 132.9,361.2 132.7,357.3 132.4,354.3 132,352.3 131.1,350.6 130.1,350.2 126.1,349.6 124.1,348.7 119.1,346 116.1,345.2 113.1,344.9 96.2,344.9 50.2,345.9Z"/>
<path fill="#0eff00" d="M50.2,265.3 130,265.3 129.5,315.3 129.6,328.3 129.8,331.3 130.7,334.3 133.4,339.3 134.2,341.3 134.5,343.3 134.2,346.3 135.1,347.2 136.1,347.4 140.1,348 145.1,348.2 150.1,348.1 154.1,347.6 156.1,347.2 157,346.3 156.3,342.3 156.5,340.3 159,333.3 159.6,331.3 159.8,329.3 159.8,265.3 241,265.3 241,346.5 179.1,346.5 175.1,346.8 172.1,347.6 166.1,349.9 164.1,350 160.1,349.4 159.2,350.3 158.9,351.3 158.4,355.3 158.1,360.3 158.3,365.2 158.7,369.2 159.2,371.2 160.1,372.1 163.1,371.8 165.1,372.2 167.1,373 172.1,375.7 175.1,376.6 178.1,376.9 192.1,377 241,376.4 241,456.2 160.9,456.2 161.6,407.2 161.6,393.2 161.4,390.2 160.5,387.2 157.8,382.2 157,380.2 156.7,378.2 157,375.2 156.1,374.3 155.1,374.1 151.1,373.5 146.1,373.3 141.1,373.4 137.1,373.9 135.1,374.3 134.2,375.2 134.9,379.2 134.7,381.2 132.2,388.2 131.6,390.2 131.4,392.2 131.2,456.2 50.2,456.2 50.2,375.2 113.1,375 116.1,374.7 119.1,373.9 125.1,371.6 127.1,371.5 131.1,372.1 132,371.2 132.3,370.2 132.8,366.2 133.1,361.2 132.9,356.3 132.5,352.3 132,350.3 131.1,349.4 128.1,349.7 126.1,349.3 124.1,348.5 119.1,345.9 116.1,345 113.1,344.7 96.2,344.7 50.2,345.8Z"/>
<path fill="#16ff00" d="M50.2,265.3 129.8,265.3 129.3,311.3 129.4,329.3 129.7,331.3 130.2,333.3 131,335.3 133.6,340.3 133.9,341.3 134.2,343.3 134.1,344.3 133.7,345.3 133.1,346 131.6,347.3 130.9,348.3 130.1,348.8 129.1,349.2 128.1,349.3 126.1,349.1 124.1,348.3 120.1,346.1 118.1,345.3 116.1,344.8 113.1,344.6 90.2,344.7 50.2,345.7ZM159.9,265.3 241,265.3 241,346.4 177.1,346.5 174.1,346.9 167.1,349.4 165.1,349.8 163.1,349.6 161.8,349.3 160.3,348.3 159.6,347.3 158.1,346 157.1,344.6 156.7,343.3 156.5,341.3 156.9,339.3 159.5,332.3 159.9,329.3ZM134.2,348.3 136.1,348 142.1,348.4 147.1,348.4 156.1,348 157.1,348.3 158.1,349.3 158.3,351.3 158,357.3 157.9,362.2 158.3,371.2 158.1,372.2 157.1,373.2 155.1,373.5 149.1,373.1 144.1,373.1 135.1,373.5 134.1,373.2 133.1,372.2 132.9,370.2 133.2,364.2 133.3,359.3 132.9,350.3 133.1,349.3ZM123.6,372.2 125.1,371.8 127.1,371.7 129.1,372.1 130.1,372.6 133.7,376.2 134.2,377.2 134.6,379.2 134.7,380.2 134.3,382.2 132,388.2 131.5,390.2 131.3,392.2 131.1,456.2 50.2,456.2 50.2,375.4 114.1,375 116.1,374.8 118.1,374.3ZM162.4,372.2 165.1,372.4 167.1,373.2 172.1,375.9 174.1,376.5 177.1,377 195,377.1 241,376.5 241,456.2 161.1,456.2 161.8,410.2 161.8,392.2 161.5,390.2 161,388.2 160.2,386.2 157.6,381.2 157.3,380.2 157,378.2 157.1,377.2 157.5,376.2 158.1,375.5 159.1,374.8 160.3,373.2 161.1,372.7Z"/>
<path fill="#1fff00" d="M50.2,265.3 129.7,265.3 129.2,311.3 129.3,329.3 129.5,331.3 130,333.3 130.8,335.3 133.4,340.3 133.8,342.3 133.6,344.3 133.1,345.1 131.1,346.6 129.9,348.3 129.1,348.7 128.1,349 126.1,348.8 124.1,348.1 119.1,345.5 117.1,344.9 114.1,344.4 91.2,344.5 50.2,345.6ZM160,265.3 241,265.3 241,346.3 177.1,346.3 174.1,346.8 167.1,349.3 165.1,349.6 163.1,349.3 162.1,348.9 161.2,348.3 159.7,346.3 158.1,345.2 157.4,344.3 157,343.3 156.8,341.3 156.9,340.3 157.4,338.3 159.6,332.3 159.9,330.3 160,328.3ZM134.2,349.3 135.1,348.8 137.1,348.5 153.1,348.5 156.1,348.8 157.1,349.3 157.6,350.3 157.8,352.3 157.8,368.2 157.6,371.2 157,372.2 156.1,372.7 154.1,373 138.1,373 135.1,372.7 134.1,372.2 133.6,371.2 133.4,369.2 133.4,353.3 133.6,350.3ZM124.1,372.2 126.1,371.9 128.1,372.2 129.1,372.6 130,373.2 131.5,375.2 133.1,376.3 133.8,377.2 134.3,379.2 134.4,380.2 134.1,382.2 131.9,388.2 131.4,390.2 131.2,392.2 131,456.2 50.2,456.2 50.2,375.5 77.2,375.2 114.1,375.2 116.1,374.9 118.1,374.4ZM161.3,373.2 162.1,372.8 163.1,372.5 165.1,372.7 167.1,373.4 172.1,376.1 174.1,376.7 177.1,377.2 194,377.3 241,376.6 241,456.2 161.2,456.2 161.9,410.2 161.9,392.2 161.7,390.2 161.2,388.2 160.4,386.2 157.8,381.2 157.5,380.2 157.4,378.2 157.6,377.2 158.1,376.4 159.7,375.2Z"/>
<path fill="#27ff00" d="M50.2,265.3 129.5,265.3 129,312.3 129.1,329.3 129.3,331.3 129.8,333.3 130.6,335.3 133.2,340.3 133.5,342.3 133.5,343.3 133.1,344.3 130.7,346.3 129.1,348.3 128.1,348.6 126.1,348.6 124.1,347.9 120.1,345.8 118.1,345 116.1,344.5 114.1,344.3 91.2,344.3 50.2,345.4ZM160.2,265.3 241,265.3 241,346.2 177.1,346.2 174.1,346.6 167.1,349.1 165.1,349.3 163.1,349 162.1,348.5 160.1,345.9 158.1,344.5 157.4,343.3 157.1,342.3 157.1,340.3 157.6,338.3 159.7,332.3 160,330.3 160.1,328.3ZM135.5,349.3 137.1,348.9 139.1,348.8 153.1,348.8 155.7,349.3 156.1,349.4 156.9,350.3 157.4,352.3 157.5,354.3 157.5,368.2 157.1,370.9 156.9,371.2 156.1,372.1 154.1,372.6 152.1,372.7 138.1,372.7 135.5,372.2 135.1,372.1 134.3,371.2 133.8,369.2 133.7,367.2 133.7,353.3 133.9,351.3 134.3,350.3 135.1,349.4ZM125,372.2 127.1,372.3 128.1,372.5 129.4,373.2 130.8,375.2 133.3,377.2 133.8,378.2 134.2,380.2 133.9,382.2 131.5,389.2 131.1,392.2 130.9,456.2 50.2,456.2 50.2,375.6 78.2,375.3 114.1,375.3 117.1,374.9 123.1,372.7ZM162.1,373.2 163.1,372.9 165.1,372.9 167.1,373.6 171.1,375.8 173.1,376.6 175.1,377.1 177.1,377.3 194,377.5 241,376.8 241,456.2 161.4,456.2 162.1,410.2 162.1,392.2 161.9,390.2 161.4,388.2 160.6,386.2 158.1,381.2 157.7,379.2 157.7,378.2 158.1,377.2 160.1,375.6Z"/>
<path fill="#30ff00" d="M50.2,265.3 129.4,265.3 128.8,312.3 128.9,329.3 129.2,331.3 129.6,333.3 130.4,335.3 132.9,340.3 133.2,342.3 133.1,343.3 132.6,344.3 131.1,345.3 130.1,346.3 129.1,347.7 128.1,348.3 126.1,348.3 124.1,347.7 120.1,345.6 118.1,344.8 116.1,344.3 113.1,344.1 91.2,344.1 50.2,345.3ZM160.3,265.3 241,265.3 241,346.1 177.1,346.1 174.1,346.5 167.1,348.9 165.1,349.1 164.1,349 162.4,348.3 160.1,345.4 158.4,344.3 157.7,343.3 157.4,342.3 157.3,340.3 157.7,338.3 159.8,332.3 160.2,330.3 160.3,328.3ZM137.5,349.3 142.1,349 151.1,349 155.1,349.5 156.3,350.3 156.9,351.3 157.3,354.3 157.4,363.2 157,369.2 156.9,370.2 156.1,371.5 155.1,372 152.1,372.4 143.1,372.5 137.1,372.2 136.1,372 134.9,371.2 134.3,370.2 133.9,366.2 133.8,358.3 134,353.3 134.3,351.3 134.9,350.3 136.1,349.5ZM122.1,373.2 124.1,372.6 126.1,372.4 127.1,372.5 128.8,373.2 129.7,374.2 130.3,375.2 133.1,377.6 133.8,379.2 134,380.2 133.8,382.2 131.4,389.2 131,392.2 130.7,456.2 50.2,456.2 50.2,375.8 78.2,375.5 114.1,375.4 117.1,375ZM163.1,373.2 164.1,373.1 166.1,373.5 172.1,376.4 174.1,377.1 177.1,377.5 194,377.7 241,376.9 241,456.2 161.5,456.2 162.3,410.2 162.3,392.2 162.1,390.2 161.6,388.2 160.8,386.2 158.3,381.2 158,379.2 158.1,378.2 158.6,377.2 160.1,376.2 161.1,375.2 162.1,373.8Z"/>
<path fill="#38ff00" d="M50.2,265.3 129.2,265.3 128.6,311.3 128.7,329.3 129,331.3 129.5,333.3 130.3,335.3 132.3,339.3 132.9,341.3 132.9,342.3 132.7,343.3 132.1,344.2 130.1,345.6 129,347.3 128.1,347.9 127.1,348.1 126.1,348 124.1,347.4 120.1,345.4 118.1,344.6 116.1,344.1 113.1,343.9 91.2,344 50.2,345.2ZM160.4,265.3 241,265.3 241,345.9 177.1,346 175.1,346.2 173.1,346.7 167.1,348.7 165.1,348.9 163,348.3 161.9,347.3 161.1,345.9 160.5,345.3 158.9,344.3 158.1,343.4 157.6,342.3 157.5,340.3 157.9,338.3 159.9,332.3 160.4,329.3ZM140.5,349.3 147.1,349.1 152.1,349.3 155.1,349.9 156.1,350.6 156.5,351.3 156.8,352.3 157,354.3 157.2,363.2 156.8,369.2 156.5,370.2 155.7,371.2 155.1,371.6 154.1,371.9 152.1,372.2 143.1,372.4 137.1,371.9 136.1,371.6 135.1,370.9 134.7,370.2 134.4,369.2 134,364.2 134,357.3 134.4,352.3 134.7,351.3 135.1,350.6 136.1,349.9 138.1,349.4ZM122.5,373.2 125.1,372.6 127.1,372.8 128.2,373.2 129.3,374.2 130.1,375.6 130.7,376.2 132.1,377.1 133.1,378.1 133.7,380.2 133.6,382.2 131.5,388.2 131.1,390.2 130.8,392.2 130.6,456.2 50.2,456.2 50.2,375.9 78.2,375.6 114.1,375.5 117.1,375.1ZM162.2,374.2 163.1,373.7 164.1,373.4 165.1,373.5 167.1,374.1 171.1,376.2 173.1,377 175.1,377.5 178.1,377.7 195,377.8 241,377.1 241,456.2 161.6,456.2 162.5,410.2 162.5,392.2 162.2,390.2 161.8,388.2 161,386.2 158.9,382.2 158.3,380.2 158.3,379.2 158.5,378.2 159.1,377.4 160.7,376.2Z"/>
<path fill="#41ff00" d="M50.2,265.3 129.1,265.3 128.5,311.3 128.6,329.3 128.8,331.3 129.3,333.3 130.1,335.3 132.1,339.3 132.6,341.3 132.6,342.3 132.1,343.6 129.9,345.3 128.4,347.3 127.1,347.8 125.1,347.6 118.1,344.4 116.1,344 113.1,343.7 91.2,343.8 50.2,345ZM160.5,265.3 241,265.3 241,345.8 177.1,345.8 174.1,346.3 168.1,348.3 166.1,348.7 164.1,348.4 163.1,348 162.3,347.3 161,345.3 159.1,344 158.4,343.3 157.9,342.3 157.7,340.3 158,338.3 160.1,332.3 160.5,329.3ZM136.1,350.3 138.1,349.7 141.1,349.4 150.1,349.4 154.1,349.9 155.1,350.3 156.1,351.2 156.7,353.3 156.9,356.3 156.9,365.2 156.5,369.2 156.1,370.3 155.1,371.2 153.1,371.8 150.1,372.1 141.1,372.1 137.1,371.6 136.1,371.2 135.1,370.3 134.5,368.2 134.3,365.2 134.3,356.3 134.7,352.3 135.1,351.2ZM123,373.2 125.1,372.8 126.1,372.8 128.1,373.5 128.9,374.2 130.1,376.2 132.1,377.5 132.8,378.2 133.5,380.2 133.4,382.2 131.4,388.2 130.9,390.2 130.7,392.2 130.5,456.2 50.2,456.2 50.2,376 78.2,375.7 114.1,375.7 116.1,375.4 118.1,375ZM162.8,374.2 164.1,373.7 166.1,373.9 173.1,377.2 175.1,377.7 178.1,377.9 195,378 241,377.2 241,456.2 161.8,456.2 162.6,410.2 162.6,392.2 162.4,390.2 161.9,388.2 161.2,386.2 159.1,382.2 158.6,380.2 158.6,379.2 159.1,377.9 161.1,376.5Z"/>
<path fill="#49ff00" d="M50.2,265.3 128.9,265.3 128.3,311.3 128.4,329.3 128.6,331.3 129.1,333.3 129.9,335.3 131.9,339.3 132.4,341.3 132.3,342.3 131.9,343.3 129.5,345.3 128.1,347 127.1,347.5 125.1,347.4 118.1,344.3 116.1,343.8 113.1,343.5 91.2,343.6 50.2,344.9ZM160.6,265.3 241,265.3 241,345.7 177.1,345.7 174.1,346.1 168.1,348.1 166.1,348.5 164.4,348.3 163.1,347.6 161.1,344.9 159.1,343.6 158.2,342.3 157.9,340.3 158.2,338.3 160.2,332.3 160.6,329.3ZM136.8,350.3 138.1,349.9 141.1,349.6 149.1,349.5 152.1,349.7 154.1,350.1 155.1,350.5 155.8,351.3 156.4,353.3 156.7,355.3 156.9,359.3 156.8,364.2 156.6,367.2 156.2,369.2 155.8,370.2 155.1,371 153.1,371.6 151.1,371.9 147.1,372 142.1,372 139.1,371.8 137.1,371.4 136.1,371 135.4,370.2 134.8,368.2 134.4,365.2 134.3,361.2 134.4,356.3 134.8,353.3 135.1,351.9 135.4,351.3 136.1,350.5ZM123.7,373.2 125.1,373 126.1,373.1 127.1,373.3 128.1,373.9 129.8,376.2 132.5,378.2 133,379.2 133.3,380.2 133.2,382.2 131,389.2 130.6,392.2 130.3,456.2 50.2,456.2 50.2,376.2 78.2,375.8 114.1,375.8 117.1,375.4ZM163.5,374.2 165.1,374 166.1,374.2 172.1,377 174.1,377.6 177.1,378.1 195,378.2 241,377.4 241,456.2 161.9,456.2 162.8,410.2 162.8,392.2 162.6,390.2 162.1,388.2 161.4,386.2 159.4,382.2 158.8,380.2 158.9,379.2 159.3,378.2 161.1,376.9 162.4,375.2Z"/>
<path fill="#52ff00" d="M50.2,265.3 128.7,265.3 128.1,312.3 128.2,329.3 128.4,331.3 128.9,333.3 129.7,335.3 131.6,339.3 132.1,341.3 132,342.3 131.4,343.3 130,344.3 129.1,345.1 128.1,346.6 127.1,347.1 126.1,347.3 125.1,347.1 118.1,344.1 116.1,343.6 113.1,343.3 91.2,343.5 50.2,344.8ZM160.8,265.3 241,265.3 241,345.6 177.1,345.6 174.1,346 168.1,348 166.1,348.3 164.1,347.9 163.1,347.3 161.8,345.3 161.1,344.6 159.1,343.3 158.5,342.3 158.1,341.3 158.2,339.3 160.3,332.3 160.7,330.3 160.8,328.3ZM137.6,350.3 142.1,349.7 149.1,349.7 152.1,350 154.1,350.4 155.1,350.8 155.5,351.3 156,352.3 156.5,355.3 156.7,362.2 156.6,365.2 156.2,368.2 155.5,370.2 155.1,370.7 154.1,371.1 151.1,371.7 144.1,371.9 141.1,371.8 138.1,371.4 136.1,370.7 135.7,370.2 135,368.2 134.6,365.2 134.4,360.3 134.7,355.3 135.2,352.3 135.7,351.3 136.1,350.8ZM124.8,373.2 126.1,373.3 127.1,373.6 128.1,374.3 129.4,376.2 130.1,376.9 132.1,378.3 132.7,379.2 133.1,381.2 132.8,383.2 130.9,389.2 130.5,392.2 130.2,456.2 50.2,456.2 50.2,376.3 78.2,376 114.1,375.9 117.1,375.5 123.1,373.5ZM162.8,375.2 164.1,374.4 165.1,374.3 166.1,374.4 173.1,377.5 175.1,378 178.1,378.3 195,378.4 241,377.6 241,456.2 162.1,456.2 163,410.2 163,392.2 162.8,390.2 162.3,388.2 161.6,386.2 159.6,382.2 159.1,380.2 159.2,379.2 159.8,378.2 161.2,377.2 162.1,376.4Z"/>
<path fill="#5aff00" d="M50.2,265.3 128.6,265.3 127.9,312.3 128,329.3 128.7,333.3 129.5,335.3 131.4,339.3 131.8,341.3 131.6,342.3 131.1,343.1 129.1,344.6 127.9,346.3 127.1,346.8 126.1,347 125.1,346.9 118.1,343.9 116.1,343.4 113.1,343.2 101.1,343.1 90.2,343.3 50.2,344.6ZM160.9,265.3 241,265.3 241,345.4 177.1,345.5 174.1,345.9 168.1,347.8 166.1,348.1 165.1,348 163.5,347.3 162.6,346.3 162.1,345.2 161.1,344.3 159.5,343.3 158.7,342.3 158.3,340.3 158.6,338.3 160.5,332.3 160.9,329.3ZM138.6,350.3 143.1,349.8 149.1,349.8 153.1,350.3 154.1,350.6 155.2,351.3 155.8,352.3 156.3,355.3 156.6,361.2 156.2,367.2 155.8,369.2 155.1,370.4 154.1,370.9 151.1,371.5 145.1,371.8 139.1,371.3 137.1,370.9 136,370.2 135.4,369.2 135.2,368.2 134.8,365.2 134.6,360.3 134.9,355.3 135.4,352.3 136,351.3 137.1,350.6ZM121.4,374.2 123.1,373.7 125.1,373.4 127.1,373.9 128.1,374.7 129.1,376.3 130.1,377.2 131.1,377.8 132.1,378.7 132.8,380.2 132.9,381.2 132.6,383.2 130.7,389.2 130.3,392.2 130.1,456.2 50.2,456.2 50.2,376.5 77.2,376.1 114.1,376 117.1,375.6ZM163.3,375.2 164.1,374.7 165.1,374.5 166.1,374.7 173.1,377.7 175.1,378.2 178.1,378.5 195,378.6 241,377.7 241,456.2 162.2,456.2 163.2,409.2 163.2,392.2 162.5,388.2 161.8,386.2 159.8,382.2 159.4,380.2 159.6,379.2 160.1,378.4 161.8,377.2Z"/>
<path fill="#63ff00" d="M50.2,265.3 128.4,265.3 127.7,311.3 127.8,329.3 128.5,333.3 129.3,335.3 131.2,339.3 131.5,341.3 131.1,342.5 128.9,344.3 127.4,346.3 126.1,346.7 125.1,346.6 118.1,343.7 115.1,343.1 113.1,343 92.2,343.1 50.2,344.5ZM161,265.3 241,265.3 241,345.3 177.1,345.3 174.1,345.7 168.1,347.6 166.1,347.9 165.1,347.7 164,347.3 163.1,346.4 162.1,344.8 161.6,344.3 159.9,343.3 159,342.3 158.6,341.3 158.5,340.3 158.7,338.3 160.6,332.3 161,329.3ZM139.7,350.3 144.1,349.9 149.1,350 153.1,350.5 154.1,350.8 155.1,351.5 155.5,352.3 156.2,355.3 156.5,361.2 156,367.2 155.5,369.2 154.9,370.2 154.1,370.7 151.1,371.3 145.1,371.6 139.1,371.2 137.1,370.7 136.1,370 135.7,369.2 135.4,368.2 134.9,364.2 134.8,359.3 135.2,354.3 135.7,352.3 136.3,351.3 137.1,350.8ZM121.8,374.2 124.1,373.7 125.1,373.6 126.1,373.8 127.2,374.2 128.1,375.1 129.1,376.7 129.6,377.2 131.3,378.2 132.1,379.1 132.6,380.2 132.7,381.2 132.5,383.2 130.6,389.2 130.2,392.2 129.9,456.2 50.2,456.2 50.2,376.6 77.2,376.2 114.1,376.2 117.1,375.8ZM163.8,375.2 165.1,374.8 166.1,374.9 167.1,375.2 171.1,377.2 173.1,377.9 175.1,378.4 178.1,378.7 195,378.8 241,377.9 241,456.2 162.4,456.2 163.4,409.2 163.4,392.2 162.7,388.2 162,386.2 160,382.2 159.7,380.2 160.1,379 162.1,377.4Z"/>
<path fill="#6bff00" d="M50.2,265.3 128.3,265.3 127.5,311.3 127.6,329.3 128.3,333.3 130.9,339.3 131.3,341.3 130.9,342.3 128.5,344.3 127.1,346 126.1,346.4 125.1,346.4 123.1,345.7 120.1,344.2 118.1,343.5 116.1,343 113.1,342.8 92.2,342.9 50.2,344.4ZM161.1,265.3 241,265.3 241,345.2 177.1,345.2 174.1,345.6 168.1,347.5 166.1,347.7 165.1,347.5 164.1,347 163.3,346.3 162,344.3 160.1,343.1 159.1,341.8 158.7,340.3 158.9,338.3 160.7,332.3 161.1,329.3ZM141,350.3 146.1,350 151.1,350.4 154.1,351 155.1,351.8 155.6,353.3 156,355.3 156.3,358.3 156.3,362.2 156.1,365.2 155.6,368.2 155.3,369.2 154.5,370.2 153.1,370.8 151.1,371.1 148.1,371.4 144.1,371.4 141.1,371.3 138.1,370.8 137.1,370.5 136.1,369.7 135.4,367.2 134.9,362.2 135,357.3 135.6,353.3 136.1,351.8 137.1,351 139.1,350.5ZM122.4,374.2 125.1,373.8 126.1,374 127.1,374.5 127.9,375.2 129.1,377.1 131.1,378.4 131.9,379.2 132.3,380.2 132.5,381.2 132.3,383.2 130.5,389.2 130.1,392.2 129.8,456.2 50.2,456.2 50.2,376.8 78.2,376.4 114.1,376.3 117.1,375.9ZM164.6,375.2 166.1,375.2 167.1,375.5 171.1,377.4 173.1,378.1 175.1,378.6 178.1,378.9 195,379 241,378 241,456.2 162.5,456.2 163.6,409.2 163.6,392.2 163.4,390.2 162.9,388.2 162.2,386.2 160.3,382.2 160,380.2 160.3,379.2 162.1,377.9 164.1,375.5Z"/>
<path fill="#74ff00" d="M50.2,265.3 128.1,265.3 127.3,311.3 127.4,329.3 127.6,331.3 128.1,333.3 128.8,335.3 130.7,339.3 130.9,340.3 130.9,341.3 130.5,342.3 129.1,343.3 127.1,345.6 126.1,346.1 125.1,346.1 123.1,345.4 120.1,344 118.1,343.3 116.1,342.8 113.1,342.6 92.2,342.7 50.2,344.2ZM161.3,265.3 241,265.3 241,345.1 177.1,345.1 174.1,345.5 168.1,347.3 166.1,347.4 165.1,347.3 164.1,346.7 162.1,344 160.1,342.7 159.1,341.3 158.9,339.3 159.3,337.3 160.9,332.3 161.3,329.3ZM142.9,350.3 148.1,350.2 152.1,350.7 154.1,351.2 155.1,352.3 155.7,354.3 155.9,356.3 156.1,359.3 156.1,363.2 155.5,368.2 155.1,369.3 154.1,370.3 152.1,370.8 150.1,371.1 147.1,371.3 143.1,371.3 138.1,370.6 137.1,370.2 136.1,369.2 135.4,366.2 135,361.2 135.3,356.3 135.5,354.3 136.1,352.3 137.1,351.3 138.1,350.9ZM123,374.2 125.1,374.1 126.1,374.2 127.1,374.8 127.6,375.2 128.9,377.2 131.6,379.2 132.1,380.2 132.3,381.2 132.1,383.2 130.3,389.2 129.9,392.2 129.6,456.2 50.2,456.2 50.2,376.9 78.2,376.5 114.1,376.4 117.1,376ZM163.8,376.2 165.1,375.4 166.1,375.4 168.1,376.1 171.1,377.6 173.1,378.3 175.1,378.8 178.1,379.1 195,379.2 241,378.2 241,456.2 162.7,456.2 163.8,409.2 163.8,392.2 163.6,390.2 163.1,388.2 162.4,386.2 160.5,382.2 160.3,381.2 160.3,380.2 160.7,379.2 162.1,378.2 163.1,377.3Z"/>
<path fill="#7cff00" d="M50.2,265.3 127.9,265.3 127.1,312.3 127.2,329.3 127.9,333.3 128.6,335.3 130.1,338.3 130.7,340.3 130.6,341.3 130.1,342.2 128.1,343.7 127.1,345.2 126.1,345.8 125.1,345.8 123.1,345.2 120.1,343.8 118.1,343.1 116.1,342.6 113.1,342.4 92.2,342.5 50.2,344.1ZM161.4,265.3 241,265.3 241,344.9 177.1,344.9 174.1,345.3 168.1,347.1 166.1,347.2 165.1,347 164.1,346.4 162.1,343.7 160.1,342.4 159.3,341.3 159.1,339.3 159.5,337.3 161,332.3 161.4,328.3ZM137.6,351.3 139.1,350.8 142.1,350.5 148.1,350.4 151.1,350.7 153.1,351.1 154.1,351.5 154.9,352.3 155.5,354.3 155.8,356.3 156,359.3 156,363.2 155.7,366.2 155.3,368.2 154.9,369.2 154.1,370 152.1,370.7 150.1,371 147.1,371.2 143.1,371.1 140.1,370.8 138.1,370.4 137.1,370 136.3,369.2 135.7,367.2 135.3,364.2 135.2,361.2 135.3,357.3 135.7,354.3 136.1,352.7 136.3,352.3 137.1,351.5ZM120.1,375.2 124.1,374.3 126.1,374.5 127.3,375.2 129.1,377.8 131.3,379.2 131.9,380.2 132.1,381.2 132,383.2 130.2,389.2 129.8,392.2 129.5,456.2 50.2,456.2 50.2,377.1 78.2,376.6 114.1,376.6 117.1,376.2ZM164.2,376.2 165.1,375.8 166.1,375.7 168.1,376.3 171.1,377.8 173.1,378.6 176.1,379.2 179.1,379.3 194,379.4 241,378.4 241,456.2 162.8,456.2 163.9,409.2 164,392.2 163.3,388.2 162.6,386.2 161.2,383.2 160.6,381.2 160.6,380.2 161.1,379.4 162.6,378.2Z"/>
<path fill="#84ff00" d="M50.2,265.3 127.8,265.3 126.9,312.3 127,328.3 127.2,331.3 127.7,333.3 128.4,335.3 129.8,338.3 130.4,340.3 130.1,341.5 129.5,342.3 128.1,343.3 127.1,344.6 126.1,345.4 125.1,345.5 124.1,345.3 120.1,343.6 117.1,342.6 114.1,342.2 109.1,342.1 99.1,342.1 85.2,342.5 50.2,343.9ZM161.6,265.3 241,265.3 241,344.8 177.1,344.8 174.1,345.2 169.1,346.7 167.1,347 165.1,346.7 164.3,346.3 162.9,344.3 162.1,343.4 160.3,342.3 159.6,341.3 159.3,339.3 159.6,337.3 161.1,332.3 161.5,330.3 161.6,328.3ZM138.1,351.3 142.1,350.6 148.1,350.5 151.1,350.8 153.1,351.3 154.1,351.7 154.7,352.3 155.1,353.3 155.6,356.3 155.9,362.2 155.3,367.2 154.7,369.2 154.1,369.8 153.1,370.2 150.1,370.8 144.1,371 139.1,370.5 137.1,369.8 136.5,369.2 135.9,367.2 135.5,364.2 135.3,361.2 135.5,357.3 135.9,354.3 136.5,352.3 137.1,351.7ZM120.6,375.2 124.1,374.5 126.1,374.8 127.1,375.4 128.3,377.2 129.1,378.1 130.9,379.2 131.6,380.2 131.9,381.2 131.8,383.2 130.1,389.2 129.7,392.2 129.3,456.2 50.2,456.2 50.2,377.2 78.2,376.8 114.1,376.7 117.1,376.3ZM164.8,376.2 166.1,376 167.1,376.2 173.1,378.8 176.1,379.4 178.1,379.5 194,379.7 218,378.9 241,378.5 241,456.2 163,456.2 164.2,408.2 164.2,393.2 164,390.2 163.6,388.2 162.8,386.2 161.4,383.2 160.8,381.2 161.1,380 161.7,379.2 163.1,378.3 164.1,376.9Z"/>
<path fill="#8dff00" d="M50.2,265.3 127.6,265.3 127.3,287.3 126.7,311.3 126.8,328.3 126.9,330.3 127.4,333.3 129.6,338.3 130.1,340.3 129.9,341.3 127.7,343.3 127,344.3 126.1,345 125.1,345.2 123.1,344.7 119.1,342.9 117.1,342.4 114.1,342 107.1,341.9 98.1,341.9 83.2,342.4 50.2,343.8ZM161.7,265.3 241,265.3 241,344.6 177.1,344.7 174.1,345.1 169.1,346.5 167.1,346.8 166.1,346.8 164.7,346.3 164.1,345.7 163.1,344.1 162.2,343.3 160.6,342.3 159.9,341.3 159.6,340.3 159.5,339.3 159.8,337.3 161.3,332.3 161.7,329.3ZM138.8,351.3 143.1,350.7 148.1,350.7 152.4,351.3 154.1,351.9 154.4,352.3 154.9,353.3 155.4,355.3 155.7,358.3 155.7,361.2 155.6,364.2 155.2,367.2 154.9,368.2 154.1,369.6 153.1,370.1 151.1,370.5 148.1,370.8 145.1,370.9 142.1,370.8 139.1,370.3 138.1,370.1 136.8,369.2 136,367.2 135.6,364.2 135.5,360.3 135.7,356.3 136.3,353.3 136.8,352.3 137.1,351.9ZM121.1,375.2 124.1,374.7 125.1,374.7 126.1,375 127.1,375.8 128.1,377.4 129,378.2 130.6,379.2 131.3,380.2 131.6,381.2 131.6,383.2 129.9,389.2 129.5,392.2 129.2,456.2 50.2,456.2 50.2,377.4 77.2,376.9 114.1,376.8 117.1,376.4ZM164.3,377.2 165.1,376.5 166.1,376.3 168.1,376.9 172.1,378.7 175.1,379.5 177.1,379.7 183.1,379.9 195,379.9 217,379.2 241,378.7 241,456.2 163.1,456.2 164.4,408.2 164.4,393.2 164.3,391.2 163.8,388.2 161.7,383.2 161.1,381.2 161.3,380.2 163.6,378.2Z"/>
<path fill="#95ff00" d="M50.2,265.3 127.4,265.3 127.1,286.4 126.4,311.3 126.5,328.3 126.8,331.3 127.2,333.3 127.9,335.3 129.3,338.3 129.7,340.3 129.4,341.3 127.2,343.3 126.5,344.3 126.1,344.6 125.1,344.9 124.1,344.8 119.1,342.7 116.1,342 114.1,341.7 108.1,341.7 92.2,341.9 50.2,343.7ZM161.8,265.3 241,265.3 241,344.5 177.1,344.5 174.1,344.9 169.1,346.4 167.1,346.6 166.1,346.6 165.1,346.2 164.1,345.3 162.6,343.3 161,342.3 160.1,341.2 159.7,339.3 160,337.3 161.4,332.3 161.8,329.3ZM139.5,351.3 143.1,350.8 148.1,350.8 152.1,351.3 153.1,351.6 154.2,352.3 154.7,353.3 155.2,355.3 155.5,358.3 155.6,361.2 155.2,366.2 154.7,368.2 154.1,369.4 153.1,369.9 151.1,370.4 148.1,370.7 145.1,370.8 140.1,370.4 138.1,369.9 137,369.2 136.5,368.2 136.2,367.2 135.7,364.2 135.6,360.3 135.8,356.3 136.5,353.3 137,352.3 138.1,351.6ZM121.7,375.2 124.1,374.9 125.1,374.9 126.1,375.3 127.1,376.2 128.6,378.2 130.2,379.2 131.1,380.2 131.4,381.2 131.4,383.2 129.8,389.2 129.4,392.2 129.3,426.2 129,456.2 50.2,456.2 50.2,377.6 77.2,377.1 114.1,377 117.1,376.6ZM164.8,377.2 165.1,377 166.1,376.7 167.1,376.8 172.1,379 174.1,379.5 177.1,379.9 182.1,380.1 195,380.1 220,379.3 241,378.9 241,456.2 163.3,456.2 164.6,408.2 164.7,393.2 164.4,390.2 164,388.2 163.3,386.2 161.9,383.2 161.5,381.2 161.8,380.2 164,378.2Z"/>
<path fill="#9eff00" d="M50.2,265.3 127.2,265.3 126.9,286.3 126.2,311.3 126.3,328.3 126.5,331.3 127,333.3 127.6,335.3 129,338.3 129.4,340.3 129,341.3 127.1,342.8 126.1,344.1 125.1,344.5 124.1,344.5 119.1,342.4 116.1,341.7 114.1,341.5 108.1,341.4 91.2,341.7 50.2,343.5ZM162,265.3 241,265.3 241,344.4 177.1,344.4 174.1,344.7 169.1,346.2 167.1,346.4 166.1,346.3 165.1,345.9 164.3,345.3 163,343.3 161.1,342 160.4,341.3 160.1,340.5 159.9,339.3 160.2,337.3 161.6,332.3 162,329.3ZM140.4,351.3 145.1,350.9 149.1,351 152.1,351.5 153.1,351.8 154.1,352.4 154.6,353.3 155.1,355.5 155.4,358.3 155.5,361.2 155,366.2 154.6,368.2 153.9,369.2 153.1,369.7 150.8,370.2 148.1,370.6 145.1,370.6 140.1,370.2 138.1,369.7 137.1,369.1 136.4,367.2 135.8,363.2 135.7,359.3 136.2,355.3 136.6,353.3 137.3,352.3 138.1,351.8ZM122.5,375.2 124.1,375.1 125.1,375.2 126.1,375.6 126.9,376.2 128.1,378.2 130.1,379.5 130.8,380.2 131.2,381.2 131.3,382.2 131,384.2 129.6,389.2 129.2,392.2 129.2,427.2 128.8,456.2 50.2,456.2 50.2,377.8 77.2,377.2 114.1,377.1 117.1,376.8ZM165.4,377.2 166.1,377 167.1,377.1 172.1,379.2 175.1,380 184.1,380.4 194,380.4 219,379.5 241,379 241,456.2 163.5,456.2 164.8,408.2 164.9,393.2 164.7,390.2 164.3,388.2 163.6,386.2 162.2,383.2 161.8,381.2 162.3,380.2 163.6,379.2Z"/>
<path fill="#a6ff00" d="M50.2,265.3 127.1,265.3 126.7,287.3 125.9,312.3 126,327.3 126.5,332.3 127.4,335.3 128.7,338.3 129,339.3 129,340.3 128.4,341.3 127.1,342.3 126.1,343.5 125.1,344.2 124.1,344.2 118.1,341.9 115.1,341.3 105.1,341.1 85.2,341.7 50.2,343.4ZM162.1,265.3 241,265.3 241,344.2 177.1,344.2 174.1,344.6 169.1,346 167.1,346.2 166.1,346.1 165.1,345.6 163.1,343 161.1,341.7 160.3,340.3 160.1,339.3 160.3,337.3 161.8,332.3 162.1,329.3ZM141.4,351.3 145.1,351 149.1,351.2 153.1,352 154.1,352.7 154.7,354.3 155.1,356.3 155.3,359.3 155.3,362.2 154.7,367.2 154.4,368.2 153.6,369.2 152.1,369.8 150.1,370.2 147.1,370.5 144.1,370.5 139.1,369.8 138.1,369.5 137.1,368.8 136.3,366.2 135.9,362.2 135.9,358.3 136.5,354.3 136.8,353.3 137.6,352.3 139.1,351.7ZM119.5,376.2 123.1,375.3 125.1,375.4 126.1,375.9 127.9,378.2 130.5,380.2 130.9,381.2 131.1,382.2 130.9,384.2 129.4,389.2 129.1,392.2 129,425.2 128.6,456.2 50.2,456.2 50.2,378 78.2,377.4 114.1,377.3 117.1,376.9ZM164.9,378.2 166.1,377.4 167.1,377.4 172.1,379.5 175.1,380.2 178.1,380.5 187.1,380.8 195,380.7 217,379.8 241,379.2 241,456.2 163.6,456.2 165.1,406.2 165.2,393.2 164.9,390.2 164.6,388.2 162.5,383.2 162.2,382.2 162.2,381.2 162.9,380.2 164.1,379.3Z"/>
<path fill="#afff00" d="M50.2,265.3 126.9,265.3 126.5,287.3 125.6,312.3 125.6,325.3 125.8,329.3 126.2,332.3 126.7,334.3 128.1,337.5 128.6,339.3 128.5,340.3 128.1,340.9 125.7,343.3 125.1,343.7 124.1,343.8 122.3,343.3 119.1,341.9 115.1,341.1 104.1,340.8 83.2,341.6 50.2,343.2ZM162.3,265.3 241,265.3 241,344 177.1,344.1 174.1,344.4 169.1,345.8 167.1,346 166.1,345.8 165.1,345.3 163.1,342.8 161.1,341.3 160.5,340.3 160.4,338.3 161.9,332.3 162.3,328.3ZM142.8,351.3 146.1,351.1 150.1,351.4 153.1,352.1 154.1,353.1 154.5,354.3 155,357.3 155.2,362.2 154.5,367.2 154.1,368.4 153.3,369.2 152.1,369.7 149.1,370.2 144.1,370.3 139.1,369.7 137.9,369.2 137.1,368.4 136.7,367.2 136.3,365.2 136,361.2 136.3,356.3 137,353.3 138.1,352.1 140.1,351.6ZM120,376.2 122.1,375.7 124.1,375.5 125.1,375.7 126.1,376.2 127.6,378.2 130.2,380.2 130.7,381.2 130.9,382.2 130.7,384.2 129.3,389.2 128.9,392.2 128.8,425.2 128.4,456.2 50.2,456.2 50.2,378.2 78.2,377.5 114.1,377.4 117.1,377.1ZM165.6,378.2 166.1,377.9 167.1,377.8 168.1,378 172.1,379.8 176.1,380.7 186.1,381.1 195,381 216,380 241,379.4 241,456.2 163.8,456.2 165.4,407.2 165.5,393.2 165.4,391.2 164.8,388.2 162.8,383.2 162.6,382.2 162.7,381.2 163.1,380.7Z"/>
<path fill="#b7ff00" d="M50.2,265.3 126.7,265.3 126.2,288.3 125.3,311.3 125.3,323.3 125.7,331.3 126.4,334.3 128.1,338.3 128.2,339.3 128,340.3 125.1,343.2 124.1,343.4 123.1,343.2 119.1,341.5 116.1,340.9 113.1,340.6 105.1,340.5 94.2,340.8 50.2,343.1ZM162.5,265.3 241,265.3 241,343.9 177.1,343.9 174.1,344.3 169.1,345.6 167.1,345.8 166.1,345.6 165.1,345 163.9,343.3 163.1,342.5 161.3,341.3 160.8,340.3 160.6,338.3 162.3,331.3 162.5,328.3ZM138.3,352.3 140.1,351.8 143.1,351.4 148.1,351.4 152.1,352 153.1,352.3 154,353.3 154.6,355.3 154.9,357.3 155,362.2 154.4,367.2 154,368.2 153.1,369.2 151.1,369.7 149.1,370 144.1,370.2 139.1,369.5 138.1,369.2 137.2,368.2 136.6,366.2 136.3,364.2 136.1,361.2 136.2,358.3 136.6,355.3 137.1,353.4ZM120.6,376.2 122.1,375.9 124.1,375.7 125.8,376.2 128.1,379 129.9,380.2 130.4,381.2 130.6,382.2 130.5,384.2 129.1,389.2 128.7,392.2 128.7,425.2 128.3,456.2 50.2,456.2 50.2,378.4 78.2,377.7 114.1,377.6 117.1,377.2ZM166.8,378.2 168.1,378.4 171.1,379.8 175.1,380.9 178.1,381.2 187.1,381.5 195,381.4 217,380.2 241,379.6 241,456.2 164,456.2 165.7,407.2 165.8,393.2 165.6,390.2 165.2,388.2 164.5,386.2 163.2,383.2 163,382.2 163.3,381.2 166.1,378.4Z"/>
<path fill="#c0ff00" d="M50.2,265.3 126.5,265.3 126.1,284.7 125,310.3 124.9,320.3 125.3,331.3 125.7,333.3 127.6,338.3 127.7,339.3 127.4,340.3 125.1,342.5 124.1,342.9 123.1,342.8 120.1,341.5 118.1,340.9 115.1,340.4 104.1,340.2 93.2,340.5 50.2,342.9ZM162.6,265.3 241,265.3 241,343.7 177.1,343.7 174.1,344.1 169.1,345.4 167.1,345.5 166.1,345.3 165.1,344.6 164.1,343.1 163.2,342.3 161.7,341.3 161,340.3 160.8,338.3 161.1,336.3 162.2,332.3 162.6,329.3ZM138.8,352.3 143.1,351.5 148.1,351.5 152.1,352.2 153.1,352.6 153.8,353.3 154.2,354.3 154.7,357.3 154.9,362.2 154.6,365.2 154.2,367.2 153.8,368.2 153.1,368.9 152.1,369.3 149.1,369.9 144.1,370 141.1,369.7 139.1,369.3 138.1,368.9 137.4,368.2 137,367.2 136.5,364.2 136.3,361.2 136.4,358.3 137.1,353.9 137.4,353.3 138.1,352.6ZM121.4,376.2 123.1,376 124.1,376 125.3,376.2 126.1,376.9 127.1,378.4 128,379.2 129.5,380.2 130.2,381.2 130.4,382.2 130.3,384.2 129,389.2 128.6,392.2 128.5,425.2 128.1,456.2 50.2,456.2 50.2,378.7 77.2,377.9 114.1,377.8 117.1,377.4ZM165.9,379.2 167.1,378.7 168.1,378.9 172.1,380.5 176.1,381.4 188.1,381.9 196,381.7 220,380.3 241,379.8 241,456.2 164.1,456.2 165.1,428.1 166,408.2 166.1,396.2 166.1,392.2 165.8,389.2 164.9,386.2 163.7,383.2 163.5,382.2 163.9,381.2Z"/>
<path fill="#c8ff00" d="M50.2,265.3 126.3,265.3 125.8,286.3 124.6,309.3 124.4,319.3 124.7,328.3 125,331.3 125.6,334.3 127.2,338.3 127.2,339.3 126.6,340.3 125.1,341.8 124.1,342.4 123.1,342.3 119.1,340.8 115.1,340 103.1,339.8 96.2,340.1 50.2,342.8ZM103.1,314.2 102,315.3 101.1,317.3 101.1,319.3 101.6,320.3 102.3,321.3 103.1,321.9 104.1,322.3 106.1,322.4 107.1,322 108.2,321.3 109,320.3 109.5,319.3 109.7,317.3 109.1,315.4 108.1,314.3 106.1,313.5 105.1,313.5ZM162.8,265.3 241,265.3 241,343.5 177.1,343.5 174.1,343.9 169.1,345.2 167.1,345.3 166.1,345 165.1,344.3 163.6,342.3 162.1,341.3 161.3,340.3 161,339.3 161,338.3 161.3,336.3 162.4,332.3 162.8,329.3ZM139.3,352.3 143.1,351.7 148.1,351.7 152.1,352.3 153.1,352.8 153.6,353.3 154,354.3 154.4,356.3 154.8,361.2 154.3,366.2 153.6,368.2 153.1,368.7 152.1,369.2 150.1,369.6 145.1,369.9 140.1,369.4 138.1,368.7 137.6,368.2 136.9,366.2 136.5,363.2 136.4,360.3 136.6,357.3 137.1,354.5 137.6,353.3 138.1,352.8ZM122.4,376.2 124.4,376.2 125.1,376.5 126.1,377.2 127.1,378.7 129.1,380.2 129.9,381.2 130.2,382.2 130.1,384.2 128.8,389.2 128.4,392.2 128.3,426.2 127.8,456.2 50.2,456.2 50.2,378.9 77.2,378.1 114.1,378 117.1,377.6ZM165.8,380.2 167.1,379.3 168.1,379.3 172.1,381 176.1,381.8 190.1,382.4 197,382.1 218,380.7 241,380 241,456.2 164.3,456.2 165.4,426.2 166.4,406.2 166.5,398.2 166.5,392.2 166.3,390.2 165.7,387.2 164.1,383.2 164.1,382.2 164.7,381.2ZM187.1,394.2 185.3,395.2 184.4,396.2 184,397.2 183.8,399.2 184.1,400.2 184.8,401.2 186.1,402.2 187.1,402.5 189.1,402.4 190.1,402.1 191.1,401.4 192,400.2 192.4,399.2 192.4,397.2 192.1,396.2 191.4,395.2 190.1,394.3 189.1,394Z"/>
<path fill="#d1ff00" d="M50.2,265.3 126.1,265.3 125.5,287.3 124.3,307.3 124,315.3 124.4,330.3 125.2,334.3 126.6,338.3 126.5,339.3 125.1,340.9 124.1,341.6 123.1,341.7 119.1,340.4 115.1,339.6 102.1,339.4 95.2,339.7 50.2,342.6ZM105.1,309.1 104.1,309.3 102.1,309.9 100.1,311.2 99.1,312.1 98.1,313.4 97.3,315.3 96.8,318.3 97.2,321.3 98.1,323.2 99.1,324.5 100.1,325.4 102.1,326.5 103.1,326.8 105.1,327 106.1,326.9 108.1,326.4 110.1,325.3 111.3,324.3 112.2,323.3 113.3,321.3 114,319.3 114.2,317.3 113.9,315.3 113.6,314.3 112.5,312.3 111.6,311.3 110.1,310.2 108.1,309.4ZM163,265.3 241,265.3 241,343.4 177.1,343.4 174.1,343.7 170.1,344.8 168.1,345.1 167.1,345.1 166.1,344.7 165.1,343.8 164,342.3 162.1,340.9 161.6,340.3 161.3,339.3 161.2,338.3 161.6,336.3 162.6,332.3 163,329.3ZM140,352.3 144.1,351.8 148.1,351.8 151.2,352.3 152.1,352.5 153.3,353.3 153.8,354.3 154.3,356.3 154.6,361.2 154.1,366.2 153.8,367.2 153.1,368.5 152.1,369 150.1,369.4 145.1,369.8 140.1,369.3 139.1,369 137.9,368.2 137.1,366.3 136.7,363.2 136.6,359.3 136.9,356.3 137.4,354.3 137.9,353.3 139.1,352.5ZM119.2,377.2 123.1,376.4 124.1,376.4 125.1,376.8 126.1,377.7 127.2,379.2 129.1,380.6 129.6,381.2 129.9,382.2 129.9,384.2 128.6,389.2 128.2,392.2 128.1,427.2 127.6,456.2 50.2,456.2 50.2,379.2 76.7,378.2 114.1,378.1 117.1,377.8ZM166.8,380.2 168.1,380 172.1,381.5 176.1,382.2 184.1,382.8 189.1,382.9 195,382.7 215,381.1 241,380.2 241,456.2 164.5,456.2 165.8,424.2 166.8,407.2 167,399.2 166.7,390.2 165.9,386.2 164.8,383.2 164.9,382.2 165.1,381.9ZM186.1,389.9 185.1,390.3 183.1,391.4 182.1,392.3 180.5,394.2 180,395.2 179.3,397.2 179.2,399.2 179.3,400.2 179.9,402.2 180.5,403.2 181.2,404.2 182.4,405.2 184.1,406.2 185.1,406.6 187.1,406.9 189.1,406.8 191.1,406.3 192.1,405.8 194,404.4 195.1,403.2 196,401.6 196.6,400.2 197,398.2 196.8,396.2 196.2,394.2 195.7,393.2 195,392.2 193.1,390.6 192.1,390.1 190.1,389.6 188.1,389.5Z"/>
<path fill="#d9ff00" d="M50.2,265.3 125.8,265.3 125.1,289.3 123.7,309.3 123.4,315.3 123.5,321.3 124,330.3 124.6,334.3 125.9,338.3 125.7,339.3 124.8,340.3 124.1,340.8 123.1,341.1 119.1,339.8 115.1,339.2 102.1,338.9 50.2,342.5ZM104.1,306.2 102.1,306.8 100.1,307.7 98.1,309.1 96.2,311.3 95,313.3 94.3,315.3 93.9,317.3 93.8,319.3 94.1,321.3 94.8,323.3 95.8,325.3 97.5,327.3 99.1,328.6 101.1,329.6 103.1,330.1 105.1,330.3 108.1,329.8 110.1,328.9 112.1,327.6 114.1,325.7 115.7,323.3 116.6,321.3 117.1,319 117.3,316.3 117,314.3 116.1,311.9 115.1,310.3 113.1,308.3 111.1,307.1 109.1,306.4 107.1,306.1ZM163.2,265.3 241,265.3 241,343.2 177.1,343.2 174.1,343.5 170.1,344.6 168.1,344.9 167.1,344.8 166.1,344.4 164.1,342 162.1,340.5 161.6,339.3 161.5,338.3 161.8,336.3 162.8,332.3 163.2,328.3ZM140.8,352.3 144.1,351.9 148.1,352 151.1,352.4 153.1,353.3 153.6,354.3 154.1,356.3 154.5,361.2 154.1,365.5 153.6,367.2 153.1,368.3 152.1,368.8 150.1,369.3 145.1,369.6 140.8,369.2 139.1,368.8 138.1,368.2 137.3,366.2 136.8,363.2 136.8,359.3 137.1,356.3 137.6,354.3 138.1,353.3 139.1,352.7ZM119.9,377.2 123.1,376.6 124.1,376.7 125.1,377.1 127.1,379.5 129.1,381 129.6,382.2 129.6,384.2 128.4,389.2 128.1,392.2 128,425.2 127.4,456.2 50.2,456.2 50.2,379.5 78.2,378.4 114.1,378.3 117.1,378ZM166.7,381.2 167.1,380.9 168.1,380.7 172.1,382 176.1,382.8 186.1,383.7 190.1,383.8 193.1,383.6 205.1,382.2 216,381.4 241,380.4 241,456.2 164.7,456.2 166.1,423.9 167.4,402.2 167.3,391.2 166.7,387.2 165.5,383.2 165.8,382.2ZM185.1,387.1 183.1,387.9 181.1,389.1 179.8,390.2 178.1,392.3 177,394.2 176.3,396.2 175.9,399.2 176.1,401.2 176.7,403.2 177.8,405.2 179.1,406.7 181.1,408.2 183.1,409.2 185.1,409.7 188.1,409.9 190.1,409.6 192.1,409 194,407.9 196.2,406.2 197.9,404.2 199,402.2 199.7,400.2 200,398.2 199.8,395.2 199.3,393.2 198.3,391.2 197,389.7 195,388 193.1,387.1 190.1,386.4 188.1,386.4Z"/>
<path fill="#e2ff00" d="M50.2,265.3 125.6,265.3 124.8,288.3 124.1,298.7 122.8,312.3 122.5,316.3 122.6,320.3 123.4,330.3 123.9,333.3 125.1,338.3 124.7,339.3 124.1,339.8 123.1,340.2 118.1,339.1 114.1,338.6 102.1,338.4 97.2,338.7 69.2,341.1 50.2,342.3ZM102.1,304.1 100.1,305 98,306.3 95.8,308.3 94.2,310.3 93,312.3 91.9,315.3 91.4,318.3 91.6,321.3 92.2,323.7 93.3,326.3 95.2,328.8 97.2,330.6 99.1,331.8 102.1,332.9 104.1,333.1 107.1,332.9 110.1,332 113.1,330.3 115.1,328.7 117.1,326.3 118.7,323.3 119.7,320.3 120,317.3 119.8,314.3 119.1,311.7 117.9,309.3 116.1,307.1 113.7,305.3 111.1,304.1 108.1,303.5 105.1,303.5ZM163.4,265.3 241,265.3 241,343 177.1,343 174.1,343.3 170.1,344.4 168.1,344.6 167.1,344.5 166.1,344.1 164.1,341.7 162.3,340.3 161.8,339.3 161.8,337.3 163,332.3 163.4,328.3ZM141.9,352.3 145.1,352 149.1,352.2 152.1,352.9 153.1,353.6 153.5,354.3 154.1,357 154.3,361.2 153.9,365.2 153.5,367.2 152.8,368.2 152.1,368.6 149.3,369.2 145.1,369.5 141.1,369.1 139.1,368.6 138.1,367.9 137.7,367.2 137.3,365.2 136.9,362.2 137,358.3 137.5,355.3 137.7,354.3 138.4,353.3 139.1,352.9ZM120.7,377.2 123.1,376.9 124.1,377 125.1,377.4 126.6,379.2 128.9,381.2 129.4,382.2 129.5,383.2 129.2,385.2 128.2,389.2 127.8,392.2 127.8,425.2 127.1,456.2 50.2,456.2 50.2,379.7 77.2,378.7 114.1,378.5 117.1,378.2ZM224.2,381.2 241,380.7 241,456.2 164.9,456.2 166.2,427.2 168,402.2 167.9,391.2 167.5,388.2 166.4,383.2 166.9,382.2 168.1,381.7 173.1,382.9 181.3,384.2 181.9,385.2 179.1,387.2 177.1,389.1 175.5,391.2 174.4,393.2 173.7,395.2 173.1,398.2 173.1,400.2 173.4,402.2 174,404.2 175,406.2 176.6,408.2 178.1,409.5 180.1,410.8 182.1,411.7 184.1,412.2 187.1,412.5 189.4,412.2 192.1,411.5 194,410.5 196.1,409.2 198.4,407.2 200,405.2 201.2,403.2 202,401.2 202.5,399.2 202.7,397.2 202.6,395.2 202,392.7 201,390.3 200,388.8 198.7,387.2 196.3,385.2 196.7,384.2 201.2,383.2 209.3,382.2Z"/>
<path fill="#eaff00" d="M50.2,265.3 125.3,265.3 124.8,283.3 124.1,293.9 123.1,303.4 122.1,308.6 121.1,309 119.2,306.3 118.1,305.2 115.6,303.3 113.1,302.1 110.1,301.3 107.1,301 104.1,301.3 102.1,301.8 99.1,303.1 97.2,304.4 95.2,306.1 93.2,308.3 91.9,310.3 90.5,313.3 89.6,316.3 89.3,319.3 89.4,322.3 90.2,325.3 91.2,327.4 93.1,330.3 95.2,332.4 97.2,333.8 99.1,334.8 102.1,335.8 104.1,336 107.1,335.7 110.1,334.9 113.1,333.5 115.1,332.2 117.4,330.3 119,328.3 121.1,325 122.1,325.9 122.7,330.3 124,337.3 124,338.3 123.1,339.1 122.1,339.2 120.1,338.7 114.1,337.9 107.1,337.4 103.1,337.3 86.6,339.3 76,340.3 50.2,342.2ZM163.6,265.3 241,265.3 241,342.8 177.1,342.8 174.1,343.1 170.1,344.1 168.1,344.4 167.1,344.2 166.1,343.7 164.1,341.4 162.7,340.3 162.1,339.3 162,337.3 163.2,332.3 163.6,328.3ZM143.5,352.3 147.1,352.2 150.1,352.6 152.1,353.1 153.1,353.9 153.5,355.3 154.1,358.3 154.1,362.2 153.7,365.2 153.3,367.2 152.4,368.2 151.1,368.7 148.1,369.2 144.1,369.3 141.1,368.9 139.1,368.4 138.1,367.6 137.3,364.2 137,361.2 137.1,358.3 137.9,354.3 139.1,353.1ZM121.7,377.2 124,377.2 125.1,377.8 126.2,379.2 128.5,381.2 129.1,382.2 129.2,383.2 129,385.2 128,389.2 127.6,392.2 127.5,426.2 126.8,456.2 50.2,456.2 50.2,380 77.2,378.9 114.1,378.7 117.1,378.4ZM231.6,381.2 241,380.9 241,456.2 165,456.2 167,420.2 169,401.2 168.8,392.2 167.6,384.2 167.8,383.2 168.1,383 169.1,382.9 170.9,383.2 175.4,384.2 176.8,385.2 176.1,386.2 174.3,388.2 173,390.2 171.5,393.2 170.6,396.2 170.2,399.2 170.5,402.2 171.4,405.2 172.4,407.2 174.7,410.2 176.1,411.4 178.1,412.7 180.1,413.6 182.1,414.3 184.1,414.7 186.1,414.8 189.1,414.5 191.1,414 193.1,413.2 196,411.7 198,410.2 200.1,408.2 202,405.8 203.5,403.2 204.3,401.2 205,398.2 205.1,396.2 205,394.2 204.3,391.2 203.5,389.2 202.3,387.2 200.8,385.2 201.4,384.2 205.3,383.2 213.6,382.2Z"/>
<path fill="#f3ff00" d="M50.2,265.3 125,265.3 124.1,288.9 123.1,298.8 122.1,303.4 121.1,304 119,302.3 117.1,301 115.1,300 112.1,299.1 109.1,298.6 107.1,298.6 103.1,299.3 100.4,300.3 98.1,301.4 96.2,302.8 94.4,304.3 92.5,306.3 91.2,308 89.8,310.3 88.9,312.3 87.9,315.3 87.3,319.3 87.3,322.3 87.8,325.3 88.9,328.3 90.7,331.3 93.2,334 95.8,336.3 95.3,337.3 90.8,338.3 82.6,339.3 72.7,340.3 50.2,342ZM163.8,265.3 241,265.3 241,342.6 177.1,342.6 174.1,342.9 170.1,343.9 168.1,344.1 167.1,343.9 166.1,343.3 164.4,341.3 163,340.3 162.4,339.3 162.2,338.3 162.5,336.3 163.5,332.3 163.8,329.3ZM120.3,331.3 121.1,330.7 122.1,332.5 122.6,336.3 122.5,337.3 122.1,337.7 120.1,337.7 116.7,337.3 114.7,336.3 115.6,335.3 118.1,333.4ZM139.2,353.3 143.1,352.5 147.1,352.4 150.1,352.8 152,353.3 153.1,354.3 153.8,358.3 153.9,362.2 153.5,365.2 153.1,367.2 152.1,368.2 148.1,369 144.1,369.1 141.1,368.7 139.2,368.2 138.1,367.2 137.4,363.2 137.3,359.3 137.7,356.3 138.1,354.3ZM118.7,378.2 122.1,377.4 124.1,377.6 125.1,378.2 126.1,379.5 128.2,381.2 128.8,382.2 129,383.2 128.7,385.2 127.7,389.2 127.4,392.2 127.3,426.2 126.6,456.2 50.2,456.2 50.2,380.4 76.2,379.1 114.1,378.9 116.1,378.8ZM238.9,381.2 241,381.2 241,456.2 165.3,456.2 167.1,424.7 168.1,414.8 169.1,409.8 170.1,409.2 172.9,412.2 175.1,413.9 178.1,415.5 181.1,416.5 184.1,416.9 187.1,416.8 190.1,416.3 193.1,415.3 197,413.2 199,411.7 201,409.9 204,406.2 206.1,402.2 207.3,398.2 207.5,396.2 207.5,394.2 206.7,390.2 206,388.2 204.5,385.2 205.1,384.2 209.1,383.2 218,382.3ZM169.6,385.2 170.1,384.9 171.1,384.8 172.3,385.2 172.2,386.2 171.1,387.9 170.1,388.7 169.5,387.2 169.4,386.2Z"/>
<path fill="#fbff00" d="M50.2,265.3 124.7,265.3 123.9,286.3 123.1,294.4 122.1,299.1 121.1,300 118.1,298.3 116.1,297.5 114.1,296.9 111.1,296.3 107.1,296.3 103.1,297.1 100.1,298.2 98.1,299.3 94.2,302.1 92.2,304 90.3,306.3 87.9,310.3 86.6,313.3 85.7,317.3 85.3,321.3 85.5,324.3 86.1,327.3 87.2,330.3 89,333.3 91.4,336.3 90.9,337.3 86.7,338.3 79.1,339.3 69.6,340.3 50.2,341.8ZM164,265.3 241,265.3 241,342.4 177.1,342.4 174.1,342.7 170.1,343.6 168.1,343.8 167.1,343.6 166.6,343.3 164.8,341.3 163.5,340.3 162.8,339.3 162.5,338.3 162.7,336.3 163.7,332.3 164,329.3ZM139.9,353.3 144.1,352.7 148.1,352.8 151.3,353.3 152.1,353.6 152.7,354.3 153.1,355.3 153.5,357.3 153.7,362.2 153.1,366.5 152.7,367.2 152.1,367.9 151.1,368.3 149.1,368.6 144.1,368.8 139.9,368.2 139.1,367.9 138.5,367.2 138.1,366.2 137.6,363.2 137.6,358.3 138.1,355 138.5,354.3 139.1,353.6ZM119.6,378.2 122.1,377.7 123.1,377.7 124.1,377.9 125.1,378.7 126.1,380 128.1,381.7 128.4,382.2 128.7,383.2 128.5,385.2 127.5,389.2 127.2,392.2 127.1,425.7 126.3,456.2 50.2,456.2 50.2,380.7 77.2,379.3 114.1,379.1 117.1,378.8ZM224.2,382.2 241,381.5 241,456.2 165.5,456.2 167.3,427.2 168.1,419.3 169.1,414.5 170.1,413.8 173.6,416.2 177.1,417.9 180.1,418.8 183.1,419.1 186.1,419 190.1,418.2 194,416.8 197,415.2 201,412.3 204,409.2 206.8,405.2 208.6,401.2 209.7,397.2 209.9,393.2 209.2,389.2 207.8,385.2 208,385 208.7,384.2 213,383.2Z"/>
<path fill="#fffa00" d="M50.2,265.3 124.4,265.3 123.4,286.3 123.1,289.8 122.1,295.1 121.1,296.2 117.1,294.7 115.1,294.2 112.1,293.8 110.1,293.7 106.1,294.2 103.1,295 101.1,295.7 99.1,296.6 96.3,298.3 92.5,301.3 89.2,305 86.5,309.3 85.2,312.3 84.3,315.3 83.7,318.3 83.4,322.3 83.8,326.3 84.4,329.3 85.5,332.3 87.7,336.3 87,337.3 83,338.3 75.9,339.3 50.2,341.7ZM164.2,265.3 241,265.3 241,342.1 177.1,342.1 174.1,342.4 170.1,343.4 168.1,343.5 167.1,343.2 166.1,342.4 165.1,341.1 164,340.3 163.1,339.3 162.8,338.3 162.8,337.3 163.9,332.3 164.2,329.3ZM140.9,353.3 144.1,352.9 148.1,353 150.3,353.3 152.1,354 152.4,354.3 153.1,356.3 153.5,361.2 153.1,365.5 152.4,367.2 152.1,367.5 150.1,368.3 145.1,368.6 140.9,368.2 139.1,367.5 138.8,367.2 138.1,365.5 137.8,363.2 137.8,359.3 138.1,356.3 138.8,354.3 139.1,354ZM120.6,378.2 122.1,378 123.1,378 124.1,378.3 128.1,382.2 128.4,383.2 128.2,385.2 127.3,389.2 127,392.2 126.9,425.2 126,456.2 50.2,456.2 50.2,381.1 55.2,380.9 68.2,379.9 77.2,379.5 114.1,379.4 117.1,379.1ZM230.8,382.2 241,381.8 241,456.2 165.7,456.2 167.1,435.1 167.8,427.2 168.1,423.9 169.1,418.7 170.1,417.8 174.1,419.7 177.1,420.7 180.1,421.2 184.1,421.2 188.1,420.7 191.1,419.8 194,418.7 197,417.2 201.3,414.2 205,410.6 208.3,406.2 210.4,402.2 212,397.2 212.5,393.2 212.3,390.2 211.2,385.2 212.3,384.2 217.3,383.2Z"/>
<path fill="#fff200" d="M50.2,265.3 124.1,265.3 123.1,284.5 122.1,290.9 121.1,292.3 115.1,291.1 111.1,291.1 106.1,291.9 101.1,293.6 96.2,296.3 92.2,299.3 88.4,303.3 85.7,307.3 84.2,310.4 82.8,314.3 82.1,317.3 81.6,321.3 81.6,325.3 82.1,329.3 82.9,332.3 84.3,336.3 83.5,337.3 79.7,338.3 72.9,339.3 50.2,341.5ZM164.5,265.3 241,265.3 241,341.9 177.1,341.9 174.1,342.2 169.1,343.3 168.1,343.2 167.1,342.8 164.1,339.9 163.5,339.3 163.1,338.3 163.1,337.3 164.2,332.3 164.5,329.3ZM142.7,353.3 148.5,353.3 151.1,353.9 152.1,354.4 153.1,357.9 153.2,361.2 153,364.2 152.5,366.2 152,367.2 148.5,368.2 145.1,368.4 142.1,368.1 140.1,367.6 139.1,367.1 138.5,365.2 138.1,363.2 138.1,358.3 138.5,356.3 139.2,354.3ZM117.5,379.2 121.1,378.4 123.1,378.3 124.1,378.7 124.7,379.2 127.7,382.2 128.1,383.2 128.1,384.2 127,389.2 126.7,392.2 126.6,426.2 125.6,456.2 50.2,456.2 50.2,381.4 55.2,381.3 67.5,380.2 76.2,379.8 88.2,379.6 114.1,379.6ZM237.5,382.2 241,382.1 241,456.2 166,456.2 167.1,440 168.1,428.7 169.1,423 170.1,421.7 174.1,423 176.1,423.4 179.1,423.6 183.1,423.5 187.1,422.8 191.1,421.7 195,420.1 198,418.5 202,415.7 205.8,412.2 209.1,408.2 211.5,404.2 213.7,399.2 215,394.2 215.3,390.2 214.8,385.2 216.3,384.2 222.5,383.2Z"/>
<path fill="#ffe900" d="M50.2,265.3 123.7,265.3 123.1,277.2 122.5,283.3 122.1,286.2 121.1,288 120.1,288.1 116.1,287.8 111.1,288.4 105.1,289.9 100.1,291.9 95.2,294.8 91.2,298 89.2,299.9 87.2,302.2 84.4,306.3 82.9,309.3 81.7,312.3 80.8,315.3 80,319.3 79.6,323.3 79.7,327.3 80.2,331.3 81.3,336.3 80.4,337.3 76.7,338.3 69.9,339.3 50.2,341.3ZM164.7,265.3 241,265.3 241,341.6 177.1,341.6 174.1,341.9 169.1,342.9 168.1,342.8 167.1,342.4 164.1,339.4 163.5,338.3 163.4,337.3 164.4,332.3 164.7,329.3ZM140.2,354.3 144.1,353.7 147.1,353.7 151,354.3 152.1,355.3 152.7,359.3 152.7,362.2 152.1,366.2 151.1,367.2 147.1,367.8 144.1,367.8 140.2,367.2 139.1,366.2 138.5,362.2 138.5,359.3 139.1,355.3ZM118.8,379.2 122.1,378.6 123.1,378.7 124.1,379.1 127.3,382.2 127.7,383.2 127.7,385.2 126.8,389.2 126.5,392.2 126.4,426.2 125.3,456.2 50.2,456.2 50.2,381.8 55.2,381.6 68.2,380.5 75.2,380.1 87.2,379.9 114.1,379.9 116.1,379.7ZM228.3,383.2 241,382.4 241,456.2 166.2,456.2 168.1,433.4 169.1,427.4 170.1,425.8 175.1,426.2 178.1,426.2 182.1,425.9 186.1,425.1 190.1,424 194,422.5 198,420.4 201.5,418.2 205,415.3 208.1,412.2 211.2,408.2 213.7,404.2 216,399.2 217.7,394.2 218.5,390.2 218.9,385.2 220.8,384.2Z"/>
<path fill="#ffe100" d="M50.2,265.3 123.3,265.3 123.1,269.3 122.1,280.2 121.1,283.2 120.1,283.7 114.1,284.8 108.1,286.4 103.1,288.3 98.1,290.8 94.2,293.3 90.2,296.6 86.6,300.3 83.7,304.3 82,307.3 80.2,311.3 79.3,314.3 78.3,318.3 77.8,322.3 77.6,327.3 77.9,331.3 78.5,336.3 77.5,337.3 73.8,338.3 67.1,339.3 50.2,341.1ZM164.9,265.3 241,265.3 241,341.4 177.1,341.4 174.1,341.6 169.1,342.6 168.1,342.5 167.1,341.9 164.4,339.3 163.9,338.3 163.8,337.3 164.7,332.3 165,329.3ZM140.5,355.3 143.1,354.5 146.1,354.3 149.1,354.8 150.7,355.3 151.1,355.7 151.8,358.3 152,361.2 151.6,364.2 151.1,365.8 150.7,366.2 148.1,367 145.1,367.2 142.1,366.7 140.5,366.2 140.1,365.8 139.4,363.2 139.2,360.3 139.6,357.3 140.1,355.7ZM120,379.2 122.1,378.9 123.1,379 124.1,379.6 126.8,382.2 127.3,383.2 127.4,384.2 126.5,389.2 126.2,392.2 126.1,426.2 125,456.2 50.2,456.2 50.2,382.2 55.2,382 67.2,380.9 75.2,380.4 87.2,380.1 114.1,380.1 117.1,379.9ZM234.5,383.2 241,382.8 241,456.2 166.5,456.2 168.1,438 169.1,431.8 170.1,429.9 171.1,429.7 175.1,429.3 180.1,428.6 184.1,427.8 188.1,426.7 192.1,425.2 195,423.9 199,421.8 202,419.8 205.3,417.2 209,413.7 211.9,410.2 214.7,406.2 217,402.2 219.3,397.2 221.3,392.2 223.1,386.2 223.6,385.2 226,384.2Z"/>
<path fill="#ffd800" d="M50.2,265.3 122.8,265.3 122.1,273 121.1,276.9 120.1,278 116.1,280.6 104.1,285.5 100.1,287.4 96.2,289.8 92.2,292.6 89.1,295.3 86.2,298.3 83.1,302.3 81.2,305.4 79.2,309.3 78.1,312.3 76.9,316.3 76.1,320.3 75.6,325.3 75.5,330.3 75.8,336.3 74.7,337.3 71,338.3 64.4,339.3 50.2,340.9ZM165.2,265.3 241,265.3 241,341.1 177.1,341.1 174.1,341.4 169.1,342.3 168.1,342.1 167.1,341.4 164.9,339.3 164.3,338.3 164.1,337.3 165,332.3 165.2,329.3ZM142,357.3 143.1,356.7 145.1,356.4 147.1,356.5 149.1,357.2 149.7,358.3 150,360.3 149.9,362.2 149.2,364.2 148.1,364.8 146.1,365.1 144.1,365 142.1,364.3 141.5,363.2 141.2,361.2 141.3,359.3ZM116.3,380.2 121.1,379.3 122.1,379.2 123.1,379.4 124.1,380.1 126.3,382.2 126.9,383.2 127.1,384.2 126.2,389.2 126,392.2 125.8,426.2 124.6,456.2 50.2,456.2 50.2,382.6 55.2,382.4 69.2,381 77.2,380.6 89.2,380.4 114.1,380.4ZM240.8,383.2 241,383.2 241,456.2 166.8,456.2 168.1,442.5 169.1,436.1 170.1,434 171.1,433.5 183.1,430.4 190.1,428 197,424.9 203,421.1 206.7,418.2 209.9,415.2 212.6,412.2 215.6,408.2 219.4,402.2 227.8,386.2 228.7,385.2 231.7,384.2Z"/>
<path fill="#ffd000" d="M50.2,265.3 122.1,265.3 121.1,270 120.3,271.3 117.6,274.3 114.4,277.3 111.6,279.3 104.1,282.9 99.1,285.6 93.2,289.5 90.2,291.9 87.2,294.7 84.2,298.1 82.2,300.7 79.9,304.3 77.9,308.3 76.3,312.3 75.1,316.3 74.2,320.3 73.5,325.3 73.1,336.3 72,337.3 68.2,338.3 62.1,339.3 50.2,340.7ZM165.5,265.3 241,265.3 241,340.9 177.1,340.8 174.1,341.1 169.1,341.8 168.1,341.6 167.6,341.3 165.5,339.3 164.7,338.3 164.5,337.3 165.3,332.3 165.5,329.3ZM118.3,380.2 121.1,379.7 122.1,379.7 123.1,379.9 125.7,382.2 126.5,383.2 126.7,384.2 125.9,389.2 125.7,392.2 125.6,426.2 125.2,436.2 124.4,450.2 124.3,456.2 50.2,456.2 50.2,383 55.2,382.8 68.2,381.4 76.2,380.9 89.2,380.7 114.1,380.7ZM237.5,384.2 241,383.9 241,456.2 167.1,456.2 168.1,446.8 169.1,440.4 170.1,438.1 172.1,437 187.1,431.4 194,428.4 200,425.1 206,420.9 211.2,416.2 214,413.2 216.5,410.2 220.8,404.2 229,391.5 233,386.2 234.1,385.2Z"/>
<path fill="#ffc700" d="M50.2,265.3 119.6,265.3 119,266.3 116,270.3 113.4,273.3 110.5,276.3 109.1,277.4 98.1,283.7 92.2,288 89.2,290.5 86.2,293.4 83.6,296.3 81.2,299.5 78.7,303.3 76.6,307.3 74.9,311.3 73.2,316.3 72.3,320.3 71.4,325.3 70.5,336.3 69.3,337.3 65.7,338.3 59.9,339.3 50.2,340.5ZM165.7,265.3 241,265.3 241,340.6 177.1,340.5 174.1,340.7 170.1,341.4 169.1,341.4 168.1,341.1 166,339.3 165.2,338.3 164.9,337.3 164.9,336.3 165.6,332.3 165.8,329.3ZM120,380.2 122.1,380.1 123.1,380.4 125.2,382.2 126,383.2 126.3,384.2 126.3,385.2 125.4,391.2 125.3,426.2 124.9,435.2 124,450.2 123.9,456.2 50.2,456.2 50.2,383.5 54.2,383.3 67.2,381.8 75.2,381.2 88.2,380.9 114.1,381 117.1,380.8ZM239.7,385.2 241,384.9 241,456.2 167.5,456.2 168.1,450.9 169.1,444.6 170.1,442.2 171.1,441.4 175.3,439.2 190.1,432.5 196,429.4 202,425.7 208,421.2 212.5,417.2 217.2,412.2 220.5,408.2 228,398 232,393 237,387.5 238.3,386.2Z"/>
<path fill="#ffbf00" d="M50.2,265.3 115.1,265.3 114.6,266.3 111.6,270.3 107.3,275.3 97.2,281.9 90.2,287.4 87.2,290.2 84.2,293.4 81.7,296.3 79.2,299.9 77.1,303.3 75,307.3 73.2,311.4 71.5,316.3 70.2,321.2 69.4,325.3 67.9,336.3 66.7,337.3 63.5,338.3 57.8,339.3 50.2,340.2ZM166,265.3 241,265.3 241,340.3 177.1,340.2 174.1,340.4 170.1,341 169.1,341 168.1,340.6 166.6,339.3 165.8,338.3 165.4,337.3 165.3,336.3 165.9,332.3 166.1,329.3ZM85.1,381.2 114.1,381.3 117.1,381.1 121.1,380.5 122.1,380.5 123.1,380.9 125.4,383.2 125.8,384.2 125.9,385.2 125.3,389.2 125.1,392.2 125.2,412.2 125,426.2 124.6,435.2 123.6,450.2 123.5,456.2 50.2,456.2 50.2,384 55.2,383.7 65.2,382.4 71.2,381.8ZM240.4,389.2 241,388.8 241,456.2 167.8,456.2 169.1,448.6 170.1,446.2 171.2,445.2 177.1,441.7 191.1,434.2 197,430.7 203,426.8 208,423.1 212.5,419.2 217.6,414.2 222.1,409.2 233,396.5 237,392.4Z"/>
<path fill="#ffb600" d="M50.2,265.3 111.4,265.3 110.8,266.3 108.7,269.3 105.1,273.8 95.2,281.2 88.2,287.2 85.2,290.2 82.2,293.5 79.3,297.3 77.3,300.3 75.2,303.8 73.4,307.3 71.7,311.3 70.2,315.4 67.7,324.3 65.6,336.3 64.5,337.3 61.4,338.3 55.8,339.3 50.2,340ZM166.3,265.3 241,265.3 241,340 177.1,339.9 170.1,340.6 168.5,340.3 167.1,339.1 166.1,337.8 165.8,336.3 166.4,329.3ZM118.5,381.2 121.1,380.9 122.1,381 123.1,381.5 124.9,383.2 125.3,384.2 125.4,385.2 124.8,391.2 124.9,413.2 124.6,428.2 123.3,450.2 123.1,456.2 50.2,456.2 50.2,384.7 53.2,384.5 68.2,382.4 76.2,381.8 90.2,381.5 114.1,381.6ZM240.7,393.2 241,393 241,456.2 168.3,456.2 169.1,452.2 170.1,450 171.1,449.1 181.2,442.2 199,431.2 204,427.8 208.8,424.2 216.7,417.2 233,400.3 239,394.6Z"/>
<path fill="#ffae00" d="M50.2,265.3 108.5,265.3 106.7,268.3 103.1,273 93.2,280.7 87.2,286.1 84.2,289.2 81.2,292.6 78.3,296.3 76.2,299.5 73.9,303.3 71.9,307.3 68.7,315.3 66.1,324.3 63.6,336.3 62.6,337.3 59.4,338.3 53.8,339.3 50.2,339.7ZM166.6,265.3 241,265.3 241,339.7 177.1,339.6 170.1,340.1 169.1,340 168.1,339.4 167.1,338.4 166.4,337.3 166.2,336.3 166.7,329.3ZM73.6,382.2 87.2,381.8 115.1,381.9 121.1,381.4 122.1,381.5 123.1,382.1 124.3,383.2 124.8,384.2 125,385.2 124.5,391.2 124.6,408.2 124.4,424.2 124.1,433.2 122.8,450.2 122.6,456.2 50.2,456.2 50.2,398.1 51.2,397.9 52.2,397.2 53.2,395.6 53.4,394.2 53.2,393.1 52.2,391.4 51.2,390.6 50.2,390.3 50.2,385.9 64.1,383.2ZM240.9,396.2 241,396.1 241,456.2 168.9,456.2 169.1,455 170.1,453 171.1,452.1 183.1,443.4 202,430.9 211,424.1 218.7,417.2 235,401.3 240,396.8Z"/>
<path fill="#ffa500" d="M50.2,265.3 106.2,265.3 103.7,269.3 101.3,272.3 91.2,280.5 87.2,284.1 83.2,288.2 78.9,293.3 74.7,299.3 72.4,303.3 70.4,307.3 67.2,315.3 64.5,324.3 61.8,336.3 60.7,337.3 57.4,338.3 50.2,339.4ZM166.9,265.3 241,265.3 241,339.4 177.1,339.3 170.1,339.6 169.1,339.4 167.6,338.3 166.9,337.3 166.7,336.3 167,329.3ZM80,382.2 96.2,382.1 115.1,382.2 121.1,381.9 122.1,382.1 123.1,382.7 124.1,384 124.5,385.2 124.5,386.2 124.2,391.2 124.3,408.2 124.1,425.2 123.7,434.2 122.4,450.2 122.1,456.2 50.2,456.2 50.2,401.2 52.2,400.7 53.2,400.1 54.2,399.2 54.9,398.2 55.8,396.2 56.2,394.2 56.1,393.2 55,388.2 55,387.2 55.5,386.2 57.2,385.2 60.8,384.2 69.2,383ZM240.2,399.2 241,398.7 241,456.2 169.9,456.2 170.1,455.7 171.1,454.6 180.1,447.8 187.1,442.8 202,432.6 211,425.8 218.6,419.2 233,405.6Z"/>
<path fill="#ff9d00" d="M50.2,265.3 104.1,265.3 102.9,267.3 100.1,271.3 90.2,279.4 86.2,283.2 82.2,287.3 77.3,293.3 73.2,299.3 70.9,303.3 68.9,307.3 65.7,315.3 62.9,324.3 60.5,335.3 60.1,336.3 58.8,337.3 55.5,338.3 50.2,339.1ZM167.2,265.3 241,265.3 241,339.2 188.1,339.1 176.1,339 171.1,339.2 170.1,339.1 169.1,338.8 168.1,338 167.5,337.3 167.2,336.3 167.1,335.3 167.4,330.3 167.2,318.3ZM69.7,383.2 76.2,382.7 84.2,382.4 103.1,382.4 115.1,382.5 120.1,382.3 121.1,382.4 122.1,382.7 122.9,383.2 123.7,384.2 124,385.2 124.1,386.2 123.8,391.2 124,409.2 123.8,426.2 123.1,437.8 121.6,452.2 121.4,456.2 112.5,456.2 112.3,455.2 111.4,454.2 110.1,453.9 109.1,454.2 108.1,455.1 107.8,456.2 50.2,456.2 50.2,403.3 52.2,402.9 54.2,401.9 55.8,400.2 57,398.2 57.8,396.2 58.1,394.2 57.7,388.2 57.8,387.2 58.3,386.2 59.8,385.2 63.3,384.2ZM240.6,401.2 241,401 241,456.2 172.4,456.2 174.6,454.2 183.1,447.7 203,433.6 211,427.5 218.4,421.2 234,406.9Z"/>
<path fill="#ff9400" d="M50.2,265.3 102.1,265.3 101,267.3 98.8,270.3 91.2,276.7 85.1,282.3 79.5,288.3 74.9,294.3 72.2,298.4 69.4,303.3 67.4,307.3 65.3,312.3 62.3,321.3 60.7,327.3 58.9,335.3 58.4,336.3 57,337.3 53.6,338.3 50.2,338.8ZM167.5,265.3 241,265.3 241,338.8 171.1,338.7 169.2,338.3 168.2,337.3 167.7,336.3 167.6,334.3ZM73.2,383.2 80.2,382.9 88.2,382.7 120.1,382.8 122,383.2 123,384.2 123.5,385.2 123.6,386.2 123.7,401.2 123.6,419.2 123.2,431.2 122.1,443.4 121.1,449.6 120.1,453.4 119.6,454.2 119.1,455.6 118.1,455 116.8,453.2 114.7,451.2 113.1,450.2 111.1,449.7 110.1,449.7 108.2,450.2 106.1,451.4 104.7,453.2 104.1,454.4 103.9,456.2 50.2,456.2 50.2,405.1 52.2,404.8 53.2,404.4 55.1,403.2 57.1,401.2 58.2,399.4 59.1,397.2 59.7,395.2 59.9,393.2 59.8,388.2 60.1,387.2 60.6,386.2 62.1,385.2 65.7,384.2ZM240.9,403.2 241,456.2 175.1,456.2 176.1,455.2 184.1,449 204,434.5 212,428.4 219.3,422.2 237,406.4Z"/>
<path fill="#ff8c00" d="M50.2,265.3 100.2,265.3 98.4,268.3 97.2,269.8 88.2,277.4 81.2,284.3 77,289.3 73.3,294.3 70.7,298.3 67.9,303.3 65.9,307.3 63.8,312.3 62,317.3 60.5,322.3 57.6,334.3 57.2,335.3 56.5,336.3 55.1,337.3 51.6,338.3 50.2,338.5ZM167.8,265.3 241,265.3 241,338.5 188.1,338.5 172.1,338.3 170.1,338 168.9,337.3 168.3,336.3 168.1,335.3 167.9,324.3ZM78.5,383.2 96.2,383 119.1,383.2 121.1,383.5 122.3,384.2 122.9,385.2 123.2,387.2 123.4,402.2 123.3,420.2 123,428.2 122.6,435.2 122.1,439.7 121.1,445.3 120.1,447.8 119.1,448.6 118.1,448.8 117.1,448.7 113.1,447.3 111.1,447.1 108.1,447.7 106.1,448.6 104.1,450.2 102.6,452.2 101.8,454.2 101.5,456.2 50.2,456.2 50.2,406.6 53.2,406.1 55.2,405 57.2,403.3 58.8,401.2 59.9,399.2 61,396.2 61.4,394.2 61.7,388.2 62.1,387.2 62.7,386.2 64.3,385.2 68.2,384.2 73.2,383.6ZM239.6,406.2 241,405.2 241,456.2 177.8,456.2 178.7,455.2 186.4,449.2 205,435.5 213,429.3 220.3,423.2Z"/>
<path fill="#ff8300" d="M50.2,265.3 98.3,265.3 97.2,267.3 95.5,269.3 87.2,276.4 80.2,283.3 76,288.3 71.6,294.3 69.1,298.3 66.8,302.3 64.8,306.3 62.7,311.3 60.8,316.3 59.2,321.3 55.9,334.3 54.7,336.3 53.2,337.3 50.2,338ZM168.1,265.3 241,265.3 241,338.2 181.1,338.1 171.1,337.7 169.9,337.3 169.1,336.4 168.6,335.3 168.5,334.3 168.2,322.3ZM71.1,384.2 77.2,383.7 84.2,383.4 108.1,383.3 119.1,383.7 121.1,384.1 122.1,385.1 122.6,386.2 122.7,387.2 123,398.2 123,415.2 122.7,427.2 122.1,435.7 121.1,441.8 120.1,444.2 119.1,445.1 118.1,445.5 117.1,445.6 113.1,444.9 111.1,444.9 108.1,445.5 105.1,446.9 102.4,449.2 101,451.2 100.1,453.2 99.6,456.2 50.2,456.2 50.2,408.1 52.2,407.9 54.2,407.2 56.2,406 58.2,404.2 60.3,401.2 62.1,397.2 62.8,394.2 63.3,389.2 64,387.2 64.8,386.2 66.6,385.2ZM239.7,408.2 241,407.3 241,456.2 180.4,456.2 181.3,455.2 186.4,451.2 207,435.8 214,430.3 221.3,424.2Z"/>
<path fill="#ff7b00" d="M50.2,265.3 96.4,265.3 95.2,267.3 94.3,268.3 86.1,275.3 79.2,282.3 74.1,288.3 69.2,295.3 64.7,303.3 60.7,312.3 57.7,321.3 54.6,333.3 52.8,336.3 51.2,337.3 50.2,337.5ZM168.5,265.3 241,265.3 241,337.9 182.1,337.8 172.1,337.3 171.1,337.1 169.8,336.3 169.2,335.3 169,334.3 168.5,324.3ZM74.7,384.2 87.2,383.7 109.1,383.7 119.1,384.2 120.1,384.4 121.4,385.2 122,386.2 122.3,388.2 122.7,398.2 122.7,411.2 122.6,421.2 122.2,429.2 121.9,433.2 121.1,438.4 120.1,441 119.1,442.1 118.1,442.7 117.1,442.9 112.1,442.8 110.1,443.1 108.1,443.6 106.1,444.4 103.1,446.3 101.1,448.2 99.1,451.1 98.4,453.2 98,456.2 50.2,456.2 50.2,409.5 53.2,409 55.2,408.2 58,406.2 60.2,403.7 61.8,401.2 63.1,398.2 64.3,394.2 65.1,389.2 66,387.2 66.9,386.2 69,385.2ZM239.8,410.2 241,409.4 241,456.2 183,456.2 184,455.2 187.8,452.2 208,436.9 215,431.4Z"/>
<path fill="#ff7300" d="M50.2,265.3 94.4,265.3 93.8,266.3 93,267.3 84.9,274.3 77.9,281.3 72.1,288.3 67.3,295.3 63.9,301.3 60.6,308.3 58.6,313.3 56.6,319.3 53.2,332.3 51.5,335.3 50.6,336.3 50.2,336.5ZM168.8,265.3 241,265.3 241,337.5 181.1,337.4 173.1,336.9 171.1,336.4 170.1,335.5 169.6,334.3 169.3,332.3 168.9,323.3ZM80.3,384.2 95.2,384 112.1,384.2 119.1,384.7 120.4,385.2 121.1,386 121.8,388.2 122.2,395.2 122.3,419.2 122.1,425.2 121.5,432.2 121.1,434.7 120.1,437.9 119.1,439.2 117.5,440.2 116.1,440.6 112.1,440.8 109.1,441.5 105.1,443.1 102.1,445.1 99.9,447.2 97.9,450.2 96.8,453.2 96.4,456.2 50.2,456.2 50.2,410.8 53.2,410.4 56.2,409.1 58.7,407.2 61.2,404.4 63.1,401.2 64.5,398.2 65.5,395.2 66.9,389.2 67.3,388.2 68.2,387.1 69.2,386.2 71.7,385.2 76.2,384.6ZM240.1,412.2 241,411.6 241,456.2 185.7,456.2 186.7,455.2 189.2,453.2 216,432.5Z"/>
<path fill="#ff6a00" d="M50.2,265.3 92.2,265.3 91.2,266.6 82.2,274.5 76.5,280.3 70.7,287.3 65.9,294.3 61.5,302.3 57.9,310.3 54.8,319.3 51.6,331.3 51.2,332.2 50.2,333.5ZM169.2,265.3 241,265.3 241,337.1 182.1,337 173.1,336.4 172.1,336.1 170.8,335.3 170.1,333.8 169.8,332.3 169.3,323.3ZM75.2,385.2 80.2,384.8 86.2,384.5 108.1,384.5 118.1,385.1 119.1,385.4 120.4,386.2 121,387.2 121.2,388.2 121.7,393.2 121.9,399.2 122,409.2 121.8,419.2 121.5,426.2 121.1,430.2 120.1,434.5 119.1,436.2 118.1,437.2 117.1,437.8 115.8,438.2 111.1,439 108.1,440 104.1,441.9 100.9,444.2 98.9,446.2 96.8,449.2 95.6,452.2 95.2,454.2 95,456.2 50.2,456.2 50.2,412.1 53.2,411.7 55.2,411.1 58.2,409.3 60.2,407.5 62.8,404.2 65,400.2 67,395.2 68.4,390.2 69.4,388.2 70.3,387.2 71.8,386.2ZM240.6,414.2 241,414 241,456.2 188.7,456.2 190.9,454.2 217,433.9Z"/>
<path fill="#ff6200" d="M50.2,265.3 89.4,265.3 88.5,266.3 80.6,273.3 74.8,279.3 69.1,286.3 64.3,293.3 60.3,300.3 56.6,308.3 53.7,316.3 50.2,328.2ZM169.7,265.3 241,265.3 241,336.6 181.1,336.5 177,336.3 174.1,335.9 172.1,335.3 171.1,334.3 170.5,332.3 170.2,330.3 169.8,323.3ZM80.6,385.2 93.2,384.9 111.1,385 114.2,385.2 118.1,385.9 119.1,386.2 120.1,387.2 120.5,388.2 120.9,390.2 121.3,395.2 121.4,414.2 120.9,425.2 120.1,430.4 119.4,432.2 118.1,434.2 116.9,435.2 115.1,436 110.1,437.4 106.1,439.1 102.1,441.4 99.1,443.8 97,446.2 95.2,449.2 94.2,452.2 93.7,456.2 50.2,456.2 50.2,413.4 53.2,413 56.2,412 59.2,410.1 62.1,407.2 64.2,404.2 65.9,401.2 68.6,395.2 70.3,390.2 71.7,388.2 72.9,387.2 75,386.2ZM240.1,417.2 241,416.7 241,456.2 192,456.2 194.2,454.2 219,434.8Z"/>
<path fill="#ff5900" d="M50.2,265.3 86.1,265.3 78.2,272.7 73.2,277.9 67.9,284.3 63.6,290.3 60,296.3 56.5,303.3 53.9,309.3 50.2,319.4ZM170.3,265.3 241,265.3 241,336.1 183.1,335.9 175,335.3 173.1,334.6 172.1,333.8 171.1,331.3 170.6,327.3 170.4,322.3ZM79.7,386.2 84.2,385.8 90.2,385.5 109.1,385.6 116.2,386.2 118.1,386.9 119.1,387.7 120.1,390.2 120.5,393.2 120.8,398.2 120.9,405.2 120.8,414.2 120.4,421.2 120.1,424.5 119.1,428.6 118.1,430.7 117.1,431.9 116.1,432.8 109.1,435.8 104.1,438.4 100.1,441.1 97.7,443.2 95.3,446.2 93.8,449.2 92.8,452.2 92.4,456.2 50.2,456.2 50.2,414.6 53.2,414.3 56.2,413.3 59.2,411.6 61.2,410 63.6,407.2 66.3,403.2 68.9,398.2 72,391.2 73.2,389.4 74.5,388.2 76.2,387.3ZM240,420.2 241,419.6 241,456.2 195.7,456.2 197.9,454.2 221,436Z"/>
<path fill="#ff5100" d="M50.2,265.3 82.5,265.3 76.2,271.4 71.5,276.3 67.3,281.3 63.6,286.3 60.3,291.3 56.9,297.3 53.9,303.3 50.2,311.9ZM171.1,265.3 241,265.3 241,335.2 194,335.2 183.1,335 179.1,334.7 176.3,334.3 174.1,333.4 173.1,332.4 172.5,331.3 171.9,329.3 171.5,326.3 171.3,321.3ZM81.7,387.2 86.2,386.7 92.2,386.4 102.1,386.4 109.1,386.5 112.1,386.8 115.1,387.3 117.1,388.1 118.1,389.1 119.1,391.4 119.7,395.2 119.9,400.2 120,408.2 119.8,415.2 119.2,421.2 118.4,425.2 117.6,427.2 116.3,429.2 115.1,430.3 102.1,437.8 98.9,440.2 96.2,442.8 94.2,445.5 92.3,449.2 91.5,452.2 91.1,456.2 50.2,456.2 50.2,415.9 53.2,415.6 56.2,414.7 59.2,413.1 61.7,411.2 64.2,408.6 66.5,405.2 73.9,392.2 75.2,390.4 76.5,389.2 78.2,388.3ZM240.2,423.2 241,422.7 241,456.2 199.6,456.2 200.5,455.2 220,439.7Z"/>
<path fill="#ff4800" d="M50.2,265.3 78.9,265.3 69.2,275.3 65.8,279.3 62.2,284 59.3,288.3 56.3,293.3 50.2,305.1ZM172.5,265.3 241,265.3 241,333.8 185.1,333.7 179.1,333.1 176.5,332.3 175.1,331.3 174.1,329.8 173.2,327.3 172.7,321.3ZM86.2,388.2 95.2,387.8 108.1,387.9 111.1,388.2 113.1,388.7 114.7,389.2 116.1,390.2 117.4,392.2 118.1,395.2 118.5,399.2 118.6,405.2 118.4,412.2 118.1,417.2 117.1,422.2 116.1,424.7 115.1,426.3 113.2,428.2 109.3,431.2 99.1,438 97.2,439.7 95.2,441.8 92.7,445.2 91.3,448.2 90.1,452.2 89.7,456.2 50.2,456.2 50.2,417.2 53.2,416.9 56.2,416.1 59.2,414.6 61.3,413.2 63.6,411.2 66.1,408.2 73.2,397 77.2,391.8 79.2,390.2 81.2,389.3 83.2,388.8ZM240.6,426.2 241,425.9 241,456.2 203.6,456.2 205.8,454.2Z"/>
<path fill="#ff4000" d="M50.2,265.3 75.2,265.3 67.2,273.7 61,281.3 55.6,289.3 50.2,298.8ZM174.4,265.3 241,265.3 241,331.9 187.1,331.7 181.1,331.2 178.5,330.3 177.1,329.2 176.1,327.8 175.2,325.3 174.6,319.3ZM87.5,390.2 91.2,389.9 96.2,389.7 107.1,389.9 111.1,390.6 112.7,391.2 114.1,392.3 115.4,394.2 116.1,396.8 116.5,401.2 116.6,407.2 116.3,413.2 115.7,417.2 115,420.2 113.6,423.2 111.4,426.2 109.1,428.5 105.8,431.2 97.6,437.2 95.5,439.2 93.7,441.2 91.7,444.2 89.8,448.2 88.7,452.2 88.4,456.2 50.2,456.2 50.2,418.5 53.2,418.2 56.2,417.5 59.2,416.2 62.2,414.2 64.5,412.2 66.3,410.2 74.2,398.8 77.2,395.4 80.2,392.8 82.2,391.7 84.2,391ZM239.7,430.2 241,429.3 241,456.2 207.8,456.2 210,454.2Z"/>
<path fill="#ff3700" d="M50.2,265.3 71.3,265.3 64.9,272.3 59.9,278.3 55.6,284.3 50.2,292.9ZM177.1,265.3 241,265.3 241,329.2 199,329.2 189.1,329 186.1,328.8 183.1,328.3 181.1,327.5 179.6,326.3 178.9,325.3 178,323.3 177.5,320.3 177.2,316.3ZM87.4,393.2 91.2,392.7 95.2,392.5 104.1,392.6 107.1,393 109.1,393.6 110.5,394.2 111.6,395.2 112.8,397.2 113.5,400.2 113.8,404.2 113.7,409.2 113.4,413.2 112.6,417.2 111.6,420.2 110.2,423.2 108.1,426.1 106.1,428.2 96.2,436.3 94.2,438.3 91.8,441.2 90,444.2 88.3,448.2 87.3,452.2 87,456.2 50.2,456.2 50.2,419.9 53.2,419.7 56.2,418.9 59.2,417.7 62.2,415.9 65.2,413.5 67.4,411.2 74.2,401.8 76.2,399.5 78.2,397.5 80.2,396.1 82.2,394.9 85.2,393.8ZM240.4,433.2 241,432.9 241,456.2 212.2,456.2 214.3,454.2Z"/>
<path fill="#ff2f00" d="M50.2,265.3 67.4,265.3 62,271.3 58.2,275.9 50.2,287.2ZM180.1,265.3 241,265.3 241,326.2 202,326.2 192.1,326 189.1,325.8 186.1,325.3 184.1,324.5 182.6,323.3 181.9,322.3 181.1,320.3 180.5,317.3 180.3,314.3 180.1,304.3ZM87.4,396.2 91.2,395.7 95.2,395.5 99.1,395.5 103.1,395.9 105.1,396.3 107.1,397.1 108.1,397.8 109.1,399 110.1,401.2 110.4,403.2 110.7,407.2 110.5,411.2 110,415.2 109.3,418.2 108.1,421.2 107.1,423.2 105.1,425.8 102.9,428.2 96.2,433.9 94.2,435.8 92,438.2 90.2,440.8 88.3,444.2 86.7,448.2 85.8,452.2 85.5,456.2 50.2,456.2 50.2,421.4 53.2,421.2 56.2,420.5 59.2,419.4 62.9,417.2 65.5,415.2 68.6,412.2 75.2,403.7 78.2,400.6 80.2,399.1 82.2,397.9 84.2,397.1ZM239.9,437.2 241,436.5 241,456.2 216.7,456.2 218.8,454.2Z"/>
<path fill="#ff2600" d="M50.2,265.3 63.5,265.3 56.7,273.3 50.2,281.8ZM183,265.3 241,265.3 241,323.4 203,323.3 194,323.1 191.1,322.9 188.4,322.3 186.4,321.3 185.3,320.3 184.6,319.3 183.9,317.3 183.4,314.3 183.1,311.3 183,302.3ZM87.1,399.2 92.2,398.6 97.2,398.5 101.1,398.9 102.5,399.2 104.1,399.9 105.1,400.6 106.1,401.7 107.1,404.1 107.6,407.2 107.5,411.2 107,415.2 106.2,418.2 105.1,420.9 103.8,423.2 101.1,426.5 95.2,432 92.2,435.2 89.8,438.2 87.4,442.2 85.7,446.2 84.7,449.2 84,453.2 83.9,456.2 50.2,456.2 50.2,423.1 54.2,422.7 57.2,421.9 60.2,420.7 63.2,419 66.2,416.8 69,414.2 71.8,411.2 76.2,405.8 79.2,402.9 81.2,401.5 83.2,400.5ZM241,440.2 241,456.2 221.3,456.2 223.4,454.2 239,441.6Z"/>
<path fill="#ff1e00" d="M50.2,265.3 59.8,265.3 50.2,277ZM186,265.3 241,265.3 241,320.3 206,320.3 197,320.1 194,319.8 191.6,319.3 189.5,318.3 188.4,317.3 187.7,316.3 186.9,314.3 186.4,311.3 186.2,308.3 186,299.3ZM88.2,402.2 92.2,401.8 96.2,401.8 99.1,402.3 101.3,403.2 102.5,404.2 103.1,405.2 103.9,407.2 104.2,410.2 104,413.2 103.5,416.2 102.8,418.2 102,420.2 100.9,422.2 99.1,424.5 93.2,430.8 90.3,434.2 87.5,438.2 85.8,441.2 84.1,445.2 82.8,449.2 82.3,452.2 82,456.2 50.2,456.2 50.2,425 54.2,424.6 57.2,423.9 60.2,422.7 63.2,421.1 66.2,419.1 69.7,416.2 72.8,413.2 78.2,407.4 80.2,405.7 82.2,404.4 84.2,403.4ZM240.1,444.2 241,443.7 241,456.2 225.6,456.2 227.7,454.2Z"/>
<path fill="#ff1500" d="M50.2,265.3 56.6,265.3 51.2,272 50.2,272.9ZM189.6,265.3 241,265.3 241,316.7 210,316.7 201,316.6 197.8,316.3 195,315.7 193.1,314.7 192.1,313.9 191,312.3 190.4,310.3 189.8,305.3 189.6,296.3ZM87.8,406.2 91.2,405.8 94.2,405.9 96.2,406.3 97.8,407.2 98.8,408.2 99.7,410.2 99.9,412.2 99.8,414.2 99,417.2 98.2,419.2 97,421.2 87.4,434.2 84.9,438.2 83.4,441.2 81.7,445.2 80.6,449.2 79.9,453.2 79.8,456.2 50.2,456.2 50.2,427.3 53.2,427.1 56.2,426.5 59.2,425.5 63.2,423.6 66.2,421.8 69.6,419.2 81.2,409.3 84.2,407.5ZM240.3,447.2 241,446.8 241,456.2 229.4,456.2 231.6,454.2Z"/>
<path fill="#ff0d00" d="M50.2,265.3 53.4,265.3 51.2,268.1 50.2,269ZM194.5,265.3 241,265.3 241,311.8 214,311.8 205,311.6 202,311.2 200,310.8 198,309.8 197,309 195.9,307.3 195.3,305.3 194.7,300.3 194.5,292.3ZM84,413.2 86.2,412.6 88.2,412.3 90.2,412.5 91.2,413 92.2,413.9 92.7,415.2 92.9,416.2 92.7,418.2 91.7,421.2 90.2,424.2 82.8,436.2 79.7,442.2 78.6,445.2 77.5,449.2 76.9,453.2 76.7,456.2 50.2,456.2 50.2,430.5 53.2,430.3 56.2,429.8 59.2,428.8 62.2,427.5 68.2,423.8 79.2,415.8 82.2,414ZM240.5,450.2 241,449.9 241,456.2 233.3,456.2 234.2,455.2Z"/>
<path fill="#ff0400" d="M200.7,265.3 241,265.3 241,305.6 219,305.6 211,305.4 208,305 206,304.5 204,303.5 203,302.6 202.2,301.3 201.5,299.3 200.9,294.3 200.7,286.3ZM78.4,423.2 80.2,422.8 81.2,422.9 81.7,423.2 82.3,424.2 82.1,426.2 81.4,428.2 80.2,430.8 76.5,437.2 74.5,442.2 73.6,445.2 72.7,449.2 72.3,452.2 72.2,456.2 50.2,456.2 50.2,435.3 53.2,435.1 56.2,434.7 60.2,433.7 63.2,432.5 67.2,430.4 74.6,425.2 76.2,424.2ZM239.8,454.2 241,453.5 241,456.2 237.7,456.2Z"/></g>
<path d="M89.5,265.3 76.7,277.3 67.2,289M59.2,302.6 54.4,314.3 50.2,328.4M241,336.6 236,336.6M212,336.6 179.1,336.4 173.1,335.7 171.1,334.3 170.1,329.5 169.8,323.3 169.7,265.3M50.2,413.3 53.2,413 56.2,412 61.2,408.2 65.9,401.2 70.8,389.2 72.8,387.2 74.9,386.2 80.5,385.2 89.2,384.9 109.1,385 117.1,385.6 119.1,386.2 120.1,387.2 121.1,392.2 121.4,416.2 121.1,423.7 120.4,429.2M105.1,439.6 100.1,443 96.4,447.2 94.5,451.2 93.7,456.2M191.9,456.2 211,441.1M229,426.5 241,416.6" fill="none" stroke="#2f4f63" stroke-width="2" stroke-dasharray="5.5 4"/>
<path d="M50.2,456.2v3.4M88.4,456.2v3.4M126.5,456.2v3.4M164.7,456.2v3.4M202.8,456.2v3.4M241,456.2v3.4M50.2,456.2h-3.4M50.2,418h-3.4M50.2,379.8h-3.4M50.2,341.7h-3.4M50.2,303.5h-3.4M50.2,265.3h-3.4M69.3,456.2v2.2M107.4,456.2v2.2M145.6,456.2v2.2M183.8,456.2v2.2M221.9,456.2v2.2M50.2,437.1h-2.2M50.2,398.9h-2.2M50.2,360.8h-2.2M50.2,322.6h-2.2M50.2,284.4h-2.2" stroke="#000" stroke-width="1.8" fill="none"/>
<rect x="50.2" y="265.3" width="190.8" height="190.9" fill="none" stroke="#000" stroke-width="2.0"/>
<text x="50.2" y="473" font-size="15.5" text-anchor="middle" >0</text>
<text x="88.4" y="473" font-size="15.5" text-anchor="middle" >2</text>
<text x="126.5" y="473" font-size="15.5" text-anchor="middle" >4</text>
<text x="164.7" y="473" font-size="15.5" text-anchor="middle" >6</text>
<text x="202.8" y="473" font-size="15.5" text-anchor="middle" >8</text>
<text x="241" y="473" font-size="15.5" text-anchor="middle" >10</text>
<text x="44.6" y="461" font-size="15.5" text-anchor="end" >0</text>
<text x="44.6" y="422.8" font-size="15.5" text-anchor="end" >2</text>
<text x="44.6" y="384.7" font-size="15.5" text-anchor="end" >4</text>
<text x="44.6" y="346.5" font-size="15.5" text-anchor="end" >6</text>
<text x="44.6" y="308.3" font-size="15.5" text-anchor="end" >8</text>
<text x="44.6" y="270.1" font-size="15.5" text-anchor="end" >10</text>
<text x="62" y="301" font-size="16" text-anchor="middle" >0.9</text>
<text x="223.6" y="340.7" font-size="16" text-anchor="middle" >0.9</text>
<text x="117" y="442.1" font-size="16" text-anchor="middle" >0.9</text>
<text x="221.9" y="439.2" font-size="16" text-anchor="middle" >0.9</text>
<text x="15.5" y="264" font-size="15.2" text-anchor="middle" >(b)</text>
<text x="145.1" y="490" font-size="15.5" text-anchor="middle" >DC bias of Alice (V)</text>
<text transform="translate(25.8,360.8) rotate(-90)" font-size="15.5" text-anchor="middle">DC bias of Bob (V)</text>
<g><rect x="286.1" y="265.4" width="190.1" height="190.7" fill="#9cff00"/>
<path fill="#9fff00" d="M286.1,265.4 476.2,265.4 476.2,382.5 475.2,385.4 474.8,389.2 475.1,393.2 476.2,396.6 476.2,456.1 286.1,456.1Z"/>
<path fill="#a2ff00" d="M286.1,265.4 476.2,265.4 476.2,379.4 475.2,381.3 474.2,384.2 473.8,386.2 473.5,389.2 473.7,392.2 474.2,395 475.2,397.8 476.2,399.6 476.2,456.1 286.1,456.1Z"/>
<path fill="#a5ff00" d="M286.1,265.4 476.2,265.4 476.2,377 474.8,379.2 473.6,382.2 472.8,385.2 472.4,389.2 472.7,393.2 473.3,396.2 474.5,399.2 476.2,401.9 476.2,456.1 286.1,456.1Z"/>
<path fill="#a9ff00" d="M286.1,265.4 475.7,265.4 476.2,265.9 476.2,374.9 474.2,377.9 472.8,381.2 471.8,385.2 471.4,390.2 471.8,394.2 472.8,398.2 474.2,401.3 476.2,404 476.2,456.1 286.1,456.1Z"/>
<path fill="#acff00" d="M286.1,265.4 472.9,265.4 473.3,266.4 474.2,267.5 475.2,268.3 476.2,268.7 476.2,373 474.2,375.6 473.2,377.4 472.1,380.2 470.9,385.2 470.5,390.2 471,395.2 472.1,399.2 472.9,401.2 474,403.2 476.2,405.8 476.2,456.1 286.1,456.1Z"/>
<path fill="#afff00" d="M286.1,265.4 471.1,265.4 472,267.4 473.2,268.8 474.2,269.6 476.2,270.5 476.2,371.3 474.4,373.2 473.2,375.2 471.4,379.2 470.1,384.2 469.7,387.2 469.6,390.2 470,395.2 471.4,400.2 472.2,402.2 473.3,404.2 474.8,406.2 476.2,407.5 476.2,456.1 286.1,456.1Z"/>
<path fill="#b2ff00" d="M286.1,265.4 469.6,265.4 470.4,267.4 472.2,269.7 474.2,271.2 476.2,272 476.2,369.6 474.6,371.2 473.2,373.1 472.1,375.2 470.8,378.2 469.9,381.2 469.3,384.2 468.9,387.2 468.8,390.2 468.9,393.2 469.3,396.2 470.7,401.2 472.1,404.2 473.2,405.9 474.2,407.2 476.2,409.1 476.2,456.1 286.1,456.1Z"/>
<path fill="#b6ff00" d="M286.1,265.4 338.7,265.4 340.1,266.5 342.1,267.4 345.1,267.7 348.1,267.2 349.8,266.4 351.1,265.4 468.3,265.4 469.2,267.6 471.3,270.4 473.9,272.4 476.2,273.3 476.2,368 474.8,369.2 473.2,371.2 471.5,374.2 470.2,377.2 469.3,380.2 468.6,383.2 468.2,386.2 468,390.2 468.1,393.2 468.5,396.2 469.1,399.2 470.2,402.5 471.2,404.6 472.8,407.2 474.2,408.9 476.2,410.7 476.2,456.1 286.1,456.1Z"/>
<path fill="#b9ff00" d="M286.1,265.4 334.8,265.4 336.5,267.4 337.8,268.4 339.1,269.1 342.1,270 345.1,270.2 348.1,269.8 351.1,268.7 353.3,267.4 355.1,265.4 467.1,265.4 467.4,266.4 468.4,268.4 470.9,271.4 473.2,273.2 475.2,274.2 476.2,274.5 476.2,366.4 474.2,368.2 473.2,369.5 471.5,372.2 470.1,375.2 469,378.2 468,382.2 467.4,386.2 467.2,390.2 467.4,394.2 467.8,397.2 468.5,400.2 469.5,403.2 470.9,406.2 472.2,408.2 474.2,410.5 476.2,412.2 476.2,456.1 286.1,456.1Z"/>
<path fill="#bcff00" d="M286.1,265.4 332,265.4 333.1,267.3 334.1,268.4 335.4,269.4 337,270.4 340.1,271.6 344.1,272.1 348.1,271.7 350.1,271.2 352.3,270.4 354.1,269.4 355.6,268.4 357.1,266.8 358,265.4 466,265.4 466.3,266.4 467.2,268.4 468.7,270.4 470.2,272 473.2,274.4 475.2,275.3 476.2,275.6 476.2,364.8 474.2,366.6 472.2,369.1 470.4,372.2 469.2,375.2 468.2,378.2 467.2,382.3 466.6,386.2 466.4,390.2 466.6,394.2 466.9,397.2 467.9,401.2 468.9,404.2 470.4,407.2 472.2,409.9 474.2,412.1 476.2,413.6 476.2,456.1 286.1,456.1Z"/>
<path fill="#bfff00" d="M286.1,265.4 329.6,265.4 330.1,266.5 331.4,268.4 333.1,270.1 335.1,271.5 337.1,272.4 339.1,273.1 341.1,273.5 344.1,273.8 347.1,273.6 349.1,273.2 351.9,272.4 354.2,271.4 356.1,270.3 358.4,268.4 359.3,267.4 360.5,265.4 464.9,265.4 465.2,266.4 466.1,268.4 467.5,270.4 469.3,272.4 471.2,274.1 473.2,275.5 475.1,276.4 476.2,276.7 476.2,363.3 474.2,364.9 472.2,367.3 470.5,370.2 469.1,373.2 467.7,377.2 466.4,382.2 465.8,386.2 465.6,390.2 465.8,394.2 466.3,398.2 467.2,401.9 468.4,405.2 470.2,408.8 471.9,411.2 474.2,413.6 476.2,415 476.2,456.1 286.1,456.1Z"/>
<path fill="#c3ff00" d="M286.1,265.4 327.5,265.4 328.4,267.4 329.8,269.4 331.1,270.7 333.4,272.4 335.2,273.4 338.1,274.5 341.1,275.1 344.1,275.3 347.1,275.1 350.1,274.5 353.1,273.5 355.6,272.4 358.1,270.8 359.9,269.4 361.7,267.4 362.7,265.4 463.9,265.4 464.5,267.4 465.7,269.4 467.2,271.4 469.1,273.4 471.2,275.2 473.2,276.5 475.2,277.5 476.2,277.7 476.2,361.8 474.2,363.3 472.2,365.6 470.2,368.8 468.2,373.2 466.9,377.2 465.7,382.2 465.1,386.2 464.9,391.2 465.1,395.2 465.7,399.2 466.7,403.2 468.2,407 470.2,410.6 472.2,413.2 474.2,415.1 476.2,416.4 476.2,456.1 286.1,456.1Z"/>
<path fill="#c6ff00" d="M286.1,265.4 325.5,265.4 326.4,267.4 328.1,270 330.1,272 332.1,273.5 335.1,275 338.1,276 341.1,276.6 344.1,276.7 347.1,276.5 350.1,275.9 353.1,275 356.8,273.4 360,271.4 362.2,269.4 363.9,267.4 364.9,265.4 462.9,265.4 463.5,267.4 464.7,269.4 466.2,271.4 468.2,273.6 470.2,275.4 472.2,277 474.2,278.1 476.2,278.7 476.2,360.4 474.9,361.2 473.2,362.7 471.2,365.2 469.2,368.8 467.7,372.2 466.2,376.8 464.9,382.2 464.3,387.2 464.1,391.2 464.3,395.2 464.9,399.2 465.8,403.2 467.3,407.2 469.2,410.8 471.2,413.6 473.2,415.7 476.2,417.8 476.2,456.1 286.1,456.1Z"/>
<path fill="#c9ff00" d="M286.1,265.4 323.7,265.4 325,268.4 326.4,270.4 328.3,272.4 330.8,274.4 334.1,276.2 337.1,277.2 340.1,277.8 343.1,278.1 346.1,278 350.1,277.3 354.1,276.1 357.8,274.4 361,272.4 363.4,270.4 365.3,268.4 366.1,267 366.9,265.4 461.8,265.4 462.5,267.4 463.6,269.4 465.2,271.4 467.9,274.4 470.2,276.4 472.2,278 474.2,279.1 476.2,279.8 476.2,358.9 473.2,361.2 471.2,363.5 469.2,366.8 467.2,371.2 465.6,376.2 464.2,382.1 463.6,386.2 463.4,391.2 463.6,396.2 464.3,400.2 465.3,404.2 466.8,408.2 468.9,412.2 471.2,415.2 473.2,417.2 476.2,419.2 476.2,456.1 286.1,456.1Z"/>
<path fill="#cf0" d="M286.1,265.4 322,265.4 323.2,268.4 325.1,271.2 327.2,273.4 329.7,275.4 333.1,277.3 336.1,278.4 339.1,279.1 343.1,279.4 347.1,279.2 351.1,278.4 355.1,277 358.6,275.4 362.1,273.2 365.6,270.4 367.3,268.4 368.1,267.1 368.9,265.4 460.8,265.4 461.5,267.4 462.6,269.4 464.2,271.4 467.2,274.7 470.2,277.4 472.2,279 474.2,280.1 476.2,280.8 476.2,357.4 473.6,359.3 471.2,361.8 469.2,364.9 467.1,369.2 465.2,374.8 463.6,381.2 462.9,386.2 462.6,391.2 462.9,396.2 463.4,400.2 464.7,405.2 466.2,409.2 468.2,412.8 470.6,416.2 473.2,418.7 476.2,420.6 476.2,456.1 286.1,456.1Z"/>
<path fill="#cfff00" d="M286.1,265.4 320.3,265.4 321.5,268.4 323.4,271.4 326.1,274.3 328.8,276.4 332.1,278.3 335.1,279.5 339.1,280.4 343.1,280.7 347.1,280.4 351.1,279.6 356.1,277.9 360.1,275.9 364.1,273.4 367.7,270.4 369.3,268.4 370.1,267 370.8,265.4 459.8,265.4 460.5,267.4 461.6,269.4 464,272.4 466.9,275.4 470.2,278.4 472.2,280 474.2,281.1 476.2,281.8 476.2,355.9 473.2,358 471.1,360.3 469,363.2 466.7,368.2 464.9,373.2 463.1,380.2 462.1,386.2 461.9,391.2 462.1,396.2 462.8,401.2 464.1,406.2 465.7,410.2 467.9,414.2 470.2,417.3 473.2,420.1 476.2,422 476.2,456.1 286.1,456.1Z"/>
<path fill="#d3ff00" d="M286.1,265.4 318.6,265.4 319.8,268.4 322.1,272.1 325.1,275.3 327.8,277.4 331.1,279.3 335.1,280.9 339.1,281.8 343.1,282 347.1,281.7 352.1,280.6 357.1,278.8 361.1,276.8 365.1,274.2 368.7,271.4 371.3,268.4 372.7,265.4 458.7,265.4 459.4,267.4 460.6,269.4 463.1,272.4 466.2,275.6 469.2,278.5 472.2,281 474.2,282.2 476.2,282.8 476.2,354.4 473.2,356.5 470.2,359.7 468.2,362.8 466.2,367.1 464.1,373.2 462.1,381.2 461.4,386.2 461.1,392.2 461.4,397.2 462.2,402.2 463.6,407.2 465.2,411.2 467.4,415.2 470.2,418.9 473.2,421.6 476.2,423.4 476.2,456.1 286.1,456.1Z"/>
<path fill="#d6ff00" d="M286.1,265.4 317,265.4 318.7,269.4 320.6,272.4 323.3,275.4 327.1,278.5 331.1,280.8 335.1,282.3 339.1,283.1 343.1,283.4 347.1,283 352.1,281.9 357.1,280.1 362.1,277.5 367.1,274.4 370.8,271.4 373.3,268.4 374.6,265.4 457.6,265.4 458.4,267.4 459.6,269.4 462.1,272.4 466.2,276.6 469.2,279.5 472.2,282 474.2,283.2 476.2,283.9 476.2,352.9 473.2,354.9 470.2,358 468,361.2 466,365.2 463.6,372.2 461.6,380.2 460.6,386.2 460.3,392.2 460.6,397.2 461.3,402.2 462.7,407.2 464.6,412.2 467.2,416.7 469.9,420.2 473.2,423.1 476.2,424.9 476.2,456.1 286.1,456.1Z"/>
<path fill="#d9ff00" d="M286.1,265.4 315.5,265.4 317.1,269.4 319.1,272.7 322.4,276.4 326.1,279.4 330.1,281.8 334.1,283.4 338.1,284.4 342.1,284.7 347.1,284.4 352.1,283.2 357.1,281.4 362.1,278.9 367.9,275.4 371.8,272.4 373.8,270.4 375.3,268.4 376.6,265.4 456.5,265.4 457.3,267.4 459.3,270.4 466.2,277.5 470.2,281.4 472.2,283 474.2,284.3 476.2,285 476.2,351.4 473.2,353.3 470.2,356.3 467.5,360.3 465.5,364.2 462.8,372.2 460.8,380.2 459.9,386.2 459.5,392.2 459.9,398.2 460.7,403.2 462.1,408.2 464.2,413.4 466.3,417.2 469.3,421.2 472.2,423.9 474.2,425.3 476.2,426.3 476.2,456.1 286.1,456.1Z"/>
<path fill="#dcff00" d="M286.1,265.4 313.9,265.4 315.5,269.4 318,273.4 321.1,276.9 325.1,280.3 329.1,282.8 333.1,284.5 337.1,285.6 342.1,286.1 347.1,285.8 350.1,285.2 353.1,284.3 359.1,281.7 365.3,278.4 370.1,275.4 372.7,273.4 375,271.4 377.4,268.4 378.6,265.4 455.4,265.4 456.1,267.4 458.2,270.4 468.2,280.5 471.2,283.3 473.2,284.8 475.2,285.8 476.2,286.1 476.2,349.8 473.2,351.6 470.2,354.6 467.2,358.8 464.9,363.2 462,372.2 460.1,380.2 459.1,386.2 458.7,392.2 459,398.2 459.8,403.2 461.4,409.2 463.5,414.2 466.2,418.9 469.2,422.8 472.2,425.5 474.2,426.8 476.2,427.9 476.2,456.1 286.1,456.1Z"/>
<path fill="#e0ff00" d="M286.1,265.4 312.3,265.4 313.9,269.4 316.3,273.4 319.7,277.4 324.1,281.2 329.1,284.3 333.1,286.1 337.1,287.1 342.1,287.5 347.1,287.1 350.1,286.5 353.1,285.7 359.1,283.1 367.1,278.7 372.3,275.4 375,273.4 377.1,271.4 379.5,268.4 380.7,265.4 454.2,265.4 455,267.4 457.1,270.4 469.2,282.5 471.2,284.4 473.2,286 475.2,287 476.2,287.3 476.2,348.1 473.2,349.9 469.9,353.3 467,357.3 464.2,362.7 462.9,366.2 461.2,372.2 459.1,381.2 458.2,387.2 457.9,393.2 458.3,399.2 459.4,405.2 460.8,410.2 463.2,415.8 466.2,420.8 469.2,424.5 472.2,427.1 474.2,428.4 476.2,429.4 476.2,456.1 286.1,456.1Z"/>
<path fill="#e3ff00" d="M286.1,265.4 310.8,265.4 311.5,267.4 312.9,270.4 315.4,274.4 319.1,278.6 321.1,280.4 324.1,282.8 328.1,285.4 332.6,287.4 337.1,288.5 342.1,288.9 345.1,288.7 348.1,288.3 351.1,287.6 354.1,286.7 359.1,284.5 368.4,279.4 374.7,275.4 378.4,272.4 380.9,269.4 382.1,267.4 382.7,265.4 453,265.4 453.3,266.4 454.4,268.4 456.9,271.4 463.2,277.3 471.2,285.5 474.2,287.7 476.2,288.5 476.2,346.4 473.2,348.2 471.2,350 469.2,352.3 466.2,356.7 463.4,362.2 460.6,371.2 458.3,381.2 457.4,387.2 457.1,393.2 457.5,400.2 458.6,406.2 460.5,412.2 462.7,417.2 465.8,422.2 469.1,426.1 472.2,428.8 474.2,430.1 476.2,431 476.2,456.1 286.1,456.1Z"/>
<path fill="#e6ff00" d="M286.1,265.4 309.2,265.4 309.9,267.4 311.3,270.4 314.1,274.8 318.1,279.4 323.1,283.8 327.1,286.5 329.1,287.5 332.1,288.7 337.1,289.9 342.1,290.3 345.1,290.1 348.1,289.7 352.1,288.7 355.1,287.7 360.1,285.4 370.1,279.8 377.1,275.4 380.1,272.9 381.6,271.4 383.1,269.4 384.2,267.4 384.9,265.4 451.8,265.4 452.5,267.4 453.2,268.4 455.8,271.4 463.2,278.2 471.2,286.7 474.2,288.9 476.2,289.7 476.2,344.6 473.2,346.4 471.2,348.2 469.2,350.5 465.9,355.3 462.8,361.2 461.7,364.2 459.7,371.2 457.4,381.2 456.5,387.2 456.2,393.2 456.6,400.2 457.7,406.2 459.5,412.2 462.1,418.2 465.1,423.2 468.3,427.1 470.2,428.9 472.2,430.5 474.2,431.8 476.2,432.7 476.2,456.1 286.1,456.1Z"/>
<path fill="#e9ff00" d="M286.1,265.4 307.6,265.4 308.7,268.4 309.7,270.4 312.9,275.4 317.1,280.2 322.1,284.7 326.1,287.5 328.1,288.6 331.1,289.9 336.1,291.2 341.1,291.6 344.1,291.5 348.1,291 351.1,290.3 354.3,289.4 360.1,286.8 370.1,281.2 378.1,276.5 381.9,273.4 383.8,271.4 385.3,269.4 386.5,267.4 387.1,265.4 450.4,265.4 451.2,267.4 453.5,270.4 462.5,278.4 471.2,287.9 474.2,290.2 476.2,291 476.2,342.7 474.2,343.8 472.2,345.4 470.2,347.4 468.2,349.9 464.7,355.3 461.8,361.2 460.7,364.2 458.9,371.2 456.6,381.2 455.6,387.2 455.3,393.2 455.6,400.2 456.6,406.2 458.7,413.2 461.2,418.8 464.3,424.2 466.2,426.7 468.2,428.9 470.2,430.8 472.2,432.3 474.2,433.5 476.2,434.5 476.2,456.1 286.1,456.1Z"/>
<path fill="#edff00" d="M286.1,265.4 305.9,265.4 308.1,270.4 309.9,273.4 312.1,276.4 316.5,281.4 322,286.4 326.1,289.1 328.6,290.4 331.1,291.4 336.1,292.6 341.1,293 344.1,292.9 348.1,292.4 352.1,291.4 356.1,290.1 361.1,287.8 377.1,278.8 381.1,276.1 385.3,272.4 387,270.4 388.3,268.4 389.5,265.4 449,265.4 449.9,267.4 452.2,270.4 462.2,279 465.4,282.4 469.2,287.1 472.2,290.1 474.2,291.6 476.2,292.4 476.2,340.6 474.2,341.7 472.2,343.4 470.2,345.4 468.2,347.9 466.2,350.8 464.1,354.3 460.7,361.2 459.8,364.2 457.7,372.2 455.5,382.2 454.6,388.2 454.3,394.2 454.8,401.2 455.8,407.2 457.6,413.2 458.7,416.2 460.6,420.2 462.3,423.2 464.2,426.1 466.2,428.7 468.2,430.9 470.2,432.7 472.2,434.2 474.2,435.4 476.2,436.3 476.2,456.1 286.1,456.1Z"/>
<path fill="#f0ff00" d="M286.1,265.4 304.2,265.4 306.5,270.4 308.3,273.4 310.4,276.4 313.1,279.7 316.1,282.9 321.1,287.5 325.4,290.4 330.1,292.5 335.1,293.9 338.1,294.3 341.1,294.4 344.1,294.3 348.1,293.7 352.1,292.8 356.1,291.5 361.1,289.2 378.1,280 380.1,278.7 383.3,276.4 387.7,272.4 389.4,270.4 390.8,268.4 392,265.4 447.5,265.4 448.4,267.4 450.9,270.4 453.1,272.4 459.2,277.1 461.7,279.4 464.5,282.4 469.2,288.3 472.2,291.5 474.2,293 476.2,293.9 476.2,338.4 474.2,339.5 472.2,341.2 470.2,343.4 468.2,345.9 465.9,349.3 463.4,353.3 460.1,360.3 458.5,365.2 456.5,373.2 454.6,382.2 453.7,388.2 453.4,394.2 453.8,401.2 454.9,408.2 456.7,414.2 459.8,421.2 463.2,426.9 465.2,429.7 467.2,432 469.2,433.9 471.2,435.6 473.2,436.9 476.2,438.3 476.2,456.1 286.1,456.1Z"/>
<path fill="#f3ff00" d="M286.1,265.4 302.4,265.4 304.8,270.4 306.6,273.4 308.8,276.4 314.1,282.7 319.1,287.6 323.1,290.6 325.1,291.9 328.1,293.3 333.1,294.9 338.1,295.7 341.1,295.8 345.1,295.5 349.1,294.9 353.1,293.9 359.1,291.6 369.1,286.6 380.1,280.6 385.8,276.4 389.2,273.4 392,270.4 394.1,267.4 394.8,265.4 445.8,265.4 446.8,267.4 449.4,270.4 451.7,272.4 459.2,278 461.8,280.4 464.4,283.4 468.2,288.4 471.2,291.9 474.2,294.6 476.2,295.5 476.2,336 474.2,337.2 472.2,338.9 470.2,341.2 467.2,345.2 464.6,349.3 462.2,353.3 460.3,357.3 458.6,361.2 457.7,364.2 455.6,373.2 453.1,385.2 452.7,389.2 452.4,393.2 452.6,400.2 453.6,407.2 455.1,413.2 457.4,419.2 460.5,425.1 464.2,430.7 468.2,435.2 472.2,438.4 474.2,439.6 476.2,440.5 476.2,456.1 286.1,456.1Z"/>
<path fill="#f6ff00" d="M286.1,265.4 300.6,265.4 303,270.4 307.1,276.4 313.1,283.6 318.1,288.6 322.1,291.7 327.1,294.5 332.1,296.2 337.1,297.1 341.1,297.2 345.1,297 350.1,296.1 354.1,294.9 360.1,292.6 378.1,283.6 381.1,281.8 385.2,278.9 388.4,276.4 391.9,273.4 395.7,269.4 397.1,267.4 397.9,265.4 443.9,265.4 445,267.4 447.8,270.4 451.6,273.4 458.2,278 461.2,280.7 463.6,283.4 471.2,293.5 474.2,296.3 476.2,297.4 476.2,333.3 474.2,334.5 472.2,336.4 470.2,338.8 467.2,343 461.6,352.3 459.6,356.3 457.4,361.2 456.6,364.2 454.8,372.2 452.2,385.2 451.4,393.2 451.6,401.2 452.6,408.2 454.5,415.2 456.9,421.2 460.1,427.1 464.2,433.2 468.2,437.6 472.2,440.8 474.2,442 476.2,442.9 476.2,456.1 286.1,456.1Z"/>
<path fill="#faff00" d="M286.1,265.4 298.6,265.4 301.2,270.4 305.3,276.4 312.9,285.4 318,290.4 322.1,293.5 327.1,296.1 332.1,297.8 337.1,298.6 341.1,298.7 345.1,298.4 349.1,297.7 354.1,296.3 360.1,294 378.1,285.6 380.1,284.5 386.2,280.2 394.8,273.4 398.1,270.4 399.8,268.4 401.1,266.4 401.5,265.4 441.7,265.4 442.9,267.4 446,270.4 457.2,278.2 460.9,281.4 463.4,284.4 469.2,292.5 472.2,296.4 474.2,298.4 476.2,299.6 476.2,330.1 474.2,331.5 472.2,333.6 470.2,336.2 467.2,340.7 460.3,352.3 457.9,357.3 456.2,361.2 455.4,364.2 451.7,382.2 451.1,386.2 450.4,394.2 450.6,402.2 451.6,409.2 453.4,416.2 455.8,422.2 459,428.1 463.2,434.6 467.2,439.3 471.2,442.8 474.2,444.7 476.2,445.7 476.2,456.1 286.1,456.1Z"/>
<path fill="#fdff00" d="M286.1,265.4 296.4,265.4 299.9,271.4 304.3,277.4 312.1,286.6 317.1,291.5 321.1,294.6 326.1,297.4 331.1,299.1 336.1,300 340.1,300.2 344.1,300 349.1,299.1 353.1,298.1 359.1,295.9 373.1,289.6 379.1,287.2 382.2,285.4 400.5,271.4 403.8,268.4 405.4,266.4 405.9,265.4 439,265.4 440.4,267.4 442.6,269.4 445.4,271.4 456.2,278.3 458.2,279.8 460.2,281.6 463.3,285.4 472.2,298.5 474.2,300.8 476.2,302.3 476.2,326.3 474.2,328 472.2,330.5 467.2,338.2 459,352.3 456.6,357.3 455,361.2 450.7,382.2 449.9,387.2 449.3,395.2 449.5,403.2 450.3,409.2 451.7,415.2 453.8,421.2 456,426.1 458.9,431.1 461.2,434.8 463.6,438.1 466.2,441.2 468.2,443.3 471.2,445.9 474.2,447.9 476.2,448.9 476.2,456.1 286.1,456.1Z"/>
<path fill="#fffe00" d="M286.1,265.4 294,265.4 296.5,269.4 299.3,273.4 309.2,285.4 314.1,290.7 319.1,295 323.1,297.6 327.1,299.5 331.1,300.8 336.1,301.6 340.1,301.7 344.1,301.5 348.1,300.8 352.1,299.8 357.1,298.2 372.1,291.8 378.1,289.7 380.1,288.8 384.2,286.2 396.2,277.1 407.5,269.4 410,267.4 411.7,265.4 435.2,265.4 436,266.4 438.4,268.4 454.2,277.9 457.8,280.4 460,282.4 462.2,285.1 465.1,289.4 474.2,304.1 476.2,306.3 476.2,321 474.2,323.5 472.2,326.7 458.7,350.3 456.1,355.3 454.1,360.3 453.3,363.2 452.4,369.2 449.5,383.2 448.7,388.2 448.1,396.2 448.4,404.2 449.3,411.2 450.8,417.2 452.9,423.2 455.6,429.1 460.5,437.1 463.2,440.9 466.2,444.7 469.2,447.9 471.2,449.6 474.2,451.8 476.2,452.9 476.2,456.1 286.1,456.1Z"/>
<path fill="#fffb00" d="M286.1,265.4 291.2,265.4 296.4,272.4 309.1,287.5 313.7,292.4 318.1,296.2 322.1,298.9 326.1,300.9 330.1,302.3 335.1,303.2 339.1,303.3 343.1,303.1 347.1,302.5 351.1,301.6 357.1,299.7 364.1,296.6 372.1,293.5 380.1,291 383,289.4 385.9,287.4 392,282.4 396.2,279.3 403.2,274.9 409.2,271.6 415.2,268.8 420.2,266.7 423.2,265.8 426.2,265.7 429.2,266.6 435.2,269 441.2,271.7 447.2,274.7 452.2,277.5 456.5,280.4 459.2,282.6 461.5,285.4 464.8,290.4 467.7,295.4 470.8,301.3 472.5,305.3 473.8,309.3 474.3,312.3 474.2,314.3 473.7,317.3 472.7,320.3 469.7,327.3 463.6,339.3 455.6,353.3 453.9,357.3 452.5,361.2 452,363.2 451.2,369.2 448.2,384.2 447.5,389.2 446.9,397.2 447.1,405.2 447.9,411.2 449.4,418.2 451.4,424.2 454.2,430.5 458.6,438.1 464.2,446.4 468.2,451.4 472.8,456.1 286.1,456.1Z"/>
<path fill="#fff800" d="M286.1,265.4 287.6,265.4 301.1,280.3 309.7,290.4 313.1,293.9 316.1,296.6 320.1,299.6 325.1,302.3 329.1,303.8 334.1,304.8 338.1,305 342.1,304.8 346.1,304.3 350.1,303.4 356.1,301.6 364.1,298.2 372.1,295.2 380.1,293.1 383.2,291.5 386.5,289.4 389.2,287.4 396.2,281.5 399.3,279.4 403.2,277.1 408.2,274.6 413.2,272.5 418.2,270.9 422.2,270.1 426.2,269.7 430.2,270 434.2,270.8 439.2,272.3 445.2,274.8 450.2,277.3 455.2,280.4 457.2,281.9 458.9,283.4 461.2,286.4 464.5,291.4 467.2,296.4 469.4,301.3 470.7,305.3 471.6,309.3 471.8,312.3 471.6,315.3 470.8,319.3 469.9,322.3 467.1,329.3 462.2,339.3 454.7,352.3 452.9,356.3 451.5,360.3 450.8,363.2 450.1,369.2 448.7,377.2 447.1,384.2 446.3,389.2 445.6,397.2 445.7,404.2 446.2,410.2 447.3,416.2 448.8,422.2 450.9,428.1 453.2,433.2 455.8,438.1 466.7,456.1 286.1,456.1Z"/>
<path fill="#fff400" d="M286.1,268.4 286.1,268.1 289.1,270.6 295.1,276.3 300.1,281.5 310.1,293 314.1,296.9 317.1,299.5 321.1,302.2 325.1,304.3 329.1,305.6 334.1,306.6 337.1,306.7 341.1,306.6 345.1,306.1 349.1,305.3 356.1,303.1 364.1,299.7 372.1,296.9 380.1,295.2 384.2,293.2 388.2,290.7 391.2,288.4 398.2,282.4 403.2,279.3 407.2,277.2 412.2,275.1 416.2,273.8 421.2,272.6 426.2,272 430.2,272 435.2,272.6 439.2,273.6 445.2,275.8 450.2,278.2 455.2,281.3 458.2,283.9 461,287.4 463.5,291.4 465.7,295.4 467.8,300.3 469,304.3 469.8,308.3 470,311.3 469.8,315.3 469,319.3 468.2,322.3 466.8,326.3 465.2,330.3 460.7,339.3 453.1,352.3 451.4,356.3 450.1,360.3 449.5,363.2 448.8,370.2 447.5,377.2 445.8,385.2 444.9,390.2 444.4,396.2 444.2,403.2 444.5,409.2 445.3,415.2 446.5,421.2 448.2,426.8 449.7,431.1 451.8,436.1 458.9,450.1 461.5,456.1 286.1,456.1Z"/>
<path fill="#fff100" d="M286.1,272.4 286.1,271.7 288.1,273 291.1,275.3 295.1,278.8 299.1,282.8 310.1,295.2 314.1,299.1 317.1,301.6 321.1,304.3 325.1,306.3 329.1,307.6 334.1,308.4 337.1,308.6 341.1,308.4 345.1,307.8 349.1,307 355.1,305.1 364.1,301.3 372.1,298.7 374.1,298.2 379.1,297.5 381.1,296.9 385.2,294.9 389.2,292.4 400.3,283.4 405.1,280.4 409.2,278.4 413.2,276.8 418.2,275.2 422.2,274.3 427.2,273.7 432.2,273.7 436.2,274.2 441.2,275.4 446.2,277.2 451.2,279.7 455.2,282.4 458.2,285.1 460.7,288.4 463.2,292.4 465.1,296.4 466.7,300.3 467.8,304.3 468.4,308.3 468.5,311.3 468.2,315.3 467.7,318.3 466.7,322.3 465.3,326.3 463.7,330.3 459.8,338.3 452.1,351.3 450.3,355.3 449,359.3 448.3,362.2 447.7,369.2 446.7,375.2 444.5,385.2 443.6,390.2 442.9,396.2 442.6,402.2 442.7,408.2 443.2,413.2 443.8,418.2 445.1,424.2 447.7,433.1 454.2,450.1 455.9,456.1 286.1,456.1Z"/>
<path fill="#fe0" d="M286.1,275.4 286.1,274.8 289.1,276.5 292.1,278.7 295.1,281.3 298.1,284.3 310.1,297.5 314.1,301.4 318.1,304.6 322.1,307.1 326.1,308.8 330.1,309.9 334.1,310.5 337.1,310.5 341.1,310.2 348.1,309 355.1,306.8 364.1,303 367.1,302 373.1,300.2 379.1,299.5 381.1,299 385.2,297.1 389.2,294.8 393.8,291.4 402.5,284.4 407.1,281.4 410.2,279.9 414.2,278.3 418.2,277 422.2,276 427.2,275.3 432.2,275.1 437.2,275.6 442.2,276.8 447.2,278.6 451.2,280.7 455.1,283.4 458.2,286.5 460.2,289.1 462.2,292.4 464.2,296.4 465.6,300.3 466.6,304.3 467,307.3 467.2,311.3 466.8,315.3 466.3,318.3 465.3,322.3 463.9,326.3 462.3,330.3 459.2,336.6 453.9,345.3 451,350.3 449.2,354.3 447.8,358.3 446.8,362.2 446.5,369.2 445.4,376.2 443.2,385.2 442.1,391.2 441.4,396.2 441,401.2 441,410.2 441.3,415.2 441.9,420.2 443.7,429.1 448.6,448.1 449.3,452.1 449.5,456.1 286.1,456.1Z"/>
<path fill="#ffeb00" d="M423.2,277.4 427.2,276.7 431.2,276.4 435.2,276.5 438.2,276.9 442.2,277.8 446.2,279.2 449.2,280.6 452.3,282.4 454.8,284.4 457.7,287.4 459.3,289.4 461.2,292.4 462.7,295.4 464.3,299.3 465.3,303.3 465.8,306.3 466,310.3 465.5,315.3 464.5,320.3 462.5,326.3 461.2,329.6 459.2,333.7 452.2,345.3 449.4,350.3 448,353.3 446.6,357.3 445.4,362.2 445.2,369.2 444.1,376.2 441.6,386.2 440.3,393.2 439.6,398.2 439.1,404.2 438.9,409.2 439,414.2 439.8,424.2 442.6,441.1 443.2,446.1 443.3,451.1 443,454.1 442.5,456.1 286.1,456.1 286.1,277.7 288.1,278.7 291.1,280.6 295.1,283.9 299.1,287.9 311.1,301 315.1,304.7 318.1,307 321.1,308.9 323.1,309.9 327.1,311.5 331.1,312.3 336.1,312.6 342.1,312.1 348.1,310.8 355.1,308.5 363.1,305.1 367.1,303.7 373.1,302 379.1,301.6 382.2,300.7 386.2,298.8 390.2,296.5 405.2,285 409.2,282.4 412.2,280.9 416.1,279.4 420.2,278.1Z"/>
<path fill="#ffe700" d="M425.6,278.4 429.2,277.9 432.2,277.7 436.2,277.8 439.2,278.2 443.2,279.1 446.2,280.2 449.2,281.6 452,283.4 454.2,285.2 457.3,288.4 459.2,290.8 460.7,293.4 462.2,296.4 463.6,300.3 464.3,303.3 464.7,307.3 464.7,311.3 464.1,316.3 463.2,320.3 461.5,325.3 460.2,328.5 458.2,332.5 451.1,344.3 447.3,351.3 445.3,356.3 444,361.2 443.8,363.2 443.8,369.2 443,375.2 442.4,378.2 440.4,385.2 438.8,392.2 437.8,398.2 437,404.2 436.6,411.2 436.5,418.2 436.8,425.1 437.6,438.1 437.7,444.1 437.4,447.1 436.8,450.1 435.9,453.1 434.4,456.1 286.1,456.1 286.1,280.5 290.1,282.6 292.1,284 295.1,286.6 299.1,290.5 311.1,303.5 315.1,307.2 318.1,309.6 322.1,312 326.1,313.6 330.1,314.6 335.1,314.9 340.1,314.5 346.1,313.3 354.1,310.8 363.1,306.8 366.1,305.7 373.1,303.9 380.1,303.5 383.2,302.4 387.2,300.5 390.2,298.7 406.2,286.9 411.4,283.4 414.2,281.9 418.1,280.4 422.2,279.1Z"/>
<path fill="#ffe400" d="M427.7,279.4 431.2,278.9 434.2,278.8 438.2,279.1 441.2,279.6 444.2,280.5 447.2,281.6 449.2,282.7 451.7,284.4 454.2,286.6 457.2,289.8 459.2,292.5 460.7,295.4 462.2,299.2 463,302.3 463.5,305.3 463.7,309.3 463.4,313.3 462.7,317.3 461.6,321.3 460.1,325.3 457.7,330.3 451.1,341.3 446.6,349.3 444.7,353.3 443.1,358.3 442.3,362.2 442.4,369.2 441.4,376.2 440.7,379.2 438.3,387.2 436.8,393.2 435.6,399.2 434.5,406.2 433.6,415.2 432.7,434.1 431.9,441.1 431.2,444.5 429.9,448.1 428.4,451.1 426.4,454.1 424.7,456.1 286.1,456.1 286.1,283.4 288.1,284.3 290.1,285.4 292.1,286.8 295.1,289.3 300.1,294.3 311.1,306.3 315.1,310 318.1,312.4 322.1,314.8 326.1,316.4 330.1,317.2 334.1,317.4 337.1,317.2 341.1,316.6 348.1,314.9 354.1,312.7 363.1,308.6 367.1,307.2 373.1,305.7 380.1,305.5 384.2,304.1 387.2,302.7 390.2,301 407.2,288.6 414.2,284 417.2,282.5 420.2,281.3 424.2,280.1Z"/>
<path fill="#ffe100" d="M429.7,280.4 433.2,280.1 436.2,280.1 439.2,280.3 442.2,280.9 445.2,281.9 448.2,283.3 450.2,284.6 452.3,286.4 454.4,288.4 457.2,291.5 459.1,294.4 460.2,296.6 461.2,299.3 462.1,303.3 462.5,306.3 462.5,310.3 462.2,313.3 461.4,317.3 460.2,321.3 459.1,324.3 457.1,328.3 445.5,348.3 443.5,352.3 442,356.3 440.8,361.2 440.7,363.2 441,369.2 440,376.2 439.2,379.2 435.4,391.2 432.7,402.2 430.8,411.2 428.1,428.1 426.7,435.1 425.5,439.1 423.9,443.1 422.2,446.4 419.5,450.1 416.8,453.1 413.6,456.1 286.1,456.1 286.1,286.5 288.1,287.3 291.1,289 293.1,290.5 296.1,293 300.1,297 312.1,310.3 315.1,313.2 318.1,315.6 321.1,317.4 325.1,319.1 329.1,320 334.1,320.1 340.1,319.3 347.1,317.4 354.1,314.7 363.3,310.3 367.1,309 373.1,307.6 380.1,307.6 384.2,306.2 387.2,304.9 390.2,303.1 408.2,290.2 413.2,286.8 417.2,284.4 420.2,283 423.2,281.9 426.2,281.1Z"/>
<path fill="#ffde00" d="M432,281.4 435.2,281.2 438.2,281.4 441.2,281.8 444.2,282.7 446.2,283.5 449.2,285.3 451.7,287.4 453.8,289.4 456.2,292.2 457.8,294.4 459.2,297 460.1,299.3 460.9,302.3 461.3,305.3 461.4,308.3 461.2,311.7 460.1,317.3 459.2,320.2 457.9,323.3 455.3,328.3 444.3,347.3 442.2,351.3 440.9,354.3 440,357.3 439.1,361.2 439.1,363.2 439.5,367.2 439.5,369.2 438.6,375.2 438,378.2 434.7,387.2 431.8,396.2 423.5,424.2 421.2,431.2 419.2,436.1 417.2,439.9 415.2,443.1 412.2,447.1 408.4,451.1 402.8,456.1 286.1,456.1 286.1,289.7 288.1,290.4 291.1,292 293.1,293.4 296.1,296 301.1,301.1 312.1,313.8 315.1,316.8 318.1,319.2 321.1,321 325.1,322.5 328.1,323.1 332.1,323.2 335.1,323 338.1,322.5 342.1,321.4 346.1,320.1 353.1,317.3 363.1,312.3 366.1,311.2 373.1,309.5 380.1,309.6 385.2,307.9 390.2,305.2 409.2,291.6 418.2,286 421.2,284.4 425.2,282.8 428.2,282Z"/>
<path fill="#ffda00" d="M428.6,283.4 432.2,282.7 435.2,282.5 438.2,282.6 441.2,283 444.2,284 446.2,284.9 448.5,286.4 451.2,288.5 454,291.4 456.3,294.4 458.1,297.3 458.9,299.3 459.7,302.3 460.1,305.3 460.2,309 459.9,312.3 458.7,317.3 456.7,322.3 453.5,328.3 442,348.3 440.4,351.3 439.2,354.3 438.2,357.3 437.4,361.2 437.4,363.2 437.9,367.2 437.9,369.2 437.2,374.2 436.6,377.2 436,379.2 423.2,411.2 418.2,422.8 414.2,431.1 410,438.1 405.5,444.1 400.1,450.1 393.9,456.1 286.1,456.1 286.1,293.1 288.1,293.7 291.1,295.2 293.1,296.6 296.1,299.1 301.1,304.5 312.1,318 315.1,321.1 317.1,322.7 320.1,324.7 323.1,325.9 327.1,326.7 331.1,326.7 334.1,326.3 337.1,325.7 341.1,324.5 345.1,323.1 352.1,320.1 363.1,314.3 366.1,313.1 373.1,311.4 378.1,311.7 380.1,311.7 383.2,310.7 386.2,309.5 389.2,307.9 391.2,306.6 407.2,295.1 415.2,289.8 422.2,285.9 425.5,284.4Z"/>
<path fill="#ffd700" d="M431.1,284.4 434.2,283.9 437.2,283.8 440.2,284.2 442.2,284.7 445.2,285.9 447.2,287 450.2,289.3 452.2,291.3 454.2,293.7 456,296.4 457.2,298.6 458.2,301.3 458.8,304.3 458.9,307.3 458.8,310.3 458.2,313.7 456.7,318.3 453.9,324.3 440.8,347.3 437.7,353.3 436.4,357.3 435.6,361.2 435.6,363.2 436.2,367.2 436.3,369.2 435.6,374.2 434.9,377.2 433.2,381.6 425.2,398.6 420.2,408.4 415.2,417.5 410.8,425.1 406.5,432.1 400.1,441.1 390.2,452.7 387.7,456.1 286.1,456.1 286.1,296.8 288.1,297.2 291.1,298.7 294.1,300.8 296.8,303.3 301.9,309.3 311.1,322 314.1,325.4 316.1,327.2 319.1,329.1 322.1,330.3 325.1,330.8 329.1,330.8 332.1,330.3 335.1,329.6 339.1,328.3 343.1,326.7 353.1,321.9 363.1,316.2 366.1,315 373.1,313.4 378.1,313.7 380.1,313.7 383.2,312.8 386.2,311.5 389.2,310 391.2,308.7 407.2,297.1 416.2,291.1 420.2,288.8 424.2,286.8 428.2,285.2Z"/>
<path fill="#ffd400" d="M429.9,286.4 433.2,285.6 436.2,285.4 439.2,285.6 441.2,286 444.2,287 446.2,288 448.2,289.4 450.4,291.4 452.2,293.4 454.4,296.4 455.5,298.3 456.6,301.3 457.3,304.3 457.5,307.3 457.3,310.3 456.7,313.3 454.9,318.3 452.1,324.3 448.8,330.3 437.9,349.3 435.5,354.3 434.5,357.3 433.7,361.2 433.8,363.2 434.6,368.2 434.5,370.2 433.4,376.2 432.8,378.2 431.9,380.2 424.2,394.6 416.2,407.9 400.9,431.1 389.2,447 383.9,456.1 286.1,456.1 286.1,300.9 288.1,301.2 291.1,302.6 294.1,304.8 297.1,307.8 299.2,310.3 302,314.3 310.1,327.5 312.1,330.1 314.1,332.2 316.1,333.6 319.1,335 322.1,335.6 326.1,335.6 329.1,335.1 333.1,333.9 337.1,332.4 341.1,330.7 350.1,326 363.1,318.3 365.1,317.4 368.1,316.4 373.1,315.3 378.1,315.7 380.1,315.7 383.2,314.8 386.2,313.6 389.2,312 391.2,310.6 407.2,299 416.2,292.9 423.2,289 426.2,287.7Z"/>
<path fill="#ffd100" d="M432.6,287.4 435.2,287 438.2,287 441.2,287.5 443.2,288.2 445.2,289.1 447.2,290.4 449.2,292.1 451.2,294.3 452.6,296.4 453.8,298.3 454.6,300.3 455.5,303.3 455.8,305.3 455.8,308.3 455.4,311.3 454.6,314.3 452.8,319.3 449.9,325.3 436,349.3 433.6,354.3 432.6,357.3 431.8,361.2 431.9,363.2 432.8,368.2 432.7,370.2 431.6,376.2 430.5,379.2 425.2,388.3 419.2,397.6 390.2,438.7 386.2,445.7 380.9,456.1 286.1,456.1 286.1,305.9 288.1,306 289.1,306.3 291.1,307.3 294.1,309.7 296.4,312.3 298.5,315.3 300.7,319.3 307.1,333.3 308.3,335.3 310.1,337.6 312.1,339.3 315.1,340.7 318.1,341.3 322.1,341.2 325.1,340.6 329.1,339.4 333.1,337.8 337.1,335.9 347.1,330.4 363.1,320.3 365.1,319.3 368.1,318.4 373.1,317.2 375.1,317.3 378.1,317.7 380.1,317.7 383.2,316.8 387.2,315.1 391.2,312.6 407.2,300.8 417.2,294.1 421.2,291.8 425.2,289.8 429.2,288.3Z"/>
<path fill="#ffcd00" d="M431,289.4 433.2,288.9 436.2,288.6 439.2,288.8 441.2,289.2 444.2,290.3 445.9,291.4 447.2,292.4 449.3,294.4 450.8,296.4 452,298.3 453.2,301.1 453.8,303.3 454.1,305.3 454.1,308.3 453.7,311.3 452.9,314.3 451,319.3 448.1,325.3 444.2,332.3 433.6,350.3 431.6,354.3 430.7,357.3 429.8,361.2 430,363.2 431,368.2 430.9,370.2 430,375.2 429.4,377.2 428.5,379.2 424.2,385.9 419.2,393.1 402.2,415.8 390.2,432.5 387.2,437.8 384.2,443.8 381.1,450 378.7,456.1 286.1,456.1 286.1,359.1 290.5,355.3 293.4,352.3 294.5,350.3 294.9,348.3 294.8,347.3 293.8,345.3 289.1,339.4 286.1,334.6 286.1,313.5 287.1,313.2 288.1,313.1 289.2,313.3 291.1,314.3 292.2,315.3 293.9,317.3 296.1,321.3 297.2,324.3 298.2,328.3 298.8,333.3 299.2,341.3 299.5,343.3 300.4,345.3 301.4,346.3 303.3,347.3 307,348.3 311.1,348.5 316.1,348.1 320.1,347.1 324.1,345.8 329.1,343.6 334.1,341 344.1,335 353.1,329.1 362.1,322.9 365.1,321.3 368.1,320.3 373.1,319.1 380.1,319.6 383.2,318.7 387.2,317 391.2,314.6 407.2,302.6 416.2,296.5 420.2,294.1 424.2,292 428.2,290.3Z"/>
<path fill="#ffca00" d="M434.6,290.4 437.2,290.3 439.2,290.5 441.2,290.9 443.2,291.7 446.2,293.6 448,295.4 449.5,297.3 450.6,299.3 451.5,301.3 452,303.3 452.3,305.3 452.4,307.3 452.1,310.3 450.8,315.3 448.8,320.3 445.3,327.3 440.2,336.1 431.6,350.3 429.6,354.3 428.7,357.3 427.8,361.2 428,363.2 429.1,368.2 429.1,370.2 428,375.2 426.9,378.2 424.2,382.5 419.2,389.4 402.1,411.2 394.2,421.6 390.2,427.3 386.2,434.4 381.1,444.9 379.1,449.9 377,456.1 286.1,456.1 286.1,362.9 289.8,361.2 294.1,359.1 298.1,357.5 303.1,356.1 315.7,353.3 319.1,352.2 324.1,350 331.1,346.2 339.1,341.1 349.1,334.3 362.1,325 364.1,323.7 367.1,322.5 372.1,321.1 374.1,320.9 378.1,321.4 380.1,321.5 383.2,320.6 386.3,319.3 389.2,317.8 391.2,316.5 408.2,303.7 418.2,297 423.2,294.2 427.2,292.4 431.2,291Z"/>
<path fill="#ffc700" d="M432.6,292.4 435.2,292 437.2,292 439.2,292.2 441.2,292.8 444.3,294.4 445.5,295.4 447.3,297.3 448.6,299.3 449.5,301.3 450.1,303.3 450.5,305.3 450.6,307.3 450.4,310.3 449.1,315.3 447.1,320.3 443.5,327.3 438.2,336.4 429.6,350.3 427.6,354.3 426.6,357.3 425.8,361.2 426,363.2 427.1,367.2 427.3,369.2 426.2,374.9 424.9,378.2 423.2,380.8 418.2,387.3 403.2,405.8 395.2,416 391.2,421.4 389.2,424.4 386.2,429.8 381.1,440.2 379.1,445.3 375.5,456.1 286.1,456.1 286.1,365.1 300.1,360.7 316.1,356.3 321.7,354.3 326.2,352.3 331.1,349.4 337.1,345.4 348.1,337.5 362.1,326.9 364.1,325.6 367.1,324.3 372.1,322.9 374.1,322.7 378.1,323.2 380.1,323.3 383.2,322.4 387.2,320.8 391.2,318.4 407.2,306.2 417.2,299.4 422.2,296.5 426.2,294.5 429.2,293.3Z"/>
<path fill="#ffc400" d="M431.5,294.4 434.2,293.9 436.2,293.8 438.2,293.9 440.2,294.4 442.2,295.3 443.7,296.4 445.2,297.8 446.2,299.1 447.8,302.3 448.4,304.3 448.7,306.3 448.7,308.3 448.3,311.3 446.9,316.3 444.3,322.3 441.2,328.3 435.2,338.3 427,351.3 425.5,354.3 424.6,357.3 423.8,361.2 424,363.2 425.2,367.2 425.4,369.2 424.4,374.2 423.8,376.2 422.8,378.2 421.4,380.2 417.2,385.6 396.1,411.2 392.2,416.3 389.2,420.6 385.2,427.7 381.1,436 379.1,441 374,456.1 286.1,456.1 286.1,367.1 293.1,364.8 307.7,361.2 314.1,359.3 320.1,357.2 327.1,354.2 332.1,351.4 337.1,348 350.1,338.2 362.1,328.8 364.1,327.5 367.1,326.2 372.1,324.6 374.1,324.5 378.1,325 380.1,325.1 383.2,324.3 387.2,322.6 391.2,320.2 406.8,308.3 416.2,301.8 420.2,299.3 424.2,297.2 428.2,295.4Z"/>
<path fill="#ffc100" d="M430.7,296.4 434.2,295.7 436.2,295.7 438.2,296 440.2,296.6 441.5,297.3 442.8,298.3 444.2,299.9 445.1,301.3 446,303.3 446.5,305.3 446.7,307.3 446.4,311.3 445,316.3 442.5,322.3 439.2,328.5 433.2,338.4 425.5,350.3 424.3,352.3 423.4,354.3 422.5,357.3 421.7,361.2 422,363.2 423.3,367.2 423.5,369.2 422.4,374.2 421.3,377.2 420.1,379.2 418.2,381.7 395.1,409.2 391.2,414.3 388.2,418.8 384.2,426.1 380.1,434.5 374.8,450.1 372.4,456.1 286.1,456.1 286.1,369.1 290.1,367.5 295.1,366 311,362.2 314.5,361.2 322.5,358.3 329,355.3 334.3,352.3 338.6,349.3 362.1,330.7 364.1,329.3 367.1,327.9 372.1,326.3 374.1,326.2 378.1,326.7 380.1,326.9 383.2,326.1 387.2,324.5 389.2,323.4 392.2,321.4 407.9,309.3 416.2,303.5 420.2,301.1 424.2,298.9 427.7,297.3Z"/>
<path fill="#ffbd00" d="M430.4,298.3 434.2,297.8 436.2,297.8 438.2,298.3 440.2,299.3 441.2,300 443,302.3 444.2,305.3 444.5,307.3 444.6,309.3 444,313.3 442.7,317.3 440.2,323.1 436.8,329.3 431.2,338.4 423.3,350.3 422.1,352.3 421.3,354.3 420.4,357.3 419.7,361.2 420,363.2 421.4,367.2 421.6,369.2 420.5,374.2 419.3,377.2 417.3,380.2 395.2,406.3 391.2,411.4 388.2,415.8 384.2,422.9 380.1,431.2 374.1,448.2 372.1,453 370.5,456.1 286.1,456.1 286.1,371.6 290.6,369.2 295.1,367.7 300.3,366.2 312.7,363.2 319.3,361.2 324.1,359.3 330.1,356.4 335.7,353.3 340,350.3 362.1,332.5 364.1,331 367.1,329.6 372.1,328 374.1,327.8 380.1,328.6 384.2,327.5 388.2,325.8 392.2,323.3 408.2,311 416.2,305.4 420.2,302.9 424.2,300.8 427.2,299.4Z"/>
<path fill="#ffba00" d="M430.6,300.3 433.2,300 436.2,300.3 438.2,301.1 439.7,302.3 441.2,304.3 441.9,306.3 442.3,309.3 442,312.3 441.3,315.3 440.3,318.3 438.5,322.3 436.5,326.3 431.2,335.2 421.1,350.3 420,352.3 419.1,354.3 418.3,357.3 417.7,361.2 418,363.2 419.5,367.2 419.7,369.2 418.9,373.2 417.9,376.2 416.1,379.2 395.2,403.7 391.2,408.7 388.2,413 384.2,420 380.1,428.1 373.1,447.3 371.9,450.1 368.7,456.1 286.1,456.1 286.1,374 290.1,371.8 295.6,369.2 301.1,367.5 313.6,364.2 320.1,362.3 323.1,361.2 329.4,358.3 336.7,354.3 341.2,351.3 346.3,347.3 362.1,334.2 364.1,332.7 367.1,331.2 372.1,329.6 374.1,329.4 380.1,330.3 384.2,329.3 388.2,327.7 390.2,326.6 393.2,324.5 409,312.3 416.2,307.3 420.2,304.8 424.2,302.7 427.2,301.4Z"/>
<path fill="#ffb700" d="M427.7,303.3 430.2,302.7 433.2,302.5 435.2,302.9 436.2,303.3 437.2,304.1 438.2,305.2 438.9,306.3 439.5,308.3 439.7,310.3 439.5,313.3 438.7,316.3 437.7,319.3 436.2,322.7 434.2,326.6 429.2,334.8 419.5,349.3 417.3,353.3 416.4,356.3 415.6,361.2 416.1,363.2 417.3,366.2 417.9,368.2 417.8,370.2 416.4,375.2 415.5,377.2 414.2,379.2 394.2,402.5 390.2,407.6 387.2,412.1 383.2,419.3 380.1,425.3 373.1,444.2 369.7,451.1 366.9,456.1 286.1,456.1 286.1,376.7 288,375.2 290.1,374 298.1,370.2 303.5,368.2 317.5,364.2 323.5,362.2 328.1,360.3 333.9,357.3 339,354.3 343.4,351.3 348.4,347.3 362.1,335.8 364.1,334.3 366.1,333.3 370.1,331.8 373.1,331 375.1,331.1 379.1,331.9 381.1,331.8 386.2,330.4 389.2,329 393.3,326.3 409.2,314.2 415.2,309.9 422.2,305.7 425.2,304.3Z"/>
<path fill="#ffb400" d="M431.2,305.3 433.2,305.7 434.2,306.2 435.2,307.1 436,308.3 436.4,309.3 436.8,311.3 436.7,313.3 436.2,316.3 434.4,321.3 431.2,327.7 427.1,334.3 417.1,349.3 415,353.3 414.2,356.3 413.6,361.2 414.1,363.2 415.8,367.2 416.1,369.2 415.3,373.2 414.2,376.2 412.4,379.2 402.2,390.9 393.2,401.5 390.2,405.3 387.2,409.8 383.2,416.9 380.1,422.8 374.1,438.8 372.1,443.5 367.6,452.1 365,456.1 286.1,456.1 286.1,380.8 287,379.2 287.8,378.2 290.1,376.3 292.1,375.1 296.1,373 302.3,370.2 307.7,368.2 320.6,364.2 326.2,362.2 330.6,360.3 336.1,357.3 341.2,354.3 345.4,351.3 362.1,337.3 364.1,335.9 366.1,334.8 369.1,333.6 373.1,332.5 375.1,332.6 379.1,333.5 381.1,333.5 386.2,332.2 389.2,331 393.2,328.4 411.2,314.9 418.2,310.2 421.5,308.3 425.2,306.6 428.2,305.7Z"/>
<path fill="#ffb000" d="M425.5,309.3 427.2,309 429.2,308.8 431.1,309.3 432.2,310.2 432.8,311.3 433.2,312.5 433.3,314.3 433.1,316.3 432.3,319.3 431.6,321.3 429.2,326.4 425.1,333.3 414.7,349.3 413.5,351.3 412.6,353.3 411.9,356.3 411.6,361.2 412.2,363.2 414,367.2 414.4,369.2 413.5,373.2 412.5,376.2 410.6,379.2 401.2,390 392.2,400.6 389.2,404.6 387.2,407.7 383.2,414.6 380.1,420.5 374.1,436.2 372.1,440.9 366.6,451.1 365.1,453.3 363.7,455.1 362.6,456.1 286.1,456.1 286.1,386.1 290.2,379.2 292.1,377.4 293.9,376.2 297.5,374.2 303.1,371.6 308.5,369.2 323.3,364.2 328.6,362.2 330.8,361.2 336.4,358.3 341.5,355.3 346,352.3 351,348.3 363.1,338 366.1,336.3 370.1,334.8 373.1,334 375.1,334.1 380.1,335.3 385.2,334.3 389.2,332.9 394.2,329.8 409.8,318.3 415.6,314.3 421.2,311.1Z"/>
<path fill="#ffad00" d="M421.3,314.3 423.2,313.7 425.2,313.4 426.2,313.5 427.2,313.9 428.2,315 428.6,316.3 428.7,317.3 428.5,319.3 427.3,323.3 424.9,328.3 421.2,334.7 412.7,348.3 411,351.3 410.2,353.3 409.7,356.3 409.6,361.2 410.3,363.2 412.3,367.2 412.6,369.2 411.8,373.2 410.8,376.2 408.9,379.2 392.2,398.6 389.2,402.6 387.2,405.6 383.2,412.5 380.1,418.3 374.1,433.8 372.1,438.4 366.3,449.1 365,451.1 363.1,453.3 359.6,456.1 286.1,456.1 286.1,390.4 290.1,383.8 293.3,379.2 294.4,378.2 297.3,376.2 301,374.2 306.1,371.8 311.8,369.2 325.7,364.2 330.7,362.2 332.9,361.2 338.4,358.3 343.4,355.3 347.8,352.3 352.8,348.3 363.1,339.5 366.1,337.7 370.1,336.2 373.1,335.4 375.1,335.6 380.1,336.9 385.2,336.2 389.2,335 394.2,332 413.8,318.3 417.2,316.3Z"/>
<path fill="#fa0" d="M418,320.3 420.2,320.1 421.2,320.6 421.7,321.3 422,322.3 422.1,323.3 421.4,326.3 420.3,329.3 418.3,333.3 408.8,350.3 407.9,352.3 407.5,354.3 407.3,357.3 407.5,361.2 407.9,362.2 410.5,367.2 410.9,369.2 410.1,373.2 409.1,376.2 407.3,379.2 392.2,396.7 389.2,400.7 387.2,403.7 383.2,410.6 380.1,416.3 374.1,431.6 372.1,436.1 366.6,446.1 365.1,448.5 363.1,451 360.8,453.1 356.7,456.1 286.1,456.1 286.1,394.1 292.1,384.6 294.1,381.9 296.4,379.2 298.9,377.2 302.2,375.2 312.3,370.2 317,368.2 332.6,362.2 340.1,358.3 345.1,355.3 349.4,352.3 363.1,340.8 366.1,339 370.1,337.6 373.1,336.8 375.1,337 380.1,338.5 385.2,338 389.2,337.1 393.2,335 411.2,323.5 415.2,321.4Z"/>
<path fill="#ffa700" d="M407.1,330.3 409.2,329.6 411.2,329.3 412.2,329.7 412.6,330.3 412.9,331.3 412.8,333.3 411.6,337.3 409.6,342.3 405.8,350.3 404.9,353.3 404.9,356.3 405.5,361.2 405.9,362.2 408.3,366.2 409.2,368.6 409.2,370.2 407.9,375.2 407,377.2 405.7,379.2 392.2,394.9 389.2,398.8 386.2,403.5 380.1,414.4 374.1,429.5 372.1,433.9 366.5,444.1 363.1,448.9 359.5,452.1 354.1,456.1 286.1,456.1 286.1,397.2 293.3,386.2 296.1,382.6 299.1,379.3 301.7,377.2 304.1,375.8 314.8,370.2 319.3,368.2 334.4,362.2 340.1,359.3 346.7,355.3 351,352.3 363.1,342.2 366.1,340.4 370.1,338.9 373.1,338.2 375.1,338.5 380.1,340.2 385.2,340 388.2,339.6 390.2,339 391.7,338.3 401.2,333.1Z"/>
<path fill="#ffa300" d="M398.9,338.3 401.2,337.9 402.2,337.9 403.2,338.3 404.1,339.3 404.4,340.3 404.5,341.3 404.4,343.3 402.2,351.3 402,353.3 402.2,355.3 403.4,361.2 403.9,362.2 406.6,366.2 407.5,368.2 407.6,370.2 406.3,375.2 405.5,377.2 404.1,379.2 391.2,394.4 389.2,397.1 386.2,401.7 380.1,412.6 374.1,427.5 372.1,431.9 366.1,442.6 364.1,445.5 362.1,447.8 357.1,452.1 351.6,456.1 286.1,456.1 286.1,399.9 294.1,388 297.1,384.2 300.7,380.2 302.1,378.9 304.3,377.2 307.5,375.2 312.1,372.8 320.1,368.8 336.1,362.2 343.4,358.3 348.2,355.3 352.6,352.3 363.1,343.4 365.1,342.2 367.1,341.2 371.1,339.9 373.1,339.6 375.1,339.9 380.1,341.8 388.2,341.9 391,341.3Z"/>
<path fill="#ffa000" d="M371,341.3 372.1,341 374.1,341 376.1,341.6 380.1,343.5 381.1,343.7 389.2,344.6 395.2,344.2 396.2,344.4 397.2,345 397.9,346.3 398.2,347.3 398.4,351.3 398.8,353.3 401.3,361.2 405.4,367.2 406,369.2 406,370.2 404.8,375.2 403.3,378.2 390.2,394 387.2,398.4 384.2,403.4 380.1,410.9 374.1,425.6 372.1,430 367.1,439 364.1,443.6 362.1,445.9 358.6,449.1 354.1,452.6 349.3,456.1 286.1,456.1 286.1,402.4 294.4,390.2 298.1,385.5 303,380.2 305.2,378.2 308.1,376.2 312.1,373.9 321.1,369.2 335.4,363.2 339.6,361.2 346.5,357.3 352.6,353.3 364.1,344 367.1,342.5Z"/>
<path fill="#ff9d00" d="M372.1,342.3 373.1,342.2 375.1,342.6 380.1,345.3 384.3,346.3 387.2,347.3 391.2,349 392.2,349.8 393.2,350.9 396.7,356.3 398.2,359 399.1,361.2 402.4,365.2 403.8,367.2 404.4,369.2 404.4,370.2 403.3,375.2 401.9,378.2 390.2,392.3 387.2,396.7 383.2,403.6 380.1,409.2 374.1,423.9 372.1,428.2 367.1,437.1 364.1,441.7 362.1,444 357.1,448.6 352.7,452.1 347.1,456.1 286.1,456.1 286.1,404.9 288.3,401.2 295.3,391.2 299.4,386.2 305.1,380.2 307.3,378.2 310.2,376.2 322.8,369.2 336.9,363.2 341.1,361.2 347.9,357.3 354.1,353.3 364.1,345.2 367.1,343.7Z"/>
<path fill="#ff9a00" d="M369.3,344.3 372.1,343.6 373.1,343.5 375.1,344 377.1,345.1 380.1,347.1 384.2,348.6 386.8,350.3 393.2,356.1 395.2,358.5 396.8,361.2 401.4,366.2 402.6,368.2 402.8,369.2 402.8,370.2 402.2,374.2 401.1,377.2 399.8,379.2 390.2,390.7 388.2,393.6 385.2,398.4 380.1,407.6 374.1,422.2 372.1,426.5 367.1,435.4 364.1,439.9 362.1,442.2 356.1,447.8 351.1,451.8 345.1,456.1 286.1,456.1 286.1,407.2 289,402.2 295.1,393.6 298.1,389.7 301.2,386.2 308,379.2 311.1,376.9 315.4,374.2 324.5,369.2 338.3,363.2 342.5,361.2 349.3,357.3 354,354.3 356.8,352.3 364.1,346.4 366.1,345.4Z"/>
<path fill="#ff9600" d="M370.2,345.3 372.1,344.8 373.1,344.8 375.1,345.4 377.1,346.7 380.1,349 383.2,350.5 385.2,351.9 392,358.3 394.4,361.2 399.7,366.2 401,368.2 401.3,369.2 401.3,370.2 400.7,374.2 399.7,377.2 398.4,379.2 390.2,389.1 388.2,392 385.2,396.9 380.1,406.1 374.4,420.2 372.1,424.9 367.1,433.7 364.1,438.3 362.1,440.6 355.2,447.1 350.1,451.1 343.1,456.1 286.1,456.1 286.1,409.4 289.1,404 296.1,394.2 301,388.2 308.8,380.2 311,378.2 313.8,376.2 326,369.2 343.8,361.2 350.6,357.3 355.3,354.3 364.1,347.6 367.1,346.2Z"/>
<path fill="#ff9300" d="M371.3,346.3 373.1,346.2 375.1,346.8 377.1,348.2 380.1,350.9 383.2,352.8 385.1,354.3 391.9,361.2 396.2,364.6 398,366.2 399.4,368.2 399.7,369.2 399.8,370.2 399.3,374.2 398.3,377.2 397,379.2 390.2,387.6 388.2,390.5 385.2,395.4 380.1,404.6 374.6,418.2 372.1,423.4 367.1,432.2 364.1,436.7 362.1,439 354.6,446.1 349.1,450.5 341.3,456.1 286.1,456.1 286.1,411.5 289.5,405.2 297.1,394.7 302.1,388.7 310.4,380.2 312.6,378.2 315.4,376.2 327.5,369.2 345.1,361.2 355.1,355.3 359.5,352.3 363.1,349.4 365.1,348.2 368.1,347Z"/>
<path fill="#ff9000" d="M367.9,348.3 371.1,347.5 373.1,347.5 374.1,347.7 376.1,348.9 380.1,352.7 383.2,354.7 384.9,356.3 389.6,361.2 396.2,366.2 397.8,368.2 398.2,369.2 398.3,370.2 397.9,374.2 396.9,377.2 395.7,379.2 389.2,387.4 384.2,395.6 380.1,403.1 374.4,417.2 372.1,421.9 367.1,430.6 364.1,435.1 362.1,437.5 358.4,441.1 353.1,446 347.1,450.7 339.4,456.1 286.1,456.1 286.1,413.5 288.3,409.2 290.1,406 296.5,397.2 300.4,392.2 304.1,388.2 313,379.2 316.1,376.8 321.1,373.6 328.8,369.2 346.4,361.2 356.4,355.3 364.1,349.8 366.1,348.9Z"/>
<path fill="#ff8d00" d="M368.4,349.3 372.1,348.6 373.1,348.8 374.5,349.3 376.1,350.4 380.1,354.3 384,357.3 387.6,361.2 388.8,362.2 393.1,365.2 395.4,367.2 396.1,368.2 396.6,369.2 396.8,370.2 396.7,372.2 396.3,375.2 395.6,377.2 394.3,379.2 389.2,385.9 384.2,394.2 380.1,401.7 374.6,415.2 372.1,420.5 367.1,429.2 364.1,433.7 362.1,436 359,439.1 352.6,445.1 344.1,451.6 340.1,454.5 337.5,456.1 286.1,456.1 286.1,415.5 288.7,410.2 290.4,407.2 297.7,397.2 302.6,391.2 308.1,385.5 314.4,379.2 318.3,376.2 330.1,369.2 347.6,361.2 356.1,356.3 364.1,350.9 366.1,350Z"/>
<path fill="#ff8a00" d="M369.1,350.3 372.1,349.9 373.1,350 375.1,351 380.1,355.8 383.2,358.3 387,362.2 392.6,366.2 394.2,367.8 395,369.2 395.2,370.2 395.2,373.2 394.6,376.2 393.7,378.2 388.2,385.9 383.2,394.5 380.1,400.3 374.9,413.2 372.6,418.2 367.5,427.1 364.1,432.3 362.1,434.6 356.1,440.6 351.1,445.1 340.1,453.4 335.6,456.1 286.1,456.1 286.1,417.3 288.6,412.2 291.1,407.7 298.8,397.2 303.9,391.2 312.1,382.8 315.7,379.2 319.7,376.2 331.3,369.2 348.8,361.2 357.3,356.3 364.1,351.9 366.1,351Z"/>
<path fill="#ff8600" d="M369.9,351.3 372.1,351.1 373.1,351.3 375.1,352.3 385.5,362.2 392,367.2 392.9,368.2 393.4,369.2 393.7,370.2 393.8,373.2 393.3,376.2 392.5,378.2 387.2,386 383.2,393.1 380.1,398.9 374.7,412.2 372.1,417.8 367.1,426.5 364.1,430.9 362.1,433.3 355.2,440.1 350.1,444.7 339.1,453 333.7,456.1 286.1,456.1 286.1,419.1 289.5,412.2 291.8,408.2 299.9,397.2 305.1,391.2 316,380.2 318.2,378.2 322.1,375.4 332.5,369.2 350,361.2 364.1,352.8 367.1,351.7Z"/>
<path fill="#ff8300" d="M371.1,352.3 373.1,352.5 375.1,353.5 377.1,355.3 382.8,361.2 390.3,367.2 391.9,369.2 392.2,370.2 392.4,374.2 392,376.2 391.2,378.2 386.2,386.3 380.1,397.5 374.6,411.2 372.1,416.5 366.5,426.1 363.1,430.9 353.9,440.1 348.2,445.1 338.1,452.6 335.1,454.4 331.8,456.1 286.1,456.1 286.1,420.8 289.8,413.2 292.1,409.1 295.6,404.2 301.1,397.1 306.1,391.4 318.2,379.2 320.7,377.2 323.6,375.2 333.7,369.2 351.2,361.2 364.1,353.7 367.1,352.7Z"/>
<path fill="#ff8000" d="M364.9,354.3 368.1,353.5 372.1,353.3 373.1,353.5 375.1,354.7 377.1,356.5 381.4,361.2 387.8,366.2 389.8,368.2 390.4,369.2 390.8,370.2 391.1,374.2 390.8,376.2 390.1,378.2 386.2,384.8 381.1,394.1 379.1,398.5 374.5,410.2 372.7,414.2 367.6,423.2 364.1,428.4 362.1,430.7 353.7,439.1 348,444.1 337.1,452.2 334.1,454 329.8,456.1 286.1,456.1 286.1,422.5 290.1,414.2 292.3,410.2 294.1,407.5 298.9,401.2 302.9,396.2 306.5,392.2 319.4,379.2 322.1,377.1 327.1,373.8 334.8,369.2 352.3,361.2 363.1,355Z"/>
<path fill="#ff7d00" d="M370.1,354.3 372.1,354.3 373.1,354.6 375.1,355.7 377.1,357.6 380.1,361.3 385.3,365.2 387.5,367.2 389,369.2 389.4,370.2 389.8,373.2 389.8,375.2 389.4,377.2 388.5,379.2 385.2,385.1 380.1,394.9 374.8,408.2 372.6,413.2 367.1,422.7 365.1,425.8 363.1,428.4 352.4,439.1 346.1,444.5 336.1,451.9 332.2,454.1 327.8,456.1 286.1,456.1 286.1,424.1 290.4,415.2 293.2,410.2 296.8,405.2 302.2,398.2 307.1,392.7 320.1,379.6 323,377.2 325.9,375.2 335.9,369.2 340,367.2 353.5,361.2 363.1,355.8 366.1,354.7Z"/>
<path fill="#ff7900" d="M367.8,355.3 372.1,355.3 374.1,356.1 376.1,357.7 380.1,362.3 384.1,365.2 386.3,367.2 387.8,369.2 388.2,370.2 388.7,373.2 388.7,375.2 388,378.2 380.1,393.5 375.2,406.2 373.1,410.8 367.1,421.5 365.1,424.6 363.1,427.2 351.2,439.1 344.1,445.1 335.1,451.6 331.1,453.8 325.8,456.1 286.1,456.1 286.1,425.6 291.2,415.2 293.4,411.2 295.4,408.2 302.1,399.5 307.7,393.2 320.6,380.2 322.8,378.2 325.5,376.2 334.1,370.8 338.9,368.2 354.6,361.2 363.1,356.5 365.1,355.8Z"/>
<path fill="#ff7600" d="M366.3,356.3 369.1,356 372.1,356.2 373.1,356.5 375.1,357.8 376.6,359.3 379.1,362.3 380.2,363.2 384.1,366.2 386.1,368.2 387.1,370.2 387.6,373.2 387.7,375.2 387.4,377.2 386.7,379.2 380.1,392.2 375.5,404.2 373.1,409.6 367.9,419.2 363.9,425.1 362.1,427.1 351.1,438.1 347.1,441.6 343.1,444.8 336.1,450 334.1,451.3 330.1,453.4 323.8,456.1 286.1,456.1 286.1,427.1 291.4,416.2 293.6,412.2 295.6,409.2 301.7,401.2 306.8,395.2 312.1,389.8 322.7,379.2 326.5,376.2 332.1,372.6 339.1,368.6 353.6,362.2 363.1,357.3Z"/>
<path fill="#ff7300" d="M365.1,357.3 368.1,356.8 372.1,357 373.1,357.4 375.1,358.8 379.1,363.1 383,366.2 385,368.2 386,370.2 386.7,373.2 386.8,375.2 386.5,377.2 385.9,379.2 380.1,390.9 375.4,403.2 373.1,408.5 368.1,417.6 364.1,423.7 362.1,426 351.1,437 345.1,442.3 339.1,446.8 334.1,450.4 330.1,452.5 325.1,454.8 321.8,456.1 286.1,456.1 286.1,428.5 288.1,424.8 292.2,416.2 294.1,412.7 296.4,409.2 302.1,401.8 306.8,396.2 311.1,391.8 323.7,379.2 327.5,376.2 333.1,372.6 340.1,368.6 354.8,362.2 363.1,357.9Z"/>
<path fill="#ff7000" d="M364.1,358.3 367.1,357.6 370.1,357.6 372.1,357.9 374.1,358.9 379.1,363.9 383.1,367.2 384,368.2 385.1,370.2 385.7,373.2 385.9,375.2 385.7,377.2 385.1,379.2 380.1,389.5 375.3,402.2 373.1,407.3 368.1,416.4 364.1,422.6 362.1,424.9 351.1,435.9 345.3,441.1 340.1,445.2 334.1,449.5 331.1,451.2 327.1,453.1 319.8,456.1 286.1,456.1 286.1,430 288.1,426.3 292.4,417.2 294.6,413.2 296.5,410.2 302.7,402.2 306.9,397.2 310.1,393.8 324.6,379.2 328.1,376.5 333.1,373.2 340.1,369.1 345.1,366.8 355.9,362.2Z"/>
<path fill="#ff6c00" d="M363.2,359.3 366.1,358.5 369.1,358.3 372.1,358.7 374.1,359.8 383.2,368.5 383.7,369.2 384.4,371.2 384.8,373.2 385,375.2 384.9,377.2 384.3,379.2 380.1,388.2 375.6,400.2 373.1,406.2 368.1,415.4 364.1,421.5 362.1,423.8 350.9,435.1 345.3,440.1 340.3,444.1 334.1,448.6 331.1,450.4 327.1,452.3 317.8,456.1 286.1,456.1 286.1,431.4 288.1,427.8 292.6,418.2 294.8,414.2 297.1,410.5 302.7,403.2 306.1,399.1 309.6,395.2 324.6,380.2 328,377.2 333.1,373.8 340.9,369.2 346.1,366.7 357,362.2Z"/>
<path fill="#ff6900" d="M365.5,359.3 368.1,359 372.1,359.6 373.1,360 375.1,361.5 381,367.2 382.7,369.2 383.2,370.2 384,373.2 384.2,376.2 383.5,379.2 380.1,386.8 375.6,399.2 373.1,405.1 371.6,408.2 367.1,416 365.1,419.1 363.1,421.7 349.8,435.1 345.1,439.3 340.1,443.3 333.5,448.1 330.1,450.1 327.1,451.5 315.8,456.1 286.1,456.1 286.1,432.9 288.7,428.1 292.9,419.2 295.5,414.2 297.4,411.2 304.4,402.2 310.1,395.7 325.5,380.2 327.7,378.2 330.4,376.2 339.1,370.8 343.8,368.2 358.1,362.2 363.1,359.9Z"/>
<path fill="#f60" d="M364.1,360.3 367.1,359.7 371.1,360.1 373.1,360.8 375.1,362.3 378.3,365.2 381.8,369.2 382.3,370.2 383.1,373.2 383.4,376.2 382.8,379.2 380.1,385.4 375.5,398.2 373.1,404 371.5,407.2 367.1,414.9 365.1,418 363.1,420.6 349.1,434.8 344.2,439.1 339.1,443.1 333.1,447.5 330.1,449.3 327.1,450.7 313.9,456.1 286.1,456.1 286.1,434.4 289.1,429 293.6,419.2 295.6,415.2 298.1,411.3 304.4,403.2 307.7,399.2 311.1,395.6 326.4,380.2 330.1,377.1 336.1,373.1 344.1,368.5 349.1,366.3Z"/>
<path fill="#ff6300" d="M363,361.2 366.1,360.5 369.1,360.5 372.1,361.2 373.1,361.6 375.1,363 378.6,366.2 380.9,369.2 381.8,371.2 382.3,373.2 382.6,376.2 382.1,379.2 380.1,383.9 375.5,397.2 373.1,402.9 371.5,406.2 367.1,413.9 365.1,417 363.1,419.6 349.1,433.8 345.1,437.4 340.1,441.5 333.1,446.6 328.1,449.5 324.1,451.2 315.1,454.6 312,456.1 286.1,456.1 286.1,436 289.3,430.1 293.8,420.2 296.4,415.2 298.3,412.2 305.2,403.2 311.4,396.2 327.3,380.2 330.8,377.2 336.1,373.7 344.1,369 350.1,366.3Z"/>
<path fill="#ff5f00" d="M365.2,361.2 368.1,361.1 372.1,361.8 374.1,362.9 376.1,364.4 378.8,367.2 380.1,369.2 380.6,370.2 381.5,373.2 381.9,376.2 381.4,379.2 375.8,395.2 373.1,401.8 371.5,405.2 367.1,412.8 365.1,416 363.1,418.6 348.8,433.1 344.4,437.1 339.4,441.1 333.1,445.7 331,447.1 328.1,448.7 324.1,450.5 314.3,454.1 310,456.1 286.1,456.1 286.1,437.7 290.1,430.1 294.5,420.2 297.1,415.2 300.5,410.2 306.8,402.2 311.3,397.2 328.2,380.2 330.4,378.2 333.1,376.2 342.1,370.6 346.6,368.2 352.1,365.9 362.1,362.1Z"/>
<path fill="#ff5c00" d="M363.1,362.2 366.1,361.7 369.1,361.8 372.1,362.5 373.1,362.9 375.1,364.2 377.3,366.2 379.5,369.2 380.8,373.2 381.2,376.2 380.7,379.2 375.7,394.2 373.1,400.7 371.4,404.2 367.1,411.8 365.1,415 363.1,417.6 348.1,432.8 344.5,436.1 340.1,439.7 335.1,443.4 331.1,446.2 328.1,447.9 323.1,450.1 313.1,453.7 307.8,456.1 286.1,456.1 286.1,439.6 290.4,431.1 294.7,421.2 297.2,416.2 299.8,412.2 306.8,403.2 310.1,399.3 313.1,396.2 329.1,380.2 332.5,377.2 338.1,373.5 346.1,368.9 353.1,365.9Z"/>
<path fill="#ff5900" d="M366.1,362.2 369.1,362.4 372.1,363 374.1,364 376.7,366.2 378.3,368.2 379.3,370.2 380.3,374.2 380.5,377.2 379.8,380.2 376.7,390.2 373.1,399.6 371.4,403.2 367.5,410.2 365.1,414 363.1,416.6 347.8,432.1 344.1,435.5 340.1,438.8 335.1,442.6 331.1,445.4 328.1,447.1 323.1,449.3 312.3,453.1 305.3,456.1 286.1,456.1 286.1,441.8 291.1,431.4 294.9,422.2 297.3,417.2 300.1,412.8 308.4,402.2 313,397.2 329.9,380.2 332.1,378.2 334.8,376.2 344.1,370.5 348.5,368.2 354.1,365.9 362.1,363 364.1,362.5Z"/>
<path fill="#ff5600" d="M362.8,363.2 365.1,362.8 368.1,362.8 372.1,363.6 374.1,364.6 376.1,366.3 377.7,368.2 378.3,369.2 379.5,373.2 379.9,376.2 379.6,379.2 377.8,385.2 375.2,393.2 373.1,398.5 371.4,402.2 367.5,409.2 365.1,413 363.1,415.7 347.8,431.1 344.1,434.6 336.1,441 331.1,444.6 328.1,446.4 323.1,448.6 312.1,452.3 302.3,456.1 286.1,456.1 286.1,444.3 291.6,432.1 295.2,423.2 297.5,418.2 300.1,413.8 307.5,404.2 313.1,397.9 330.7,380.2 334.2,377.2 339.1,374 347.3,369.2 354.1,366.3Z"/>
<path fill="#ff5300" d="M365.3,363.2 368.1,363.3 372.1,364.1 374.1,365.2 375.4,366.2 377.1,368.2 378.1,370.2 379.1,374.2 379.4,377.2 378.8,380.2 376.8,387.2 375.1,392.2 373.1,397.4 371.3,401.2 367.5,408.2 365.1,412 363.1,414.7 347.1,430.9 343.6,434.1 336.1,440.1 330.5,444.1 328.1,445.6 325.1,447 321.1,448.6 312.1,451.3 304.1,454.3 298.2,456.1 286.1,456.1 286.1,447.7 288.9,440.1 292.1,432.9 296.3,422.2 298.2,418.2 300.1,414.9 305.1,408.2 309.1,403.2 313.1,398.7 331.6,380.2 333.8,378.2 336.1,376.5 344.1,371.5 350.4,368.2 360.1,364.5 363.1,363.6Z"/>
<path fill="#ff4f00" d="M362.3,364.2 365.1,363.7 368.1,363.8 372.1,364.6 374.1,365.7 375.8,367.2 377.2,369.2 378.4,373.2 378.9,376.2 378.6,379.2 377.5,383.2 375.4,390.2 373.1,396.3 371.3,400.2 367.5,407.2 365.1,411 363.1,413.7 346.9,430.1 343.1,433.7 336.1,439.3 328.1,444.8 325.1,446.3 321.1,447.8 311.1,450.7 305.1,452.8 301.1,453.9 297.1,454.8 293.1,455.4 290.1,455.5 288,455.1 287.1,454.1 287,453.1 287.2,450.1 288.1,446.1 290,440.1 292.9,433.1 296.5,423.2 298.3,419.2 300.1,416 303.6,411.2 308.2,405.2 314.1,398.5 332.4,380.2 335.9,377.2 341.1,373.8 349.2,369.2 355.1,366.7Z"/>
<path fill="#ff4c00" d="M364.1,364.2 366.1,364.1 369.1,364.4 372.1,365.1 374.1,366.3 376,368.2 377.1,370.2 378.1,374.2 378.4,377.2 378.2,379.2 376.6,385.2 375,390.2 373.1,395.2 371.3,399.2 367.5,406.2 365.1,410.1 363.1,412.8 346.1,429.9 342.7,433.1 335.1,439.2 329.5,443.1 327.1,444.5 324.1,445.9 320.1,447.4 302.1,452.4 298.1,453 295.1,453.1 293.1,452.9 291.1,452.1 290.1,451 289.6,449.1 289.6,447.1 290,444.1 291.4,439.1 293.4,434.1 296.8,424.2 298.5,420.2 300.7,416.2 305,410.2 309.8,404.2 314.1,399.4 327.2,386.2 334.2,379.2 336.7,377.2 342.1,373.7 350.1,369.2 357.1,366.4 362.1,364.7Z"/>
<path fill="#ff4900" d="M361.6,365.2 364.1,364.6 367.1,364.6 370.9,365.2 373.1,366.1 374.5,367.2 376.1,369.4 377.5,373.2 377.9,376.2 377.7,379.2 377,382.2 375.1,388.5 373.1,394.1 371.2,398.2 367.5,405.2 365.1,409.1 363.1,411.8 345.1,430 342.1,432.8 335.1,438.3 329.1,442.5 327.1,443.7 323.1,445.6 319.1,446.9 303.1,450.9 300.1,451.3 297.1,451.3 295.1,450.9 293.1,449.9 292.1,448.8 291.5,447.1 291.4,445.1 291.6,443.1 292.6,439.1 297.1,425.1 299.2,420.2 301.1,416.7 305,411.2 308.9,406.2 314.1,400.2 334,380.2 336.2,378.2 342.1,374.2 350.1,369.7 355.1,367.5Z"/>
<path fill="#ff4600" d="M363,365.2 366.1,364.9 369.1,365.3 372.1,366.1 373.9,367.2 375.1,368.6 376.1,370.6 377.2,374.2 377.5,377.2 377.3,379.2 375.7,385.2 374.1,390.2 372.6,394.2 367.1,404.9 365.1,408.1 363.1,410.9 342.1,431.9 335.1,437.5 329.1,441.7 326.8,443.1 323.1,444.8 318.1,446.4 303.1,449.5 300.1,449.7 298.1,449.5 296.1,448.9 294.8,448.1 293.9,447.1 293.4,446.1 293.1,444.1 293.2,442.1 293.7,439.1 297.8,425.1 299.4,421.2 301.5,417.2 305.8,411.2 310.1,405.6 315.9,399.2 334.8,380.2 338.1,377.4 344.1,373.5 352,369.2 357.1,367.1Z"/>
<path fill="#ff4200" d="M360.9,366.2 364.1,365.4 367.1,365.4 371,366.2 373.1,367.2 374.2,368.2 375.5,370.2 376.5,373.2 377,376.2 377,378.2 376.4,381.2 374.7,387.2 373,392.2 371.2,396.2 367.5,403.2 365.1,407.2 363.1,409.9 342,431.1 335.1,436.6 328.7,441.1 326.1,442.7 322.1,444.4 317.1,445.9 312.1,446.9 304.1,447.9 301.1,448.1 299.1,447.8 297.4,447.1 296.1,446.2 295.3,445.1 295,444.1 294.7,442.1 294.8,440.1 296.7,431.1 298.5,425.1 300.1,421.2 302.2,417.2 306.5,411.2 310.1,406.5 315.7,400.2 335.6,380.2 337.8,378.2 343.1,374.6 350.9,370.2 355.3,368.2Z"/>
<path fill="#ff3f00" d="M362.2,366.2 365.1,365.8 368.1,366 371.1,366.8 373.1,367.9 374.4,369.2 375.4,371.2 376.3,374.2 376.6,377.2 376.4,379.2 375.1,384.4 373.6,389.2 372.1,393 367.1,402.9 365.1,406.2 363.1,408.9 344.1,428.1 341.1,431 334.1,436.5 326.1,441.9 323.1,443.3 319.1,444.6 315.1,445.5 311.1,446.1 306.1,446.4 302.1,446.4 300.1,446 298.1,445 297.3,444.1 296.7,443.1 296.4,442.1 296.3,440.1 296.7,436.1 297.3,432.1 298.3,428.1 299.2,425.1 300.7,421.2 302.9,417.2 307.2,411.2 311.1,406.2 316.1,400.6 336.5,380.2 338.7,378.2 344.1,374.5 351.9,370.2 356.3,368.2Z"/>
<path fill="#ff3c00" d="M364.2,366.2 366.8,366.2 369.1,366.7 372.1,367.8 373.1,368.5 374.4,370.2 375.2,372.2 376,375.2 376.2,377.2 376,379.2 375.1,383.2 373.5,388.2 372.1,391.8 367.1,401.9 365.1,405.2 363.1,408 341.1,430.1 334.1,435.7 326,441.1 323.1,442.5 319.1,443.8 315.1,444.7 311.1,445.2 307.1,445.2 304.1,445 301.1,444.2 299.4,443.1 298.6,442.1 298.1,440.9 297.8,439.1 297.8,436.1 298.5,430.1 300.2,424.2 301.9,420.2 303.7,417.2 308.7,410.2 312.7,405.2 316.3,401.2 333.3,384.2 338.3,379.2 340.1,377.7 345.5,374.2 354.1,369.6 360.1,367.3Z"/>
<path fill="#ff3900" d="M361.5,367.2 364.1,366.7 367.1,366.7 369.5,367.2 372.1,368.4 373.2,369.2 373.8,370.2 374.7,372.2 375.6,375.2 375.8,377.2 375.6,379.2 374.6,383.2 373.1,388 372.1,390.6 367.1,400.9 365.1,404.2 363.1,407 341.1,429.2 335,434.1 326.1,440.2 323.1,441.7 320.1,442.8 316.1,443.7 312.1,444.2 308.1,444.2 305.1,443.7 303.1,443.1 301.1,441.9 300.3,441.1 299.7,440.1 299.1,438.1 298.9,436.1 299.2,431.1 300.3,426.1 301.7,422.2 303.8,418.2 308,412.2 311.8,407.2 317.1,401.2 338.1,380.2 340.3,378.2 345.1,375 353.1,370.6 356.1,369.2Z"/>
<path fill="#ff3500" d="M363,367.2 365.1,367 367.6,367.2 370.1,368 372.1,369.1 373.2,370.2 374.2,372.2 375.1,375.2 375.3,377.2 375.2,379.2 374.5,382.2 372.1,389.4 367.1,399.8 365.1,403.3 363.1,406.1 340.1,429.1 333.9,434.1 325.1,439.9 322.1,441.3 319.1,442.2 315.1,443 312.1,443.2 309.1,443.2 306.1,442.6 304.1,441.9 302.1,440.6 301.1,439.4 300.5,438.1 299.9,435.1 299.9,433.1 300.1,430.1 301.3,425.1 302.9,421.2 304.5,418.2 309.1,411.6 313.1,406.5 317.1,402 338.9,380.2 341.1,378.2 346.1,374.9 354.1,370.6 358.1,368.8Z"/>
<path fill="#ff3200" d="M361,368.2 363.1,367.6 366.1,367.5 369.1,368.1 371.4,369.2 372.5,370.2 373.6,372.2 374.4,374.2 374.9,377.2 374.8,379.2 374.1,381.8 372.1,388.2 367.1,398.8 365.1,402.3 363.1,405.1 340.1,428.2 334,433.1 325.1,439 322.9,440.1 320.1,441.2 317.1,441.9 314.1,442.2 311.1,442.3 308.1,441.9 305.6,441.1 303.9,440.1 302.7,439.1 302,438.1 301.5,437.1 301,435.1 300.9,431.1 301.7,426.1 303.1,422.2 304.7,419.2 308.7,413.2 312.5,408.2 317.8,402.2 339.7,380.2 341.9,378.2 345.1,376 350.1,373.1 356.1,370.1Z"/>
<path fill="#ff2f00" d="M362.4,368.2 365.1,367.9 367.1,368.1 369.1,368.7 371.1,369.9 372.1,370.8 373.5,373.2 374.2,375.2 374.4,377.2 374.3,379.2 373.9,381.2 373,384.2 371.5,388.2 367.1,397.7 365.1,401.2 363.1,404.1 339.2,428.1 333.1,432.9 325.1,438.1 323.1,439.2 320.1,440.3 317.1,441 314.1,441.3 311.1,441.3 309.1,441 306.5,440.1 304.8,439.1 303.7,438.1 302.9,437.1 302.5,436.1 301.9,434.1 301.7,432.1 301.8,430.1 302.5,426.1 303.9,422.2 305.4,419.2 309.5,413.2 313.3,408.2 318.1,402.7 340.6,380.2 342.8,378.2 347.1,375.3 352.1,372.6 357.1,370.2Z"/>
<path fill="#ff2c00" d="M360.7,369.2 363.1,368.5 365.1,368.3 367.1,368.6 369.1,369.3 370.6,370.2 372.4,372.2 373.4,374.2 374,377.2 373.9,379.2 373.1,382.2 371,388.2 367.1,396.6 365.1,400.2 363.1,403.1 339.1,427.2 333.1,432 326.1,436.6 323.5,438.1 321.1,439.1 318.1,440 315.1,440.4 312.1,440.4 310.1,440.1 307.3,439.1 305.7,438.1 304.6,437.1 303.8,436.1 303.1,434.4 302.8,433.1 302.7,431.1 302.8,429.1 303.5,425.1 304.6,422.2 306.1,419.4 310.3,413.2 314,408.2 318.5,403.2 342.4,379.2 345.1,377.1 350,374.2 356.1,371.2Z"/>
<path fill="#ff2800" d="M362.1,369.2 364.1,368.8 366.1,368.9 368.1,369.5 369.5,370.2 371.1,371.7 372.3,373.2 373.1,375.2 373.5,377.2 373.4,379.2 372.9,381.2 372,384.2 370,389.2 366.3,397.2 363.1,402.1 339.1,426.3 334.1,430.4 328.1,434.4 322.1,437.8 320.1,438.6 317.1,439.3 314.1,439.5 311.1,439.2 308.1,438.2 306.4,437.1 305.4,436.1 304.7,435.1 304.1,433.8 303.7,432.1 303.6,429.1 304.3,425.1 305.4,422.2 307.1,419.2 311.1,413.2 314.8,408.2 319.1,403.4 343.3,379.2 346.1,377.1 351,374.2 357.1,371.2Z"/>
<path fill="#ff2500" d="M360.8,370.2 363.1,369.5 365.1,369.3 367.1,369.7 368.3,370.2 370.1,371.7 371.5,373.2 372.5,375.2 373,377.2 372.9,379.2 372.1,382 369.4,389.2 366.1,396.3 363.1,401 339.1,425.3 334.5,429.1 329.1,432.9 322.1,436.9 320.1,437.7 317.1,438.3 314.1,438.5 311.4,438.1 309.1,437.3 307.2,436.1 306.2,435.1 305.5,434.1 304.8,432.1 304.5,429.1 305.1,425.1 306.2,422.2 307.9,419.2 311.9,413.2 315.6,408.2 319.2,404.2 344.2,379.2 346.8,377.2 350.1,375.2 355.1,372.7Z"/>
<path fill="#f20" d="M362.3,370.2 364.1,369.9 366.1,370.1 368.1,370.9 369.1,371.7 370.7,373.2 371.9,375.2 372.2,376.2 372.4,378.2 372.1,380.1 371.5,382.2 368.5,390.2 366.1,395.2 363.1,399.9 338.1,425.1 334.1,428.5 330.1,431.3 322.1,435.9 320.1,436.7 318.1,437.2 315.1,437.5 312.1,437.2 310.1,436.5 308.1,435.3 307.1,434.3 306.4,433.1 305.7,431.1 305.5,428.1 305.8,426.1 306.3,424.2 307.6,421.2 310,417.2 313.4,412.2 316.5,408.2 320.1,404.2 345.1,379.2 347.7,377.2 352.1,374.7 357.1,372.3Z"/>
<path fill="#ff1f00" d="M361.1,371.2 363.1,370.6 364.1,370.5 366.1,370.7 367.3,371.2 368.8,372.2 370.1,373.7 371.1,375.2 371.8,377.2 371.8,378.2 371.5,380.2 368.7,388.2 366.1,394 364.3,397.2 363.1,398.8 338.1,424.1 334.6,427.1 330.4,430.1 327.1,432.2 322.1,434.9 320.1,435.7 318.1,436.2 315.1,436.4 313.1,436.2 311.1,435.6 309.1,434.4 308.1,433.5 307.2,432.1 306.6,430.1 306.6,427.1 307.2,424.2 308.5,421.2 311.5,416.2 314.2,412.2 317.1,408.4 320.1,405.1 346,379.2 348.7,377.2 352.1,375.2 356.2,373.2Z"/>
<path fill="#ff1c00" d="M363,371.2 365.3,371.2 367.1,371.9 368.1,372.6 369.1,373.5 370.4,375.2 371.1,377.2 371.2,378.2 371.1,379.2 370.3,382.2 368.1,388.2 365.4,394.2 363.1,397.7 338,423.2 334.5,426.1 330.4,429.1 327.1,431.1 323.1,433.3 320.1,434.6 318.1,435.1 315.1,435.3 313.1,435 311.1,434.2 309.6,433.1 308.7,432.1 308.2,431.1 307.6,429.1 307.6,427.1 308.2,424.2 309.1,421.9 312.4,416.2 315.1,412.2 318.2,408.2 321,405.2 346.9,379.2 349.7,377.2 353.2,375.2 358.1,373Z"/>
<path fill="#ff1800" d="M361.6,372.2 363.1,371.8 364.1,371.8 366.1,372.2 367.1,372.7 368.1,373.5 369.6,375.2 370.1,376.5 370.5,378.2 370.4,379.2 369.6,382.2 367.5,388.2 365.1,393.4 363.1,396.5 337.1,422.8 334.1,425.4 331.1,427.6 328.1,429.5 324.1,431.6 320.1,433.4 318.1,434 316.1,434.1 314.1,433.9 312.1,433.2 310.6,432.1 309.7,431.1 308.9,429.1 308.7,427.1 309.2,424.2 311.1,420.2 313.3,416.2 316,412.2 319.1,408.2 347.9,379.2 350.7,377.2 354.1,375.3 358.1,373.5Z"/>
<path fill="#ff1500" d="M360.5,373.2 363.1,372.5 365.1,372.6 366.1,372.9 367.9,374.2 368.7,375.2 369.3,376.2 369.8,378.2 369.8,379.2 369.1,381.7 367.1,387.6 365.1,392 363.1,395.3 337.1,421.6 334.3,424.2 331.6,426.1 328.1,428.4 325.1,430 319.1,432.4 317.1,432.8 315.1,432.7 313.1,432.1 311.7,431.1 310.8,430.1 310,428.1 309.9,426.1 310.4,424.2 312.1,420.2 314.3,416.2 316.9,412.2 319.3,409.2 322,406.2 349,379.2 351.1,377.6 353.5,376.2 357.1,374.5Z"/>
<path fill="#ff1200" d="M362.5,373.2 364.1,373.1 365.1,373.3 366.1,373.7 367.1,374.4 368.5,376.2 368.9,377.2 369.1,379.2 368,383.2 366.1,388.4 364.1,392.4 362.1,395.1 336.3,421.2 332.1,424.6 329.1,426.6 326.1,428.3 323.1,429.6 320.1,430.7 318.1,431.2 316.1,431.3 314.1,430.7 313.1,430.1 312.1,429.1 311.4,427.1 311.4,425.1 312,423.2 313.2,420.2 315.3,416.2 317.9,412.2 320.3,409.2 323.1,406.2 350.1,379.2 352.9,377.2 355.1,376.1 359.1,374.3Z"/>
<path fill="#ff0f00" d="M361.3,374.2 363.1,373.8 364.1,373.8 365.5,374.2 366.9,375.2 367.6,376.2 368.1,377.2 368.3,378.2 368.4,379.2 367.9,381.2 366.1,386.7 364.1,391 362.1,393.7 335.9,420.2 332.1,423.4 329.1,425.4 326.1,427 323.1,428.2 321.1,428.9 319.1,429.3 317.1,429.4 315.7,429.1 314.1,428.3 313.4,427.1 313.1,426.1 313.3,424.2 314.1,421.2 315.4,418.2 317,415.2 319,412.2 321.4,409.2 351.2,379.2 354.1,377.3 356.1,376.2Z"/>
<path fill="#ff0b00" d="M360.3,375.2 363.1,374.5 364.1,374.6 365.1,374.9 366.7,376.2 367.3,377.2 367.6,378.2 367.4,380.2 366,385.2 364.1,389.4 362.1,392.2 335.1,419.4 332,422.2 329.1,424 327.1,425.1 324.8,426.1 322.1,427 320.1,427.3 318.1,427.2 317.1,426.9 316.1,426.3 315.4,425.1 315.2,424.2 315.3,422.2 316.1,419.5 317.1,417.2 318.8,414.2 322.1,409.7 352.5,379.2 355.6,377.2Z"/>
<path fill="#ff0800" d="M359.6,376.2 362.1,375.4 363.1,375.3 364.1,375.4 365.5,376.2 366.3,377.2 366.7,378.2 366.8,379.2 366.6,380.2 365.2,385.2 364.1,387.5 363.1,389.3 362.1,390.5 334.7,418.2 332.1,420.5 328.1,423.1 324.1,424.7 322.1,425.1 320.9,425.1 319.1,424.8 318.1,424.2 317.5,423.2 317.3,422.2 317.5,420.2 318.1,418.2 320.1,414.2 323,410.2 353.9,379.2 357.1,377.3Z"/>
<path fill="#ff0500" d="M362.8,376.2 364.1,376.5 365.1,377.2 365.7,378.2 365.9,379.2 365.2,382.2 364.2,385.2 363.1,387.2 362.1,388.5 333.7,417.2 331.5,419.2 328.1,421.3 325.1,422.5 323.1,422.8 322.1,422.7 320.7,422.2 319.9,421.2 319.7,420.2 319.7,419.2 320.2,417.2 321.1,415.2 322.1,413.4 324.6,410.2 355.6,379.2 357.2,378.2 359.3,377.2Z"/>
<path fill="#ff0200" d="M359.6,378.2 362.1,377.4 363.1,377.4 364.1,378 364.7,379.2 364.1,382.2 363.1,384.5 362.1,386 331.1,417.2 328.1,419.1 326.1,419.8 324.1,419.8 323.1,419.3 322.5,418.2 322.7,416.2 324.1,413.2 325.7,411.2 356.7,380.2 357.8,379.2Z"/></g>
<path d="M286.1,435.2 296.6,414.2 302.4,406.2 309,398.2 329,378.2 341.1,370.4 348.1,366.9 363.1,360.9 367.1,360.1 371.1,360.5 373.1,361.2 378.9,366.2 381.9,370.2 382.9,374.2 382.9,377.2 375.7,397.2M369,411.2 365.1,417.5 362.1,421.2 348.3,435.1 342.5,440.1 330.1,448.9 313,456.1" fill="none" stroke="#2f4f63" stroke-width="2" stroke-dasharray="5.5 4"/>
<path d="M382.4,456.1V265.4" fill="none" stroke="#fff" stroke-width="2" stroke-dasharray="9.6 7.65" stroke-dashoffset="0"/>
<path d="M286.1,360.8H476.2" fill="none" stroke="#fff" stroke-width="2" stroke-dasharray="9.6 7.65" stroke-dashoffset="0"/>
<path d="M286.1,456.1v3.4M381.1,456.1v3.4M476.2,456.1v3.4M286.1,456.1h-3.4M286.1,360.8h-3.4M286.1,265.4h-3.4M333.6,456.1v2.2M428.7,456.1v2.2M286.1,408.4h-2.2M286.1,313.1h-2.2" stroke="#000" stroke-width="1.8" fill="none"/>
<rect x="286.1" y="265.4" width="190.1" height="190.7" fill="none" stroke="#000" stroke-width="2.0"/>
<text x="286.1" y="474" font-size="15.5" text-anchor="middle" >0</text>
<text x="381.1" y="474" font-size="15.5" text-anchor="middle" >1</text>
<text x="476.2" y="474" font-size="15.5" text-anchor="middle" >2</text>
<text x="279.9" y="460.9" font-size="15.5" text-anchor="end" >0</text>
<text x="279.9" y="365.6" font-size="15.5" text-anchor="end" >1</text>
<text x="279.9" y="270.2" font-size="15.5" text-anchor="end" >2</text>
<text x="367.8" y="409.6" font-size="16" text-anchor="middle" >0.9</text>
<defs><linearGradient id="cb489" x1="0" y1="1" x2="0" y2="0"><stop offset="0" stop-color="#00f"/><stop offset=".25" stop-color="#0ff"/><stop offset=".5" stop-color="#0f0"/><stop offset=".75" stop-color="#ff0"/><stop offset="1" stop-color="#f00"/></linearGradient></defs>
<rect x="489.4" y="266.2" width="13.2" height="190.5" fill="url(#cb489)" stroke="#000" stroke-width="2.0"/>
<text x="506.2" y="462.4" font-size="15.5" text-anchor="start" >0</text>
<text x="506.2" y="424.3" font-size="15.5" text-anchor="start" >0.2</text>
<text x="506.2" y="386.2" font-size="15.5" text-anchor="start" >0.4</text>
<text x="506.2" y="348.1" font-size="15.5" text-anchor="start" >0.6</text>
<text x="506.2" y="310" font-size="15.5" text-anchor="start" >0.8</text>
<text x="506.2" y="271.9" font-size="15.5" text-anchor="start" >1</text>
<path d="M502.6,456.7h3M502.6,418.6h3M502.6,380.5h3M502.6,342.4h3M502.6,304.3h3M502.6,266.2h3" stroke="#000" stroke-width="1.8" fill="none"/>
<text x="492" y="256.6" font-size="12.7" text-anchor="middle" >Cross-Correlation</text>
<text x="262" y="264" font-size="14.6" text-anchor="middle" >(c)</text>
<text x="380.5" y="488" font-size="15" text-anchor="middle" >MZM<tspan font-size="10" dy="4.3">1</tspan><tspan dy="-4.3"> feedback intensity</tspan></text>
<text transform="translate(264,360.8) rotate(-90)" font-size="15.2" text-anchor="middle">MZM<tspan font-size="10" dy="4.3">2</tspan><tspan dy="-4.3"> feedback intensity</tspan></text>
</svg>
</body></html>
